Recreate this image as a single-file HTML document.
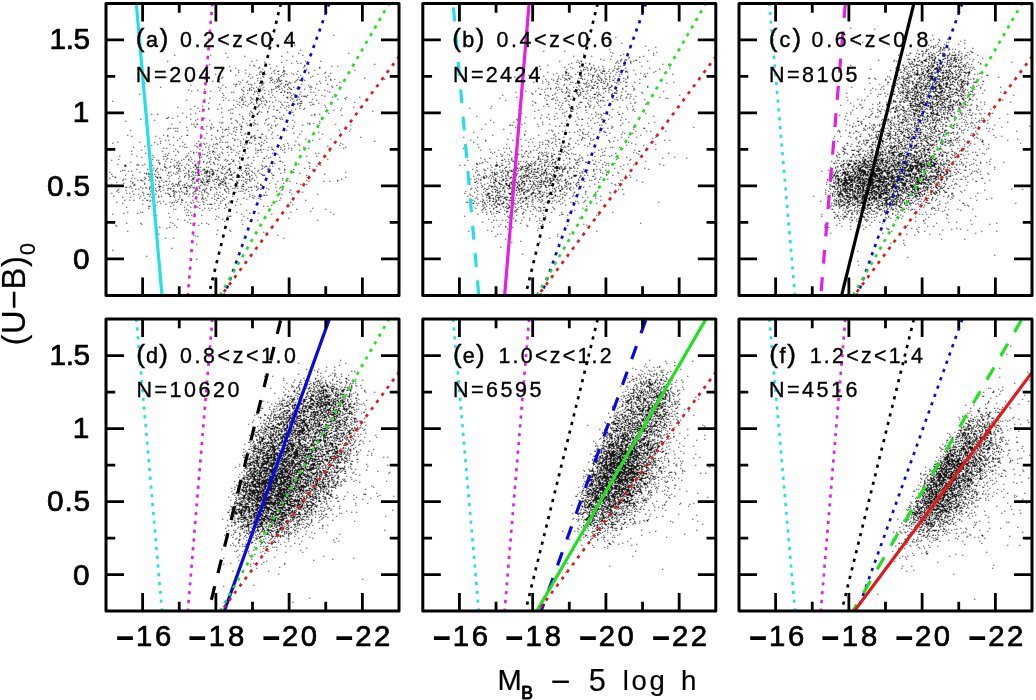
<!DOCTYPE html><html><head><meta charset="utf-8"><title>Color-magnitude diagrams</title><style>html,body{margin:0;padding:0;background:#fff;width:1036px;height:700px;overflow:hidden}svg{display:block}text{font-family:"Liberation Sans",Arial,sans-serif;fill:#000}</style></head><body><svg width="1036" height="700" viewBox="0 0 1036 700"><rect width="1036" height="700" fill="#fff"/><defs><clipPath id="c0"><rect x="106" y="3.4" width="293" height="292"/></clipPath><clipPath id="c1"><rect x="422.8" y="3.4" width="293" height="292"/></clipPath><clipPath id="c2"><rect x="739" y="3.4" width="293" height="292"/></clipPath><clipPath id="c3"><rect x="106" y="319.1" width="293" height="292"/></clipPath><clipPath id="c4"><rect x="422.8" y="319.1" width="293" height="292"/></clipPath><clipPath id="c5"><rect x="739" y="319.1" width="293" height="292"/></clipPath></defs><path d="M162 33h1m170 2h1m-48 2h1m1 3h1m-137 3h1m123 2h1m17 0h1m5 5h1m-14 2h1m-63 1h1m72 0h1m49 0h1m-175 2h1m35 0h1m91 0h1m-59 1h1m36 0h1m10 0h1m-66 1h1m28 3h1m29 0h1m-120 1h1m83 0h1m44 0h1m8 0h1m14 0h1m-57 1h1m16 0h1m9 1h1m5 0h1m2 0h1m-92 1h1m59 0h1m38 0h1m65 0h1m-126 1h1m3 0h1m50 0h1m-76 1h1m24 0h1m10 0h1m10 0h1m27 0h1m26 0h1m5 0h1m-79 1h1m23 0h1m19 0h1m15 0h1m-85 1h1m22 0h1m11 0h1m48 0h1m-58 1h1m43 0h1m-77 1h1m7 0h1m6 0h1m28 0h1m8 0h1m30 0h1m39 0h1m-125 1h1m29 0h1m3 0h1m8 0h1m3 0h2m4 0h2m12 0h1m-60 1h1m20 0h1m1 0h1m20 0h1m25 0h1m16 0h1m-119 1h1m37 0h1m25 0h1m2 0h1m9 0h1m6 0h1m16 0h1m15 0h1m5 0h1m-116 1h1m33 0h1m9 0h1m5 0h1m12 0h1m4 0h1m2 0h1m6 0h1m2 0h1m20 0h1m-83 1h1m20 0h1m24 0h1m18 0h1m-53 1h1m13 0h1m17 0h1m2 0h1m28 0h1m15 0h1m-163 1h1m55 0h1m29 0h1m10 0h1m7 0h1m6 0h1m19 0h1m3 0h1m7 0h1m14 0h1m-124 1h1m18 0h1m28 0h1m6 0h1m2 0h1m8 0h2m7 0h1m22 0h1m62 0h1m-161 1h1m67 0h1m3 0h1m1 0h1m18 0h1m32 0h1m3 0h1m49 0h1m-143 1h1m14 0h1m12 0h2m5 0h1m1 0h1m1 0h1m14 0h1m2 0h1m4 0h1m20 0h1m4 0h1m-119 1h1m25 0h1m8 0h1m14 0h1m11 0h1m2 0h1m1 0h2m4 0h2m8 0h1m23 0h1m-101 1h1m20 0h1m5 0h1m15 0h1m6 0h1m2 0h1m3 0h1m12 0h1m4 0h1m44 0h1m-196 1h1m109 0h1m4 0h1m3 0h1m10 0h1m6 0h1m6 0h1m1 0h1m29 0h1m-88 1h1m1 0h2m2 0h1m8 0h1m1 0h1m11 0h1m17 0h1m4 0h1m1 0h1m13 0h1m14 0h1m10 0h1m-138 1h1m31 0h1m28 0h1m9 0h1m16 0h1m6 0h1m1 0h1m20 0h1m27 0h1m-102 1h1m23 0h1m15 0h1m1 0h1m1 0h1m3 0h1m26 0h1m20 0h1m-172 1h1m57 0h1m6 0h1m17 0h1m7 0h1m4 0h1m6 0h1m12 0h1m1 0h1m5 0h1m3 0h1m4 0h1m3 0h1m11 0h1m1 0h1m20 0h1m-113 1h1m28 0h1m3 0h1m4 0h1m1 0h1m14 0h1m5 0h1m7 0h1m6 0h1m18 0h1m-112 1h1m36 0h1m7 0h1m7 0h1m4 0h1m8 0h1m1 0h1m5 0h1m7 0h1m2 0h2m5 0h1m6 0h1m5 0h1m-123 1h1m8 0h1m21 0h1m22 0h1m4 0h1m1 0h1m1 0h1m8 0h1m3 0h1m6 0h1m10 0h1m35 0h1m5 0h1m-134 1h1m18 0h1m32 0h1m10 0h1m1 0h1m2 0h1m8 0h1m7 0h1m7 0h1m42 0h1m-97 1h1m1 0h1m20 0h1m16 0h1m8 0h2m2 0h1m2 0h1m1 0h1m10 0h1m9 0h1m2 0h1m15 0h1m-108 1h1m24 0h1m9 0h1m6 0h1m22 0h1m2 0h1m-152 1h1m103 0h1m9 0h1m14 0h1m24 0h1m5 0h1m-77 1h1m34 0h1m13 0h1m10 0h1m7 0h1m2 0h1m12 0h1m7 0h1m5 0h1m12 0h1m-93 1h1m19 0h1m34 0h1m3 0h1m1 0h3m18 0h1m-103 1h1m17 0h1m3 0h1m5 0h1m11 0h1m7 0h1m3 0h1m11 0h2m2 0h1m4 0h2m1 0h1m7 0h1m25 0h1m13 0h1m12 0h1m-151 1h1m15 0h1m13 0h1m2 0h1m8 0h1m5 0h1m2 0h1m2 0h1m23 0h1m3 0h1m52 0h1m-141 1h1m36 0h1m10 0h1m6 0h1m32 0h1m4 0h1m1 0h1m12 0h1m24 0h1m7 0h1m-160 1h1m36 0h1m4 0h1m4 0h1m7 0h2m7 0h1m9 0h1m4 0h1m9 0h1m14 0h1m5 0h1m19 0h1m-205 1h1m123 0h1m8 0h1m10 0h1m4 0h1m1 0h1m2 0h1m2 0h1m8 0h1m14 0h1m6 0h2m-63 1h1m3 0h1m7 0h1m4 0h1m9 0h1m5 0h1m7 0h1m3 0h1m2 0h1m21 0h1m1 0h1m42 0h1m-147 1h1m41 0h1m5 0h1m4 0h1m35 0h1m1 0h3m16 0h1m-100 1h1m17 0h1m4 0h2m4 0h1m4 0h1m5 0h1m4 0h1m16 0h1m12 0h1m2 0h1m14 0h2m-81 1h1m5 0h1m5 0h1m12 0h1m6 0h1m16 0h1m5 0h1m2 0h1m8 0h1m9 0h1m13 0h1m-131 1h1m7 0h1m44 0h1m10 0h1m10 0h1m3 0h1m12 0h1m12 0h1m-123 1h1m57 0h1m5 0h1m15 0h1m4 0h1m17 0h1m7 0h1m36 0h1m27 0h1m-157 1h1m10 0h1m12 0h1m46 0h1m15 0h1m14 0h1m4 0h1m36 0h1m-152 1h1m17 0h1m8 0h1m12 0h1m1 0h1m22 0h1m17 0h1m21 0h1m7 0h1m-76 1h1m47 0h2m8 0h1m4 0h1m41 0h1m6 0h1m-142 1h1m50 0h1m8 0h1m7 0h1m104 0h1m-152 1h1m29 0h1m6 0h1m2 0h1m5 0h1m11 0h1m9 0h1m2 0h1m-111 1h1m12 0h1m34 0h1m1 0h1m16 0h1m2 0h1m4 0h1m70 0h1m-178 1h1m5 0h1m32 0h1m48 0h1m16 0h2m56 0h1m4 0h1m-71 1h1m33 0h1m9 0h1m17 0h1m2 0h1m26 0h1m-165 1h1m64 0h1m9 0h1m1 0h1m17 0h1m1 0h1m-107 1h1m17 0h1m35 0h1m58 0h1m39 0h1m-156 1h2m4 0h1m31 0h1m26 0h1m10 0h1m25 0h1m6 0h2m2 0h1m-140 1h1m49 0h1m6 0h1m32 0h1m12 0h1m22 0h1m13 0h1m1 0h1m38 0h1m-175 1h1m6 0h1m40 0h1m5 0h1m7 0h1m25 0h1m13 0h1m4 0h1m10 0h1m26 0h1m-168 1h1m110 0h1m37 0h1m44 0h1m-141 1h1m39 0h1m2 0h1m14 0h1m4 0h1m10 0h1m32 0h1m7 0h1m-74 1h1m9 0h1m14 0h1m7 0h1m9 0h1m42 0h1m1 0h1m3 0h1m5 0h1m-149 1h1m19 0h1m1 0h1m2 0h2m13 0h1m27 0h1m15 0h1m1 0h1m10 0h1m8 0h1m31 0h1m25 0h1m-89 1h1m5 0h1m13 0h1m3 0h1m3 0h1m26 0h1m47 0h1m-157 1h1m11 0h1m33 0h2m33 0h1m11 0h1m5 0h1m-108 1h1m8 0h1m14 0h1m2 0h1m6 0h1m7 0h1m5 0h1m1 0h1m4 0h1m28 0h1m46 0h1m-150 1h1m1 0h1m2 0h1m1 0h1m1 0h1m33 0h1m21 0h1m37 0h1m20 0h1m-126 1h1m35 0h1m6 0h1m11 0h1m2 0h2m1 0h1m7 0h1m3 0h2m108 0h1m-221 1h1m56 0h1m29 0h1m6 0h1m32 0h1m10 0h1m17 0h1m52 0h1m-165 1h1m1 0h1m39 0h1m15 0h1m67 0h1m47 0h1m-128 1h1m12 0h1m4 0h1m31 0h1m45 0h1m-113 1h1m22 0h1m15 0h1m47 0h1m-94 1h1m30 0h1m12 0h1m16 0h2m8 0h1m27 0h1m22 0h1m-196 1h1m35 0h1m3 0h1m18 0h2m23 0h1m15 0h1m7 0h1m5 0h1m12 0h1m22 0h1m-147 1h1m23 0h1m11 0h1m13 0h1m39 0h1m1 0h1m27 0h1m1 0h1m11 0h1m-93 1h1m41 0h1m6 0h1m23 0h1m3 0h2m2 0h1m3 0h3m36 0h1m62 0h1m-202 1h1m19 0h1m20 0h1m3 0h1m14 0h1m12 0h1m17 0h1m3 0h2m4 0h1m5 0h1m5 0h1m-62 1h1m4 0h1m17 0h1m2 0h1m5 0h1m61 0h1m13 0h1m10 0h1m-166 1h1m2 0h1m8 0h1m42 0h1m13 0h1m13 0h1m5 0h1m9 0h1m47 0h1m-153 1h1m37 0h1m41 0h1m6 0h1m47 0h1m78 0h1m-258 1h1m21 0h1m14 0h1m27 0h1m36 0h1m2 0h1m2 0h1m1 0h1m21 0h1m11 0h1m4 0h1m-155 1h1m47 0h1m35 0h1m3 0h1m2 0h1m2 0h1m9 0h1m23 0h1m8 0h1m1 0h1m6 0h1m4 0h1m23 0h1m52 0h1m-184 1h1m11 0h1m14 0h1m19 0h1m8 0h1m1 0h1m1 0h1m26 0h1m1 0h1m8 0h1m3 0h1m23 0h1m14 0h1m43 0h1m-192 1h1m21 0h1m20 0h1m14 0h1m23 0h1m6 0h1m20 0h1m26 0h1m5 0h1m4 0h1m39 0h1m-196 1h1m34 0h1m2 0h1m13 0h1m15 0h1m15 0h1m8 0h1m22 0h1m23 0h1m42 0h1m-195 1h1m50 0h1m1 0h1m10 0h1m7 0h1m2 0h1m11 0h1m5 0h2m2 0h1m11 0h1m1 0h1m23 0h1m2 0h1m8 0h1m22 0h1m41 0h1m-183 1h1m2 0h1m47 0h1m1 0h1m30 0h1m7 0h1m32 0h1m2 0h1m16 0h1m34 0h1m-169 1h1m23 0h1m8 0h1m13 0h1m7 0h2m28 0h1m2 0h1m7 0h2m7 0h1m3 0h1m19 0h1m-164 1h1m60 0h1m30 0h1m21 0h1m1 0h2m1 0h1m6 0h1m5 0h1m8 0h1m8 0h1m7 0h1m-169 1h1m30 0h1m10 0h1m3 0h1m12 0h1m18 0h1m2 0h2m25 0h1m89 0h1m-152 1h1m14 0h1m2 0h1m10 0h1m4 0h1m1 0h1m6 0h1m5 0h1m3 0h1m4 0h1m20 0h1m3 0h1m22 0h1m-140 1h1m22 0h1m19 0h1m4 0h1m4 0h1m10 0h1m12 0h1m15 0h1m6 0h1m9 0h1m16 0h1m2 0h1m39 0h1m2 0h1m-188 1h1m33 0h1m36 0h1m1 0h1m8 0h1m5 0h1m54 0h1m2 0h1m-126 1h1m14 0h1m7 0h1m11 0h1m12 0h1m6 0h1m9 0h1m10 0h1m6 0h1m6 0h1m-124 1h1m16 0h1m26 0h1m1 0h1m20 0h1m12 0h1m6 0h1m50 0h1m8 0h1m39 0h1m9 0h1m-176 1h1m11 0h1m31 0h1m4 0h1m8 0h1m1 0h1m8 0h1m3 0h1m3 0h2m19 0h1m8 0h1m4 0h1m16 0h1m8 0h1m-113 1h1m31 0h1m8 0h1m6 0h1m23 0h1m1 0h1m5 0h1m15 0h2m3 0h1m-151 1h1m33 0h1m10 0h1m2 0h1m4 0h1m11 0h1m4 0h1m2 0h1m18 0h1m4 0h1m1 0h1m7 0h1m5 0h1m95 0h1m-217 1h1m44 0h1m1 0h1m15 0h1m6 0h1m6 0h1m10 0h1m18 0h1m5 0h1m2 0h1m5 0h1m19 0h1m-89 1h1m12 0h1m11 0h1m3 0h1m8 0h1m5 0h1m16 0h1m5 0h2m4 0h1m23 0h1m16 0h2m-151 1h1m19 0h1m7 0h1m11 0h1m5 0h1m22 0h1m3 0h1m3 0h1m1 0h1m3 0h1m68 0h1m12 0h1m12 0h1m-150 1h1m17 0h1m1 0h1m12 0h1m13 0h1m6 0h1m16 0h1m8 0h1m11 0h1m20 0h1m1 0h1m34 0h1m-193 1h1m19 0h1m6 0h1m5 0h1m8 0h1m4 0h1m21 0h1m8 0h1m14 0h1m3 0h1m2 0h1m10 0h2m17 0h1m50 0h1m-175 1h2m10 0h1m1 0h1m3 0h1m9 0h1m20 0h1m2 0h1m1 0h1m2 0h1m6 0h1m5 0h2m2 0h1m21 0h1m14 0h1m8 0h1m1 0h1m1 0h1m12 0h1m22 0h1m35 0h1m-197 1h2m38 0h1m5 0h1m3 0h1m3 0h1m16 0h1m26 0h1m2 0h1m24 0h1m11 0h1m2 0h2m2 0h1m2 0h1m36 0h1m6 0h1m-153 1h2m3 0h1m4 0h1m9 0h1m8 0h1m2 0h3m1 0h1m5 0h1m1 0h1m13 0h1m41 0h1m-112 1h1m3 0h1m8 0h1m9 0h2m1 0h1m5 0h1m4 0h1m5 0h1m21 0h1m2 0h1m2 0h1m4 0h1m7 0h1m1 0h1m5 0h2m1 0h1m5 0h1m7 0h1m5 0h1m9 0h1m25 0h1m4 0h1m-174 1h1m10 0h1m8 0h1m3 0h1m18 0h1m15 0h1m1 0h2m4 0h2m5 0h2m10 0h1m5 0h2m31 0h1m5 0h1m1 0h1m9 0h1m4 0h1m8 0h1m18 0h1m-191 1h1m1 0h1m27 0h1m2 0h1m6 0h1m2 0h1m12 0h1m4 0h1m4 0h1m9 0h1m3 0h1m1 0h1m2 0h1m4 0h1m2 0h1m1 0h1m9 0h1m1 0h1m9 0h1m1 0h1m3 0h1m3 0h1m8 0h1m10 0h1m14 0h1m-165 1h1m7 0h1m2 0h1m23 0h1m22 0h1m1 0h1m7 0h1m3 0h1m4 0h1m2 0h1m4 0h3m1 0h1m1 0h2m4 0h1m12 0h1m13 0h1m2 0h1m3 0h1m5 0h1m-149 1h1m29 0h1m17 0h1m10 0h1m1 0h1m5 0h1m11 0h1m2 0h1m1 0h1m1 0h1m8 0h1m1 0h2m1 0h1m3 0h1m6 0h1m5 0h2m2 0h1m3 0h1m10 0h1m6 0h1m15 0h2m14 0h1m6 0h3m51 0h1m-202 1h1m1 0h1m1 0h1m19 0h1m4 0h1m3 0h1m6 0h1m1 0h1m8 0h1m1 0h2m5 0h3m2 0h1m2 0h2m7 0h2m2 0h1m7 0h1m8 0h1m3 0h1m1 0h1m5 0h1m4 0h1m11 0h1m8 0h1m18 0h1m-189 1h1m34 0h1m1 0h2m4 0h1m3 0h1m16 0h1m12 0h1m3 0h1m5 0h1m2 0h1m9 0h3m2 0h1m7 0h1m4 0h1m1 0h1m5 0h1m8 0h1m1 0h1m12 0h1m62 0h1m-200 1h1m6 0h1m34 0h1m3 0h1m13 0h1m2 0h1m4 0h1m1 0h1m1 0h3m6 0h1m2 0h1m2 0h1m15 0h1m1 0h2m4 0h1m4 0h1m4 0h1m4 0h1m3 0h1m6 0h3m7 0h2m32 0h1m-195 1h1m35 0h1m6 0h1m13 0h1m9 0h1m4 0h1m4 0h1m1 0h1m12 0h1m2 0h3m6 0h1m1 0h1m5 0h1m14 0h1m9 0h1m58 0h1m-195 1h2m28 0h1m4 0h1m2 0h1m3 0h2m1 0h2m23 0h1m3 0h1m5 0h1m11 0h1m2 0h1m1 0h1m6 0h1m6 0h1m6 0h1m3 0h1m2 0h1m2 0h2m5 0h1m6 0h1m88 0h1m-237 1h1m21 0h1m2 0h1m10 0h1m11 0h1m2 0h1m7 0h1m9 0h1m13 0h2m4 0h1m3 0h1m14 0h1m5 0h1m1 0h2m25 0h1m19 0h1m9 0h1m-160 1h1m1 0h1m18 0h1m4 0h1m1 0h1m36 0h1m3 0h2m5 0h1m2 0h1m3 0h1m1 0h2m4 0h3m1 0h1m2 0h1m1 0h1m5 0h3m13 0h1m1 0h1m1 0h1m1 0h1m89 0h1m-220 1h1m14 0h1m2 0h2m6 0h1m6 0h1m5 0h1m29 0h1m4 0h2m2 0h1m2 0h1m3 0h1m4 0h1m4 0h1m1 0h1m4 0h1m7 0h1m5 0h1m2 0h1m7 0h1m4 0h1m27 0h1m23 0h1m30 0h1m-208 1h1m11 0h1m7 0h1m7 0h1m6 0h2m2 0h1m9 0h2m11 0h1m3 0h1m4 0h1m4 0h4m3 0h1m6 0h1m1 0h2m12 0h1m6 0h1m2 0h1m3 0h1m26 0h1m8 0h1m2 0h1m18 0h1m14 0h1m5 0h1m7 0h1m-222 1h1m15 0h1m18 0h1m7 0h1m3 0h1m14 0h1m15 0h1m5 0h3m1 0h1m1 0h2m8 0h1m4 0h2m2 0h1m10 0h2m7 0h1m-123 1h1m8 0h1m11 0h1m27 0h1m5 0h1m7 0h1m5 0h1m1 0h1m3 0h1m3 0h1m5 0h1m10 0h2m3 0h2m2 0h1m8 0h1m8 0h1m10 0h1m11 0h1m13 0h1m12 0h1m-186 1h1m22 0h1m9 0h1m6 0h1m3 0h1m2 0h1m9 0h1m2 0h1m3 0h2m1 0h1m5 0h1m18 0h1m1 0h1m8 0h1m3 0h1m1 0h1m1 0h1m2 0h1m16 0h2m16 0h1m14 0h1m24 0h1m5 0h1m-174 1h2m28 0h1m2 0h1m6 0h1m3 0h1m1 0h1m2 0h1m1 0h1m2 0h1m2 0h2m8 0h1m3 0h1m2 0h1m10 0h2m3 0h1m36 0h2m-141 1h1m8 0h1m19 0h1m7 0h3m11 0h1m1 0h1m2 0h1m10 0h2m8 0h1m26 0h2m3 0h1m4 0h1m1 0h1m3 0h3m10 0h1m1 0h1m-132 1h2m2 0h1m10 0h1m4 0h1m3 0h1m9 0h1m2 0h1m20 0h4m3 0h1m1 0h1m1 0h1m1 0h1m2 0h1m10 0h2m2 0h1m3 0h1m16 0h1m12 0h1m1 0h2m4 0h1m18 0h1m4 0h1m-150 1h1m10 0h1m3 0h1m2 0h1m5 0h1m11 0h2m1 0h1m2 0h1m6 0h1m5 0h1m2 0h1m3 0h1m5 0h1m6 0h1m8 0h1m4 0h1m5 0h2m4 0h1m1 0h1m2 0h1m3 0h1m16 0h1m7 0h1m12 0h1m-162 1h1m16 0h1m2 0h1m10 0h1m9 0h1m10 0h1m9 0h1m14 0h1m7 0h1m1 0h1m4 0h1m5 0h1m7 0h1m3 0h1m14 0h1m2 0h1m10 0h1m2 0h1m7 0h1m13 0h1m-166 1h1m7 0h1m26 0h1m2 0h1m2 0h1m4 0h1m3 0h1m5 0h1m12 0h1m10 0h1m4 0h1m1 0h1m5 0h1m13 0h1m20 0h1m5 0h1m4 0h1m24 0h1m8 0h1m-175 1h1m15 0h1m17 0h1m5 0h1m3 0h1m11 0h2m1 0h1m2 0h1m2 0h1m4 0h2m6 0h2m3 0h1m4 0h1m20 0h1m2 0h1m9 0h1m1 0h1m1 0h1m5 0h1m27 0h1m19 0h1m-179 1h1m23 0h1m31 0h1m1 0h1m2 0h1m2 0h1m10 0h1m7 0h1m2 0h1m1 0h1m9 0h1m2 0h1m6 0h1m8 0h1m29 0h1m23 0h1m12 0h1m-192 1h1m14 0h1m2 0h1m13 0h1m21 0h1m1 0h1m5 0h1m10 0h1m1 0h1m5 0h1m2 0h1m11 0h1m20 0h1m15 0h1m34 0h1m-147 1h1m4 0h1m8 0h2m1 0h1m4 0h1m12 0h2m4 0h1m9 0h1m1 0h1m2 0h1m3 0h1m4 0h1m2 0h1m6 0h1m5 0h1m1 0h1m5 0h1m26 0h1m31 0h1m9 0h1m25 0h1m-175 1h1m29 0h1m5 0h1m22 0h1m15 0h1m33 0h1m10 0h2m1 0h1m-154 1h1m26 0h1m8 0h1m8 0h1m2 0h1m7 0h2m2 0h1m14 0h1m3 0h1m14 0h1m6 0h1m5 0h1m11 0h1m16 0h1m4 0h1m6 0h1m-140 1h1m7 0h1m20 0h1m6 0h1m15 0h1m4 0h1m16 0h1m5 0h1m23 0h1m25 0h1m-114 1h1m4 0h1m57 0h1m2 0h1m5 0h1m5 0h2m4 0h1m19 0h1m9 0h1m4 0h1m21 0h1m-129 1h1m25 0h1m2 0h1m19 0h1m1 0h1m10 0h1m9 0h1m12 0h1m8 0h1m13 0h1m-137 1h1m4 0h1m3 0h1m8 0h1m3 0h2m2 0h1m24 0h1m5 0h2m9 0h1m13 0h1m9 0h1m5 0h1m56 0h1m25 0h1m-157 1h1m9 0h1m3 0h1m13 0h1m18 0h1m5 0h1m17 0h1m8 0h1m6 0h1m39 0h1m-161 1h1m40 0h1m11 0h1m2 0h1m1 0h1m1 0h1m4 0h1m3 0h1m4 0h1m2 0h1m4 0h1m4 0h1m27 0h1m41 0h1m16 0h1m-169 1h1m37 0h1m10 0h1m19 0h1m22 0h1m5 0h1m7 0h1m-87 1h1m22 0h1m14 0h1m22 0h1m3 0h1m1 0h3m13 0h1m14 0h1m51 0h1m-138 1h1m17 0h1m13 0h1m11 0h1m18 0h1m6 0h1m9 0h1m35 0h1m-124 1h2m20 0h1m23 0h1m68 0h1m3 0h1m-142 1h1m57 0h1m5 0h1m4 0h1m1 0h1m28 0h1m-79 1h1m50 0h1m4 0h1m3 0h1m2 0h1m6 0h1m5 0h1m87 0h1m-140 1h1m1 0h1m10 0h1m28 0h1m13 0h1m66 0h1m28 0h1m-142 1h1m3 0h1m13 0h1m6 0h1m19 0h1m16 0h1m-18 1h1m80 0h1m-184 1h1m12 0h1m1 0h1m44 0h1m2 0h1m45 0h1m53 0h1m39 0h1m-208 1h1m13 0h1m30 0h1m25 0h1m54 0h1m3 0h1m4 0h1m-147 1h1m128 0h1m29 0h1m61 0h1m-181 1h2m1 0h1m29 0h1m1 0h1m2 0h1m9 0h1m14 1h1m10 0h1m1 0h2m12 0h1m-75 1h1m48 0h1m28 1h1m40 0h1m-112 1h1m11 0h1m25 0h1m6 0h1m-39 1h1m56 0h1m15 0h1m59 0h1m-94 1h1m-55 1h1m16 0h1m-62 1h1m13 0h1m14 0h1m16 0h1m17 0h1m3 0h1m6 0h1m4 0h1m-66 1h1m66 0h1m33 0h1m-128 1h1m58 0h1m23 0h1m-83 1h1m42 1h1m9 0h1m6 0h1m-11 1h1m50 2h1m11 0h1m-103 1h1m102 0h1m32 1h1m-72 1h1m-35 1h1m57 0h1m-24 1h1m83 0h1m-83 1h1m1 0h1m-33 2h1m7 0h1m109 0h1m-88 6h1m-26 4h1m-60 2h1m33 6h1m49 3h1" stroke="#000" stroke-width="1.1" fill="none" transform="translate(0.3 0.3)" opacity="0.9"/><path d="M615 37h1m-13 5h1m4 0h1m12 1h1m23 3h1m9 1h1m-27 1h1m-21 1h1m38 1h1m-106 1h1m20 0h1m45 1h1m45 0h1m-45 1h1m40 0h1m-71 1h1m39 0h1m-4 1h1m32 0h1m-81 1h1m17 0h1m19 0h1m31 0h1m-15 1h1m9 0h1m-56 1h1m43 0h1m-29 1h1m9 0h1m10 0h1m3 0h1m-49 1h1m25 0h1m16 0h1m3 0h1m1 0h1m8 0h2m-78 1h1m20 0h2m35 0h1m2 0h1m9 0h1m2 0h1m13 0h1m-72 1h1m1 0h1m37 0h1m7 0h1m5 0h1m8 0h1m-69 1h1m7 0h1m5 0h1m3 0h1m25 0h1m2 0h1m11 0h1m-63 1h1m20 0h1m72 0h1m5 0h1m-122 1h1m45 0h1m29 0h2m-86 1h1m39 0h1m22 0h1m11 0h1m3 0h1m1 0h1m20 0h1m-78 1h1m5 0h1m8 0h1m4 0h1m1 0h1m4 0h1m6 0h1m-27 1h1m14 0h1m3 0h1m2 0h1m8 0h1m10 0h1m3 0h1m6 0h1m23 0h1m19 0h1m-130 1h1m25 0h1m16 0h1m1 0h1m4 0h1m3 0h1m14 0h1m6 0h2m41 0h1m-80 1h1m2 0h1m3 0h1m2 0h1m5 0h1m2 0h1m3 0h1m9 0h1m9 0h1m9 0h1m-69 1h1m15 0h1m13 0h1m6 0h3m3 0h1m3 0h1m5 0h1m6 0h2m28 0h1m-109 1h1m17 0h2m10 0h1m2 0h1m13 0h1m5 0h1m15 0h1m8 0h1m1 0h1m25 0h1m-98 1h1m8 0h2m1 0h1m19 0h1m12 0h2m3 0h1m3 0h1m29 0h1m6 0h1m-111 1h1m15 0h1m21 0h1m4 0h1m3 0h1m5 0h1m6 0h1m6 0h1m10 0h1m3 0h1m1 0h1m13 0h1m8 0h1m27 0h1m-145 1h1m33 0h1m2 0h1m1 0h2m10 0h2m7 0h1m3 0h2m4 0h1m-70 1h1m13 0h1m14 0h1m11 0h1m9 0h2m10 0h1m3 0h1m1 0h1m6 0h1m3 0h1m3 0h1m5 0h1m7 0h1m15 0h1m1 0h1m-132 1h1m47 0h1m8 0h1m20 0h1m4 0h1m1 0h1m9 0h1m17 0h1m17 0h1m-88 1h1m5 0h1m3 0h2m8 0h1m1 0h2m18 0h1m3 0h1m9 0h1m8 0h1m3 0h1m-83 1h1m5 0h1m5 0h1m2 0h1m4 0h2m2 0h1m12 0h1m1 0h1m7 0h1m4 0h1m3 0h1m3 0h2m2 0h1m8 0h1m6 0h1m13 0h1m-87 1h1m10 0h1m2 0h1m19 0h1m2 0h1m7 0h2m1 0h1m10 0h2m-72 1h1m3 0h1m9 0h2m20 0h1m12 0h1m3 0h1m7 0h1m1 0h1m3 0h1m13 0h1m-91 1h1m14 0h1m21 0h1m1 0h1m6 0h1m6 0h1m4 0h1m2 0h1m5 0h2m12 0h1m2 0h1m2 0h1m4 0h2m7 0h1m38 0h1m-132 1h1m12 0h1m19 0h1m3 0h1m3 0h1m1 0h1m2 0h1m7 0h2m5 0h2m2 0h1m8 0h1m22 0h1m26 0h1m-119 1h1m8 0h1m6 0h1m4 0h1m14 0h1m1 0h1m20 0h1m10 0h1m-56 1h1m14 0h1m10 0h1m3 0h2m12 0h1m3 0h1m-33 1h1m6 0h1m1 0h1m2 0h1m5 0h1m4 0h1m3 0h1m4 0h1m13 0h2m5 0h1m14 0h1m-92 1h1m1 0h1m7 0h1m6 0h1m2 0h1m8 0h1m1 0h1m4 0h1m4 0h1m11 0h2m36 0h1m-110 1h1m8 0h1m2 0h1m4 0h1m10 0h1m14 0h1m9 0h3m2 0h1m5 0h1m1 0h2m2 0h1m5 0h1m7 0h1m10 0h1m-93 1h1m3 0h1m4 0h1m8 0h1m1 0h1m5 0h1m10 0h1m3 0h1m15 0h1m4 0h1m5 0h1m12 0h1m11 0h1m-78 1h1m11 0h1m9 0h1m7 0h1m2 0h1m17 0h1m2 0h1m4 0h1m16 0h1m-109 1h1m9 0h1m25 0h1m4 0h1m6 0h2m7 0h2m2 0h1m18 0h1m10 0h1m8 0h1m37 0h1m-149 1h1m28 0h1m17 0h1m3 0h1m1 0h1m8 0h1m2 0h1m15 0h1m1 0h1m9 0h1m5 0h1m6 0h1m19 0h1m-111 1h1m23 0h1m9 0h1m3 0h1m6 0h1m3 0h1m6 0h1m15 0h1m8 0h1m1 0h3m25 0h1m-111 1h1m6 0h2m13 0h1m22 0h1m1 0h1m5 0h1m7 0h3m2 0h2m11 0h1m15 0h2m1 0h1m-129 1h1m42 0h1m1 0h1m4 0h1m15 0h1m9 0h1m1 0h1m16 0h1m2 0h1m10 0h1m9 0h1m57 0h1m-132 1h1m18 0h3m2 0h1m5 0h1m4 0h1m5 0h1m7 0h1m22 0h1m9 0h1m4 0h1m-120 1h1m39 0h1m35 0h1m1 0h1m7 0h2m12 0h1m9 0h1m32 0h1m-161 1h1m44 0h1m8 0h1m10 0h2m17 0h1m1 0h2m3 0h1m3 0h1m17 0h1m7 0h1m4 0h1m3 0h1m35 0h1m1 0h1m-117 1h2m17 0h1m26 0h1m16 0h1m1 0h1m16 0h1m10 0h1m-140 1h1m40 0h1m8 0h1m1 0h1m8 0h1m21 0h1m11 0h1m1 0h1m4 0h1m9 0h1m4 0h1m-91 1h1m32 0h1m2 0h1m21 0h1m7 0h1m1 0h1m2 0h1m8 0h1m-79 1h1m24 0h1m19 0h3m14 0h1m38 0h1m-101 1h1m19 0h1m6 0h1m24 0h1m9 0h1m32 0h1m3 0h1m11 0h1m-101 1h2m20 0h1m9 0h1m9 0h1m21 0h1m34 0h1m-114 1h1m25 0h1m2 0h1m7 0h1m20 0h1m7 0h1m5 0h1m3 0h1m-118 1h1m51 0h1m4 0h1m27 0h1m8 0h1m3 0h1m4 0h1m37 0h1m-73 1h1m8 0h1m9 0h1m5 0h1m3 0h1m10 0h1m18 0h1m6 0h1m-158 1h1m20 0h1m64 0h1m15 0h1m5 0h1m15 0h1m-35 1h1m2 0h1m10 0h1m38 0h1m14 0h1m5 0h1m-116 1h1m19 0h1m31 0h1m14 0h1m46 0h1m-99 1h1m31 0h1m3 0h3m61 0h1m-71 1h1m21 0h1m8 0h1m21 0h1m-97 1h1m34 0h1m5 0h1m13 0h1m26 0h1m18 0h1m22 0h1m-98 1h1m21 0h1m20 0h1m4 0h1m1 0h1m1 0h1m6 0h1m10 0h2m-79 1h1m28 0h1m30 0h1m7 0h1m-134 1h1m77 0h1m9 0h1m6 0h1m23 0h1m57 0h1m-129 1h1m20 0h1m30 0h1m22 0h1m10 0h1m9 0h1m-88 1h1m5 0h1m16 0h1m11 0h1m18 0h1m3 0h1m5 0h1m-83 1h1m32 0h1m4 0h1m23 0h1m2 0h2m18 0h2m5 0h1m16 0h1m-136 1h1m26 0h1m48 0h1m23 0h1m13 0h1m15 0h1m-46 1h1m-83 1h1m19 0h1m28 0h1m54 0h1m30 0h1m25 0h1m-131 1h1m36 0h1m25 0h1m6 0h1m10 0h1m16 0h1m25 0h1m-164 1h1m35 0h1m15 0h1m4 0h1m6 0h1m26 0h1m-68 1h2m1 0h1m64 0h1m3 0h1m17 0h1m1 0h1m18 0h1m-83 1h1m16 0h1m3 0h1m4 0h1m23 0h1m22 0h1m-97 1h1m3 0h1m92 0h1m20 0h1m59 0h1m-103 1h1m8 0h1m1 0h1m4 0h1m3 0h1m31 0h2m-164 1h1m21 0h1m75 0h1m3 0h1m49 0h1m-117 1h1m30 0h1m2 0h1m13 0h1m14 0h1m-56 1h1m26 0h1m9 0h1m14 0h1m25 0h1m31 0h1m10 0h1m3 0h1m14 0h1m-193 1h1m95 0h1m4 0h1m7 0h1m5 0h1m10 0h1m4 0h2m16 0h1m-113 1h1m35 0h1m11 0h1m23 0h1m26 0h1m14 0h1m7 0h1m-116 1h1m6 0h1m29 0h1m28 0h1m1 0h1m1 0h1m5 0h1m27 0h1m-130 1h1m31 0h1m13 0h1m14 0h1m25 0h1m26 0h1m33 0h1m-124 1h1m37 0h1m32 0h1m67 0h1m-194 1h1m13 0h1m85 0h1m18 0h1m31 0h1m6 0h1m6 0h1m7 0h1m18 0h1m-123 1h1m17 0h1m1 0h1m16 0h1m11 0h1m1 0h1m5 0h1m61 0h1m-146 1h1m12 0h1m9 0h1m24 0h1m2 0h2m9 0h1m11 0h1m11 0h1m-124 1h1m14 0h1m26 0h1m12 0h1m19 0h1m1 0h1m29 0h1m3 0h1m8 0h1m1 0h1m15 0h1m8 0h1m46 0h1m4 0h1m-185 1h1m62 0h1m6 0h1m53 0h1m3 0h1m-141 1h1m54 0h1m3 0h1m6 0h1m2 0h1m5 0h1m3 0h1m56 0h1m18 0h1m-78 1h1m7 0h1m8 0h1m6 0h1m13 0h1m41 0h1m-155 1h1m28 0h1m35 0h1m2 0h1m1 0h1m7 0h1m12 0h2m8 0h1m10 0h1m45 0h1m19 0h1m-117 1h1m21 0h1m22 0h1m41 0h1m16 0h1m-123 1h1m6 0h1m5 0h1m13 0h1m7 0h1m3 0h1m3 0h1m2 0h2m18 0h1m-110 1h1m60 0h1m21 0h1m1 0h1m1 0h1m7 0h1m36 0h1m1 0h1m6 0h1m-157 1h1m39 0h1m2 0h1m2 0h1m27 0h1m7 0h1m6 0h1m7 0h1m44 0h1m-117 1h1m25 0h1m45 0h1m8 0h1m30 0h1m53 0h1m-176 1h1m17 0h1m22 0h1m11 0h1m2 0h1m16 0h1m14 0h1m29 0h1m35 0h1m10 0h1m-136 1h1m14 0h2m3 0h1m27 0h1m1 0h1m3 0h1m39 0h1m33 0h2m-150 1h1m3 0h1m9 0h1m6 0h1m18 0h1m8 0h1m1 0h1m2 0h1m1 0h1m14 0h1m1 0h1m2 0h1m27 0h1m7 0h1m30 0h1m-142 1h1m22 0h1m8 0h1m3 0h1m9 0h1m3 0h1m5 0h1m2 0h1m15 0h1m3 0h1m20 0h1m22 0h1m20 0h1m31 0h1m-169 1h1m6 0h1m9 0h2m2 0h1m19 0h1m4 0h1m6 0h2m3 0h3m7 0h1m4 0h1m1 0h1m62 0h1m-174 1h1m36 0h1m6 0h1m33 0h1m1 0h1m5 0h1m13 0h1m13 0h1m7 0h1m14 0h1m1 0h1m6 0h1m-116 1h1m4 0h1m19 0h1m1 0h1m3 0h1m10 0h1m3 0h1m3 0h2m3 0h2m41 0h1m5 0h1m8 0h1m-96 1h1m7 0h1m5 0h1m4 0h1m4 0h1m8 0h1m3 0h1m29 0h1m44 0h1m47 0h1m-195 1h1m8 0h1m21 0h1m26 0h1m17 0h1m1 0h1m7 0h1m2 0h1m9 0h1m2 0h1m35 0h1m43 0h1m23 0h1m-203 1h1m19 0h1m3 0h1m2 0h1m25 0h2m1 0h1m1 0h1m4 0h1m4 0h2m15 0h1m4 0h1m3 0h1m37 0h1m13 0h1m-164 1h1m33 0h2m8 0h1m3 0h1m28 0h1m1 0h1m4 0h1m5 0h1m5 0h1m11 0h1m1 0h1m4 0h1m9 0h1m7 0h1m28 0h1m-145 1h1m19 0h1m2 0h1m3 0h2m4 0h1m1 0h1m2 0h1m2 0h1m4 0h1m3 0h1m3 0h2m6 0h1m7 0h1m23 0h1m15 0h1m49 0h1m-164 1h1m4 0h1m8 0h1m17 0h1m10 0h1m8 0h1m9 0h3m2 0h1m2 0h1m1 0h2m13 0h1m6 0h2m7 0h2m11 0h1m5 0h1m-129 1h1m2 0h1m1 0h1m19 0h1m7 0h1m8 0h1m8 0h1m2 0h1m2 0h1m1 0h1m5 0h1m10 0h1m1 0h1m20 0h1m30 0h1m1 0h1m5 0h1m-139 1h2m18 0h1m11 0h1m6 0h1m2 0h1m9 0h1m2 0h1m2 0h1m4 0h1m4 0h1m3 0h1m2 0h1m3 0h1m2 0h1m4 0h1m3 0h1m8 0h1m16 0h2m7 0h1m24 0h1m31 0h1m-201 1h1m4 0h1m25 0h1m4 0h3m3 0h2m13 0h1m9 0h1m1 0h3m3 0h1m3 0h1m5 0h1m33 0h1m26 0h1m2 0h1m14 0h1m9 0h1m29 0h1m-169 1h2m2 0h1m15 0h1m4 0h1m1 0h1m1 0h2m3 0h1m1 0h1m9 0h1m2 0h1m2 0h2m1 0h1m1 0h2m6 0h1m4 0h1m7 0h1m22 0h1m23 0h1m-145 1h1m14 0h1m7 0h1m5 0h2m2 0h1m4 0h1m1 0h1m4 0h2m4 0h2m12 0h1m12 0h2m3 0h1m1 0h1m2 0h1m4 0h1m3 0h1m28 0h1m-116 1h1m16 0h1m10 0h3m1 0h1m1 0h1m3 0h3m3 0h1m5 0h2m7 0h1m7 0h1m3 0h2m1 0h1m2 0h2m3 0h3m2 0h1m2 0h1m36 0h1m29 0h1m-173 1h1m10 0h1m10 0h1m18 0h1m2 0h1m3 0h2m1 0h1m3 0h1m1 0h1m3 0h3m1 0h1m3 0h2m2 0h1m2 0h1m3 0h1m6 0h1m2 0h3m18 0h1m9 0h1m2 0h1m2 0h1m22 0h1m25 0h1m-173 1h1m7 0h2m4 0h1m8 0h1m2 0h1m2 0h1m3 0h1m1 0h1m1 0h1m4 0h1m1 0h1m4 0h2m1 0h1m2 0h1m7 0h1m4 0h2m7 0h1m2 0h2m4 0h1m6 0h1m17 0h1m5 0h1m6 0h1m4 0h1m24 0h1m-154 1h1m24 0h1m2 0h1m1 0h1m2 0h3m4 0h1m6 0h1m1 0h1m4 0h1m2 0h1m2 0h1m3 0h1m3 0h1m5 0h1m2 0h1m1 0h1m5 0h1m4 0h1m5 0h1m2 0h1m5 0h1m10 0h1m-119 1h1m15 0h2m1 0h1m1 0h1m3 0h2m5 0h2m4 0h1m11 0h1m2 0h1m2 0h1m1 0h1m1 0h3m5 0h2m1 0h1m7 0h1m7 0h1m4 0h1m13 0h1m4 0h1m13 0h1m5 0h1m10 0h1m-134 1h1m9 0h1m2 0h1m5 0h1m3 0h1m7 0h1m1 0h1m4 0h1m6 0h2m7 0h1m2 0h1m1 0h2m1 0h1m2 0h1m8 0h1m8 0h1m11 0h1m2 0h1m3 0h1m15 0h1m15 0h1m-151 1h1m9 0h1m13 0h1m1 0h3m10 0h1m4 0h3m1 0h1m8 0h1m2 0h1m3 0h3m6 0h2m3 0h1m1 0h1m1 0h1m2 0h1m7 0h1m32 0h1m11 0h1m-130 1h1m1 0h1m5 0h1m4 0h1m3 0h1m6 0h1m3 0h1m1 0h1m5 0h1m2 0h1m4 0h1m1 0h2m1 0h2m11 0h2m2 0h1m2 0h1m4 0h1m1 0h2m4 0h2m1 0h1m10 0h4m3 0h1m3 0h1m2 0h1m18 0h1m5 0h1m12 0h1m3 0h1m-157 1h1m9 0h1m2 0h1m2 0h1m2 0h1m4 0h1m4 0h1m2 0h1m2 0h1m5 0h2m3 0h2m2 0h1m1 0h4m3 0h1m1 0h3m3 0h1m11 0h1m6 0h1m1 0h1m6 0h1m4 0h3m4 0h1m11 0h2m-113 1h1m1 0h2m1 0h1m6 0h1m5 0h1m1 0h1m8 0h2m1 0h1m1 0h1m2 0h1m2 0h1m1 0h2m4 0h1m1 0h1m6 0h1m6 0h1m1 0h1m9 0h1m13 0h1m7 0h1m2 0h1m17 0h1m29 0h1m-155 1h1m6 0h2m3 0h1m2 0h1m3 0h1m9 0h2m2 0h2m1 0h3m5 0h1m1 0h1m3 0h1m1 0h1m1 0h1m2 0h1m1 0h3m3 0h1m3 0h2m2 0h2m1 0h1m16 0h1m1 0h1m9 0h1m13 0h1m-126 1h1m3 0h1m3 0h1m1 0h1m12 0h1m1 0h1m6 0h2m11 0h1m4 0h1m24 0h1m3 0h1m3 0h2m1 0h2m2 0h1m4 0h1m12 0h1m15 0h1m4 0h1m7 0h1m-128 1h1m9 0h1m3 0h2m3 0h1m2 0h2m2 0h2m4 0h1m8 0h1m4 0h1m2 0h1m4 0h1m5 0h2m5 0h1m1 0h2m1 0h2m3 0h1m1 0h1m4 0h2m12 0h1m10 0h1m1 0h1m11 0h1m16 0h1m1 0h1m13 0h1m-161 1h1m18 0h2m4 0h1m3 0h1m6 0h2m4 0h1m3 0h3m1 0h1m2 0h2m1 0h1m3 0h1m1 0h1m2 0h1m1 0h3m1 0h1m2 0h2m3 0h1m2 0h1m2 0h1m5 0h1m16 0h1m-116 1h1m4 0h2m14 0h1m2 0h2m3 0h1m11 0h2m2 0h3m1 0h1m2 0h2m10 0h1m3 0h1m1 0h3m1 0h1m2 0h2m2 0h1m5 0h1m8 0h2m6 0h1m3 0h2m19 0h1m43 0h1m-166 1h1m2 0h1m6 0h1m5 0h1m4 0h2m5 0h2m2 0h1m1 0h1m5 0h1m3 0h1m1 0h2m8 0h1m9 0h1m5 0h2m6 0h2m6 0h1m2 0h1m1 0h1m5 0h1m34 0h1m6 0h1m-135 1h1m9 0h1m4 0h3m3 0h2m2 0h1m1 0h3m3 0h1m1 0h1m1 0h1m2 0h1m3 0h1m1 0h1m2 0h2m2 0h1m1 0h3m1 0h1m22 0h1m1 0h1m1 0h1m4 0h1m2 0h1m15 0h1m19 0h1m-134 1h1m7 0h1m12 0h1m3 0h4m2 0h1m2 0h1m2 0h2m4 0h1m7 0h1m2 0h1m8 0h2m2 0h4m7 0h1m4 0h1m11 0h1m38 0h1m-134 1h1m5 0h1m1 0h3m1 0h2m4 0h1m3 0h1m3 0h2m7 0h1m1 0h1m3 0h1m7 0h1m3 0h1m1 0h2m1 0h2m3 0h1m2 0h1m3 0h1m5 0h1m2 0h1m3 0h2m9 0h1m3 0h1m8 0h1m-113 1h1m3 0h1m9 0h1m1 0h1m2 0h1m6 0h1m5 0h1m1 0h3m2 0h2m4 0h1m4 0h1m3 0h1m1 0h1m6 0h1m4 0h2m9 0h1m4 0h1m2 0h1m5 0h1m8 0h1m3 0h1m-113 1h1m3 0h1m8 0h1m3 0h1m8 0h1m1 0h1m2 0h2m3 0h1m1 0h2m2 0h1m2 0h1m1 0h1m1 0h2m8 0h1m5 0h2m1 0h1m12 0h1m1 0h1m3 0h1m3 0h1m4 0h1m1 0h1m3 0h1m-104 1h1m12 0h1m2 0h2m4 0h1m1 0h2m12 0h1m2 0h2m5 0h2m1 0h1m1 0h2m3 0h1m3 0h1m1 0h1m14 0h1m4 0h1m6 0h2m3 0h1m2 0h1m8 0h1m39 0h1m3 0h1m-147 1h1m19 0h2m4 0h1m1 0h1m8 0h1m1 0h2m1 0h1m2 0h2m3 0h2m1 0h1m3 0h1m3 0h1m8 0h1m8 0h1m3 0h2m9 0h1m44 0h1m-151 1h1m11 0h1m7 0h1m5 0h1m3 0h1m3 0h2m3 0h1m6 0h1m7 0h1m1 0h1m3 0h1m1 0h2m9 0h3m11 0h1m2 0h1m3 0h2m24 0h1m11 0h1m-124 1h1m8 0h1m8 0h1m2 0h1m1 0h2m5 0h1m6 0h1m1 0h1m3 0h1m1 0h1m3 0h2m1 0h1m5 0h2m5 0h1m2 0h1m1 0h1m9 0h1m9 0h1m9 0h1m10 0h1m9 0h1m13 0h1m-146 1h1m22 0h3m7 0h1m1 0h1m8 0h3m1 0h1m10 0h1m7 0h3m1 0h1m2 0h2m6 0h1m1 0h1m17 0h1m6 0h1m36 0h1m-142 1h1m7 0h1m3 0h1m3 0h1m1 0h2m14 0h1m5 0h3m1 0h1m2 0h1m3 0h1m2 0h2m5 0h2m5 0h1m2 0h1m2 0h1m6 0h3m7 0h1m1 0h1m15 0h1m6 0h1m37 0h1m-154 1h1m15 0h2m3 0h2m3 0h2m1 0h1m16 0h1m2 0h1m11 0h1m3 0h1m6 0h1m5 0h1m5 0h2m8 0h2m7 0h1m-107 1h1m4 0h1m9 0h1m5 0h2m5 0h1m4 0h1m1 0h1m9 0h1m15 0h2m4 0h2m5 0h2m3 0h2m7 0h1m1 0h1m1 0h1m12 0h1m3 0h1m16 0h1m1 0h1m4 0h1m-125 1h1m9 0h1m2 0h1m5 0h1m1 0h3m1 0h1m2 0h4m2 0h1m10 0h1m3 0h2m5 0h1m4 0h1m1 0h2m5 0h1m6 0h1m8 0h1m19 0h1m4 0h1m-113 1h1m12 0h3m1 0h2m4 0h1m4 0h2m5 0h2m3 0h1m2 0h1m1 0h1m1 0h1m1 0h3m1 0h1m6 0h1m13 0h1m1 0h2m9 0h1m6 0h1m25 0h1m-119 1h1m4 0h1m10 0h1m1 0h1m2 0h1m6 0h2m5 0h1m7 0h1m5 0h1m5 0h1m5 0h1m2 0h1m18 0h1m-89 1h1m10 0h1m2 0h1m2 0h1m6 0h1m1 0h1m1 0h1m5 0h1m1 0h3m3 0h1m4 0h1m5 0h1m6 0h1m6 0h1m2 0h1m11 0h1m9 0h1m20 0h1m14 0h1m-127 1h1m5 0h1m1 0h1m6 0h1m2 0h2m1 0h2m3 0h1m2 0h1m13 0h1m4 0h2m4 0h1m2 0h1m5 0h1m3 0h1m7 0h1m2 0h1m5 0h2m15 0h1m1 0h1m6 0h1m-119 1h2m14 0h1m1 0h1m2 0h1m7 0h1m7 0h1m5 0h1m2 0h1m5 0h1m3 0h1m9 0h1m7 0h1m4 0h1m2 0h1m7 0h1m13 0h1m1 0h1m10 0h1m74 0h1m-187 1h2m2 0h1m1 0h1m5 0h1m9 0h1m2 0h1m3 0h3m2 0h1m7 0h1m2 0h1m2 0h1m5 0h1m20 0h1m3 0h1m10 0h1m15 0h1m17 0h1m-115 1h1m2 0h1m3 0h1m3 0h1m3 0h3m1 0h1m5 0h1m5 0h1m1 0h1m9 0h1m1 0h1m4 0h1m10 0h1m16 0h1m-84 1h1m5 0h1m7 0h1m2 0h1m4 0h1m8 0h1m56 0h1m-84 1h1m3 0h1m4 0h1m4 0h1m5 0h1m3 0h1m2 0h1m3 0h1m6 0h2m5 0h1m3 0h1m1 0h1m52 0h1m18 0h1m-122 1h1m10 0h2m6 0h1m1 0h1m2 0h2m5 0h1m2 0h1m8 0h1m6 0h1m3 0h2m3 0h2m7 0h1m-78 1h1m7 0h1m5 0h1m3 0h1m12 0h3m12 0h1m13 0h1m4 0h1m12 0h1m28 0h1m-101 1h1m2 0h1m7 0h1m6 0h1m15 0h2m5 0h1m9 0h1m20 0h1m-74 1h1m22 0h1m10 0h1m9 0h1m10 0h1m3 0h1m2 0h1m1 0h1m25 0h1m2 0h1m-85 1h1m5 0h2m8 0h2m6 0h1m1 0h1m13 0h1m7 0h1m1 0h1m-59 1h1m3 0h1m3 0h1m7 0h2m6 0h1m8 0h1m7 0h1m27 0h1m9 0h1m7 0h1m42 0h1m-120 1h1m2 0h1m25 0h1m19 0h1m-66 1h1m8 0h1m4 0h1m12 0h1m17 0h1m9 0h1m28 0h2m-54 1h1m6 0h1m26 0h1m15 0h1m7 0h1m28 0h1m1 0h1m-135 1h1m29 0h1m12 0h1m27 0h1m9 0h1m-38 1h3m12 0h1m-11 1h1m15 0h1m9 0h1m5 0h1m33 0h1m-92 1h1m54 0h1m-51 1h1m2 0h1m5 0h1m2 0h1m9 0h1m5 0h1m7 0h1m9 0h1m-25 1h1m20 0h1m4 0h1m-60 1h1m8 0h1m15 0h1m41 0h1m-30 1h1m18 0h1m100 0h1m-141 1h1m41 0h1m40 0h1m-58 1h1m15 0h1m24 0h1m18 0h1m-89 1h1m6 0h1m21 0h1m12 0h1m-48 1h1m11 0h1m6 0h1m25 1h1m2 0h1m-35 1h1m-21 1h1m49 0h1m-70 1h1m22 0h1m104 0h1m-100 3h1m2 0h1m56 0h1m11 0h1m-75 2h1m61 0h1m-9 2h1m-45 1h1m14 2h1m-10 1h1m27 0h1m-40 5h1m21 7h1" stroke="#000" stroke-width="1.1" fill="none" transform="translate(0.3 0.3)" opacity="0.9"/><path d="M850 28h1m23 1h1m42 5h1m14 1h1m-8 4h1m7 0h1m4 0h1m8 0h1m-18 1h1m8 0h1m24 0h1m-5 1h1m-99 1h1m75 0h1m7 0h1m1 0h1m15 1h1m-28 1h1m6 0h1m13 0h1m-34 1h1m2 0h1m6 0h1m-5 1h1m1 0h1m4 0h1m-9 1h1m2 0h1m1 0h1m4 0h1m2 0h1m3 0h1m-15 1h1m6 0h1m2 0h2m3 0h1m15 0h1m7 0h1m-47 1h1m1 0h1m11 0h1m1 0h1m6 0h1m2 0h1m2 0h1m-39 1h1m8 0h1m12 0h1m2 0h1m1 0h1m3 0h1m-28 1h2m2 0h2m11 0h1m1 0h1m18 0h1m10 0h1m-41 1h1m5 0h1m15 0h1m1 0h1m3 0h1m8 0h1m3 0h2m-64 1h2m5 0h1m6 0h1m1 0h1m2 0h1m4 0h1m5 0h2m1 0h2m5 0h1m11 0h1m-62 1h1m17 0h2m2 0h1m5 0h1m2 0h1m2 0h1m8 0h2m4 0h1m5 0h1m2 0h1m10 0h1m-72 1h1m7 0h1m1 0h1m13 0h1m8 0h2m4 0h2m3 0h1m2 0h1m1 0h2m2 0h5m2 0h1m6 0h2m10 0h1m-63 1h1m6 0h1m5 0h2m4 0h1m7 0h3m2 0h1m13 0h1m2 0h1m-47 1h1m7 0h1m2 0h1m1 0h2m2 0h1m11 0h1m3 0h1m2 0h2m1 0h1m2 0h1m6 0h1m-51 1h1m11 0h1m1 0h1m2 0h2m8 0h2m1 0h1m2 0h1m2 0h2m6 0h1m2 0h1m17 0h1m-76 1h3m3 0h2m10 0h2m1 0h1m3 0h1m1 0h1m3 0h1m3 0h2m6 0h2m2 0h3m1 0h1m2 0h1m7 0h1m3 0h1m-96 1h1m15 0h1m3 0h1m15 0h1m4 0h1m3 0h3m3 0h1m2 0h3m3 0h3m6 0h3m3 0h2m3 0h1m1 0h1m-68 1h1m2 0h1m14 0h1m2 0h1m2 0h2m2 0h1m2 0h3m7 0h1m4 0h2m1 0h1m4 0h1m3 0h1m1 0h1m1 0h2m15 0h1m-65 1h1m3 0h1m7 0h3m5 0h1m2 0h1m2 0h1m1 0h2m2 0h1m3 0h1m2 0h1m1 0h1m5 0h1m4 0h2m5 0h1m10 0h1m32 0h1m-103 1h1m1 0h1m10 0h1m5 0h1m2 0h1m1 0h2m11 0h1m3 0h1m1 0h1m4 0h1m1 0h1m6 0h1m13 0h1m-72 1h2m1 0h2m2 0h1m4 0h1m9 0h1m4 0h2m8 0h2m1 0h1m1 0h1m9 0h1m2 0h1m3 0h1m2 0h1m8 0h1m-131 1h1m46 0h1m4 0h2m11 0h5m5 0h1m2 0h1m1 0h1m1 0h2m3 0h1m4 0h2m6 0h1m4 0h1m2 0h1m4 0h1m1 0h1m-60 1h1m3 0h1m2 0h2m5 0h1m1 0h1m1 0h1m3 0h2m1 0h3m3 0h1m1 0h1m2 0h1m3 0h1m1 0h4m1 0h4m1 0h1m3 0h2m1 0h1m-70 1h1m6 0h1m1 0h1m2 0h1m2 0h1m4 0h1m9 0h2m2 0h1m1 0h1m3 0h1m1 0h2m1 0h2m1 0h1m3 0h1m4 0h1m1 0h1m2 0h3m3 0h1m3 0h1m1 0h1m2 0h1m-79 1h1m8 0h1m12 0h1m3 0h1m2 0h1m2 0h1m3 0h1m2 0h4m1 0h2m10 0h1m14 0h1m5 0h1m-103 1h1m28 0h1m4 0h1m1 0h1m5 0h2m7 0h1m1 0h1m4 0h2m4 0h7m8 0h1m8 0h1m1 0h2m2 0h1m4 0h1m4 0h1m-85 1h1m8 0h1m3 0h1m8 0h1m3 0h2m3 0h1m3 0h1m1 0h2m1 0h1m2 0h1m3 0h1m2 0h2m1 0h1m1 0h2m1 0h2m5 0h1m1 0h1m2 0h1m1 0h1m8 0h1m-68 1h1m3 0h1m1 0h1m6 0h1m5 0h1m2 0h3m8 0h3m6 0h1m2 0h2m3 0h1m4 0h1m9 0h1m-70 1h2m4 0h1m5 0h1m1 0h1m2 0h1m3 0h2m3 0h2m3 0h2m1 0h1m2 0h1m2 0h1m1 0h2m1 0h4m2 0h1m3 0h1m3 0h1m1 0h1m1 0h3m1 0h3m-75 1h1m7 0h1m3 0h1m1 0h1m4 0h1m1 0h2m4 0h2m4 0h4m2 0h2m5 0h3m1 0h1m3 0h1m1 0h2m5 0h1m6 0h2m1 0h2m9 0h1m-74 1h2m5 0h1m1 0h4m1 0h3m2 0h1m2 0h1m2 0h2m4 0h1m8 0h1m1 0h1m1 0h1m1 0h1m2 0h2m2 0h2m7 0h1m5 0h1m2 0h1m-81 1h1m10 0h1m1 0h1m3 0h1m1 0h2m1 0h1m3 0h2m2 0h1m2 0h1m7 0h1m3 0h2m4 0h1m7 0h1m3 0h1m3 0h1m3 0h1m17 0h2m-101 1h1m7 0h2m4 0h1m1 0h1m4 0h1m1 0h2m9 0h1m2 0h1m2 0h7m3 0h4m1 0h1m3 0h2m2 0h1m1 0h1m5 0h2m4 0h1m2 0h1m-79 1h1m4 0h1m3 0h1m3 0h1m4 0h1m1 0h1m1 0h1m7 0h2m3 0h1m1 0h1m1 0h1m1 0h3m1 0h3m5 0h1m1 0h2m1 0h3m2 0h1m1 0h2m1 0h2m22 0h1m16 0h1m-150 1h1m18 0h2m4 0h1m24 0h1m1 0h1m1 0h1m1 0h4m5 0h1m3 0h2m1 0h1m2 0h1m2 0h1m1 0h4m2 0h1m1 0h1m1 0h1m2 0h4m1 0h2m2 0h3m3 0h1m6 0h1m2 0h1m5 0h1m-99 1h1m9 0h1m4 0h1m3 0h1m3 0h1m4 0h2m9 0h1m2 0h1m1 0h1m1 0h1m3 0h1m4 0h6m1 0h3m1 0h2m4 0h2m1 0h1m3 0h3m3 0h2m6 0h1m1 0h1m2 0h1m-89 1h1m11 0h1m7 0h3m1 0h1m10 0h1m2 0h2m2 0h4m1 0h1m1 0h1m5 0h1m1 0h2m1 0h2m2 0h1m5 0h1m2 0h1m1 0h1m2 0h1m-70 1h1m7 0h2m5 0h1m1 0h2m3 0h1m2 0h1m9 0h1m4 0h1m1 0h2m1 0h2m1 0h1m6 0h1m2 0h2m5 0h1m1 0h5m1 0h1m14 0h2m-97 1h2m10 0h1m3 0h1m2 0h3m3 0h1m3 0h4m3 0h1m3 0h2m4 0h2m1 0h1m1 0h1m2 0h1m4 0h1m3 0h1m1 0h1m1 0h1m2 0h1m3 0h2m4 0h1m5 0h4m-108 1h1m26 0h1m6 0h1m4 0h2m2 0h2m6 0h3m2 0h1m1 0h1m1 0h1m2 0h1m2 0h2m2 0h1m3 0h1m1 0h3m9 0h1m3 0h1m1 0h1m1 0h1m1 0h2m-90 1h1m7 0h1m9 0h1m2 0h2m2 0h2m6 0h1m2 0h4m4 0h1m2 0h2m2 0h1m1 0h1m1 0h2m2 0h2m3 0h1m1 0h3m2 0h3m4 0h1m2 0h2m2 0h1m1 0h2m14 0h1m-90 1h3m5 0h2m2 0h1m9 0h2m3 0h1m2 0h1m1 0h1m3 0h1m2 0h1m4 0h4m2 0h1m2 0h1m2 0h2m2 0h1m4 0h1m2 0h1m1 0h1m3 0h1m5 0h1m4 0h1m-96 1h1m7 0h1m2 0h1m7 0h1m1 0h1m1 0h1m1 0h1m4 0h2m1 0h1m1 0h1m2 0h2m1 0h6m1 0h3m1 0h2m1 0h4m3 0h2m7 0h1m4 0h1m1 0h2m9 0h1m3 0h1m-126 1h1m29 0h1m10 0h1m4 0h1m2 0h1m1 0h1m4 0h1m6 0h3m2 0h3m3 0h1m5 0h1m1 0h3m3 0h1m1 0h1m3 0h5m10 0h3m7 0h1m2 0h1m6 0h1m19 0h1m-129 1h1m25 0h1m3 0h2m1 0h1m2 0h1m2 0h2m1 0h3m2 0h2m3 0h3m1 0h1m1 0h1m2 0h3m1 0h1m1 0h5m5 0h2m5 0h1m3 0h1m2 0h1m8 0h1m7 0h1m-117 1h1m10 0h1m4 0h1m2 0h1m14 0h1m6 0h1m1 0h1m3 0h1m1 0h1m2 0h1m4 0h1m1 0h2m1 0h1m2 0h1m2 0h2m1 0h2m2 0h2m3 0h1m4 0h2m1 0h2m1 0h2m3 0h1m1 0h1m2 0h1m8 0h1m-105 1h1m32 0h1m2 0h1m2 0h1m2 0h2m3 0h1m2 0h2m1 0h1m6 0h1m4 0h1m5 0h2m2 0h1m2 0h1m7 0h2m1 0h1m2 0h1m1 0h1m2 0h1m4 0h1m11 0h1m-91 1h1m3 0h1m1 0h1m1 0h1m4 0h2m5 0h2m1 0h1m8 0h2m1 0h2m1 0h5m3 0h3m1 0h1m5 0h1m1 0h1m5 0h2m1 0h1m1 0h1m6 0h2m-74 1h1m2 0h3m1 0h3m1 0h4m1 0h1m1 0h4m1 0h1m3 0h1m2 0h1m1 0h1m2 0h1m3 0h5m1 0h2m3 0h2m1 0h1m2 0h3m5 0h2m4 0h1m3 0h1m27 0h1m-155 1h1m23 0h1m13 0h1m7 0h1m6 0h2m1 0h1m4 0h2m5 0h1m1 0h2m2 0h1m1 0h2m4 0h2m4 0h1m3 0h2m1 0h1m4 0h1m7 0h1m1 0h2m2 0h1m3 0h1m17 0h1m-105 1h1m1 0h1m6 0h1m5 0h2m8 0h1m2 0h1m2 0h1m4 0h2m2 0h1m2 0h2m1 0h1m1 0h1m8 0h1m4 0h1m2 0h1m5 0h1m1 0h3m7 0h1m6 0h3m1 0h1m1 0h1m-85 1h2m5 0h1m2 0h1m4 0h3m2 0h1m1 0h2m2 0h1m1 0h1m1 0h1m2 0h1m3 0h2m1 0h1m4 0h3m2 0h3m3 0h2m1 0h1m5 0h1m1 0h2m1 0h1m1 0h2m1 0h1m2 0h1m4 0h1m39 0h1m-147 1h1m9 0h1m7 0h1m4 0h1m5 0h1m5 0h1m3 0h1m5 0h1m1 0h4m2 0h1m2 0h1m2 0h1m2 0h3m1 0h7m7 0h2m1 0h1m1 0h1m5 0h1m1 0h2m10 0h1m-127 1h1m43 0h1m13 0h2m1 0h2m1 0h1m4 0h1m3 0h3m7 0h1m1 0h1m1 0h1m2 0h1m1 0h1m1 0h1m1 0h3m3 0h3m12 0h1m3 0h1m-71 1h1m4 0h1m2 0h3m3 0h2m1 0h2m1 0h1m2 0h1m2 0h1m2 0h1m2 0h1m1 0h1m1 0h1m2 0h1m2 0h2m5 0h2m13 0h2m2 0h1m3 0h1m-113 1h1m31 0h1m10 0h1m1 0h1m4 0h1m3 0h4m1 0h2m2 0h1m1 0h1m1 0h1m2 0h1m4 0h1m1 0h3m1 0h1m1 0h8m2 0h1m7 0h1m3 0h2m5 0h2m5 0h1m-130 1h1m13 0h1m2 0h1m23 0h1m4 0h1m10 0h2m1 0h1m6 0h1m2 0h2m2 0h2m7 0h1m5 0h1m2 0h1m4 0h1m5 0h1m2 0h1m4 0h1m4 0h1m4 0h1m3 0h1m29 0h1m-112 1h1m1 0h3m3 0h1m1 0h1m1 0h1m2 0h1m1 0h3m1 0h1m1 0h2m4 0h1m2 0h1m2 0h2m4 0h1m5 0h1m1 0h2m2 0h1m1 0h1m2 0h2m2 0h2m1 0h2m7 0h1m-87 1h1m6 0h1m6 0h1m1 0h1m3 0h2m2 0h2m7 0h1m5 0h1m1 0h5m1 0h2m1 0h1m1 0h2m3 0h3m3 0h2m4 0h1m1 0h1m4 0h2m2 0h1m4 0h1m2 0h1m12 0h1m3 0h1m25 0h1m-161 1h1m28 0h1m11 0h1m17 0h3m2 0h2m3 0h4m2 0h1m1 0h4m1 0h1m2 0h1m1 0h1m3 0h2m1 0h1m4 0h1m5 0h1m3 0h2m3 0h1m-106 1h1m12 0h1m4 0h1m8 0h2m11 0h1m10 0h1m4 0h5m2 0h3m5 0h1m1 0h3m1 0h2m1 0h2m1 0h1m2 0h1m6 0h2m3 0h1m1 0h2m4 0h1m5 0h1m12 0h1m-145 1h1m19 0h1m25 0h2m8 0h1m3 0h1m6 0h1m1 0h5m1 0h1m1 0h1m1 0h1m3 0h1m3 0h2m1 0h1m5 0h2m2 0h2m1 0h1m4 0h4m1 0h1m1 0h1m1 0h1m1 0h1m1 0h1m3 0h1m1 0h1m2 0h1m5 0h1m-124 1h1m25 0h1m2 0h1m4 0h1m7 0h1m2 0h1m3 0h1m7 0h1m2 0h8m1 0h1m4 0h2m1 0h3m1 0h2m8 0h1m2 0h1m2 0h1m1 0h1m7 0h1m2 0h1m13 0h1m-116 1h1m30 0h1m2 0h1m1 0h1m3 0h2m6 0h3m5 0h1m1 0h1m1 0h1m1 0h1m4 0h4m4 0h2m2 0h5m1 0h3m1 0h2m5 0h1m2 0h2m2 0h1m10 0h1m-121 1h1m4 0h1m10 0h1m14 0h1m3 0h3m1 0h2m6 0h1m4 0h1m7 0h1m2 0h1m1 0h1m4 0h1m3 0h1m1 0h1m4 0h1m2 0h1m4 0h1m2 0h1m3 0h1m6 0h1m3 0h1m-95 1h1m7 0h1m3 0h1m5 0h2m1 0h1m4 0h1m4 0h2m5 0h1m3 0h3m1 0h1m1 0h1m2 0h3m1 0h2m1 0h1m1 0h2m1 0h1m2 0h1m3 0h1m1 0h1m2 0h1m3 0h3m1 0h2m4 0h2m9 0h1m6 0h1m4 0h1m8 0h1m-139 1h1m25 0h1m5 0h1m11 0h2m1 0h1m2 0h3m4 0h1m3 0h5m1 0h1m12 0h2m1 0h1m1 0h1m2 0h1m2 0h1m1 0h1m1 0h1m1 0h1m2 0h1m14 0h1m1 0h2m7 0h1m-108 1h1m7 0h2m8 0h1m4 0h2m1 0h1m5 0h1m1 0h2m1 0h1m1 0h1m4 0h2m1 0h2m1 0h4m7 0h1m3 0h1m2 0h1m8 0h1m2 0h1m5 0h1m-108 1h1m26 0h1m12 0h1m3 0h2m8 0h1m6 0h1m1 0h1m3 0h1m1 0h1m2 0h1m2 0h1m4 0h2m1 0h1m3 0h1m2 0h1m2 0h1m1 0h1m1 0h1m5 0h1m6 0h1m8 0h1m-124 1h1m25 0h1m7 0h1m5 0h2m10 0h1m4 0h1m1 0h1m7 0h3m6 0h1m3 0h2m2 0h4m2 0h2m5 0h1m3 0h1m1 0h2m3 0h1m5 0h1m1 0h1m9 0h1m6 0h1m4 0h1m7 0h1m-158 1h1m14 0h1m20 0h1m13 0h1m14 0h1m5 0h1m1 0h2m3 0h2m1 0h1m1 0h1m2 0h1m9 0h1m1 0h5m3 0h1m1 0h2m2 0h1m10 0h1m2 0h1m3 0h1m2 0h1m6 0h1m4 0h1m26 0h1m-169 1h1m30 0h1m13 0h1m12 0h1m1 0h1m4 0h1m2 0h1m2 0h2m2 0h1m2 0h1m1 0h4m4 0h1m2 0h1m1 0h1m3 0h4m10 0h2m9 0h1m8 0h2m-127 1h1m19 0h1m9 0h1m2 0h1m15 0h1m2 0h2m3 0h2m9 0h2m2 0h2m1 0h1m1 0h2m2 0h3m1 0h1m1 0h1m8 0h1m9 0h2m1 0h1m9 0h1m24 0h1m-122 1h2m5 0h1m1 0h1m7 0h1m5 0h1m2 0h1m3 0h1m5 0h2m2 0h1m9 0h2m4 0h1m1 0h1m2 0h1m1 0h1m2 0h1m1 0h1m4 0h2m1 0h1m1 0h1m1 0h1m17 0h1m-110 1h1m34 0h1m1 0h1m2 0h1m7 0h1m3 0h1m2 0h1m1 0h2m6 0h1m4 0h1m4 0h1m2 0h1m3 0h1m4 0h1m1 0h2m6 0h1m6 0h1m9 0h1m3 0h1m5 0h1m1 0h1m15 0h1m-156 1h1m18 0h1m18 0h1m4 0h2m10 0h1m2 0h2m1 0h1m1 0h1m2 0h1m2 0h1m3 0h2m3 0h1m1 0h2m1 0h1m4 0h1m1 0h1m2 0h1m1 0h1m1 0h1m2 0h1m2 0h1m11 0h1m3 0h1m-117 1h1m33 0h1m1 0h1m2 0h1m1 0h1m2 0h1m10 0h1m1 0h1m1 0h1m4 0h1m1 0h1m1 0h1m1 0h2m1 0h1m1 0h1m1 0h1m2 0h1m2 0h1m1 0h3m1 0h4m8 0h1m5 0h1m10 0h1m13 0h1m1 0h1m5 0h1m-131 1h2m2 0h1m25 0h1m2 0h1m6 0h2m6 0h2m1 0h1m10 0h1m6 0h2m8 0h1m3 0h1m8 0h1m28 0h1m-119 1h1m21 0h1m6 0h2m9 0h4m3 0h1m6 0h1m2 0h1m5 0h1m1 0h1m4 0h1m1 0h2m1 0h1m2 0h1m2 0h1m3 0h2m14 0h1m2 0h1m1 0h1m4 0h1m4 0h1m2 0h1m27 0h1m-155 1h1m7 0h1m7 0h1m13 0h2m2 0h1m3 0h1m1 0h1m5 0h1m1 0h2m11 0h2m2 0h1m1 0h2m1 0h1m5 0h1m2 0h1m2 0h1m20 0h1m13 0h1m1 0h1m14 0h1m-142 1h1m14 0h1m11 0h1m5 0h1m1 0h2m7 0h1m3 0h1m1 0h1m1 0h1m8 0h2m1 0h2m2 0h1m2 0h1m10 0h2m6 0h1m2 0h1m2 0h2m7 0h1m2 0h1m10 0h1m1 0h1m-119 1h1m8 0h1m6 0h1m5 0h1m1 0h2m2 0h1m1 0h1m2 0h1m5 0h1m2 0h1m1 0h1m4 0h1m3 0h1m1 0h1m1 0h1m4 0h1m2 0h1m1 0h1m1 0h1m3 0h1m1 0h1m10 0h1m9 0h1m7 0h1m2 0h2m16 0h1m19 0h1m-143 1h1m2 0h1m9 0h1m13 0h1m9 0h1m4 0h1m19 0h1m1 0h3m2 0h1m1 0h1m1 0h2m2 0h1m2 0h1m1 0h2m4 0h1m1 0h1m2 0h2m6 0h1m7 0h1m3 0h1m5 0h1m57 0h1m-178 1h1m16 0h1m2 0h1m2 0h1m14 0h1m4 0h1m2 0h2m1 0h1m4 0h1m5 0h1m2 0h1m9 0h1m4 0h1m2 0h2m16 0h1m4 0h1m11 0h1m6 0h1m25 0h1m-139 1h1m3 0h1m1 0h1m3 0h1m7 0h1m3 0h1m1 0h1m2 0h2m11 0h1m4 0h1m1 0h1m3 0h1m3 0h2m7 0h1m1 0h1m1 0h1m2 0h1m2 0h1m4 0h1m9 0h2m5 0h1m13 0h1m12 0h1m2 0h1m-126 1h1m6 0h1m1 0h1m6 0h1m9 0h1m3 0h1m1 0h1m1 0h2m3 0h1m1 0h3m1 0h1m10 0h1m1 0h1m5 0h1m1 0h1m2 0h2m7 0h1m16 0h1m4 0h1m27 0h1m-155 1h1m6 0h1m17 0h1m1 0h1m6 0h1m7 0h1m7 0h1m9 0h1m6 0h1m1 0h1m3 0h1m4 0h1m2 0h2m4 0h1m5 0h1m3 0h1m2 0h1m5 0h3m14 0h1m1 0h1m3 0h1m-131 1h1m1 0h1m15 0h2m18 0h1m1 0h3m1 0h1m2 0h1m4 0h1m3 0h1m3 0h1m1 0h3m1 0h1m3 0h2m4 0h2m1 0h1m13 0h1m4 0h2m1 0h2m4 0h1m30 0h1m12 0h1m27 0h1m-178 1h1m9 0h1m8 0h1m14 0h1m2 0h1m2 0h1m10 0h1m4 0h1m5 0h2m2 0h1m3 0h1m1 0h1m2 0h2m1 0h5m4 0h1m4 0h2m1 0h1m6 0h2m1 0h1m3 0h1m3 0h2m3 0h1m3 0h1m-113 1h1m3 0h1m27 0h2m3 0h4m5 0h1m4 0h1m1 0h1m4 0h1m2 0h1m9 0h1m6 0h1m1 0h1m2 0h1m1 0h1m5 0h1m5 0h1m1 0h1m1 0h2m5 0h1m5 0h1m7 0h1m4 0h1m-117 1h1m7 0h1m7 0h1m1 0h1m1 0h1m3 0h1m4 0h2m4 0h1m1 0h1m3 0h1m6 0h1m2 0h2m1 0h2m1 0h4m2 0h1m6 0h1m7 0h2m3 0h1m9 0h1m2 0h1m16 0h1m3 0h1m-109 1h1m1 0h1m3 0h1m2 0h1m2 0h1m3 0h1m1 0h3m2 0h1m1 0h2m7 0h2m3 0h1m2 0h1m3 0h1m7 0h1m1 0h1m1 0h1m5 0h1m3 0h1m5 0h1m4 0h1m21 0h1m22 0h1m-160 1h1m5 0h1m7 0h1m10 0h2m8 0h1m6 0h1m1 0h1m8 0h2m1 0h1m6 0h1m1 0h1m3 0h2m4 0h1m2 0h1m2 0h2m2 0h1m1 0h1m2 0h2m3 0h3m3 0h1m6 0h1m1 0h1m14 0h1m41 0h1m-152 1h1m5 0h1m18 0h3m12 0h1m7 0h1m6 0h5m1 0h1m6 0h2m5 0h1m1 0h2m3 0h1m3 0h1m1 0h2m14 0h1m3 0h1m17 0h1m18 0h1m-163 1h1m21 0h1m15 0h1m1 0h1m3 0h1m5 0h1m3 0h1m1 0h2m1 0h2m1 0h1m1 0h1m5 0h1m3 0h2m2 0h2m1 0h2m1 0h1m1 0h2m3 0h3m2 0h2m3 0h1m4 0h1m10 0h1m5 0h2m16 0h1m2 0h1m-122 1h1m13 0h1m5 0h2m7 0h2m2 0h1m4 0h1m3 0h1m3 0h1m1 0h1m4 0h3m10 0h2m3 0h1m2 0h1m8 0h1m1 0h1m2 0h2m9 0h1m7 0h1m16 0h1m36 0h1m-155 1h1m1 0h4m12 0h2m6 0h1m5 0h1m2 0h2m3 0h1m2 0h1m3 0h1m4 0h1m1 0h1m2 0h2m2 0h1m1 0h1m4 0h3m2 0h1m1 0h1m2 0h1m5 0h1m1 0h3m1 0h1m1 0h1m1 0h1m1 0h1m22 0h1m24 0h1m-171 1h1m21 0h1m3 0h1m11 0h1m3 0h1m1 0h3m11 0h1m2 0h1m3 0h1m1 0h1m2 0h1m1 0h1m1 0h2m3 0h1m3 0h1m1 0h1m2 0h2m3 0h1m4 0h2m8 0h1m2 0h1m1 0h1m13 0h1m2 0h1m1 0h1m11 0h2m-125 1h1m7 0h2m4 0h2m1 0h1m6 0h1m2 0h2m3 0h1m2 0h1m3 0h1m1 0h3m5 0h1m4 0h1m13 0h2m6 0h1m1 0h1m3 0h3m1 0h2m3 0h1m1 0h1m4 0h1m1 0h1m8 0h1m14 0h1m-137 1h2m10 0h1m4 0h1m2 0h1m15 0h1m6 0h1m1 0h1m2 0h1m3 0h2m4 0h1m4 0h1m1 0h1m5 0h2m1 0h2m5 0h2m11 0h1m1 0h1m4 0h2m3 0h1m17 0h1m49 0h1m-170 1h1m9 0h1m2 0h1m6 0h2m1 0h1m5 0h1m2 0h1m16 0h2m4 0h2m1 0h1m6 0h1m4 0h1m6 0h1m1 0h1m1 0h2m2 0h1m4 0h2m7 0h1m13 0h1m9 0h1m8 0h1m4 0h1m-142 1h1m17 0h1m6 0h1m2 0h1m5 0h1m6 0h1m1 0h1m3 0h1m1 0h1m1 0h1m2 0h1m2 0h2m3 0h3m2 0h3m4 0h1m1 0h1m2 0h2m1 0h4m1 0h1m9 0h2m4 0h1m1 0h2m5 0h1m9 0h1m-126 1h1m5 0h1m5 0h2m1 0h1m9 0h2m11 0h1m3 0h2m2 0h2m1 0h3m2 0h1m2 0h2m1 0h1m5 0h1m3 0h3m1 0h1m1 0h1m2 0h2m6 0h1m4 0h1m3 0h1m8 0h1m14 0h1m-123 1h1m26 0h1m1 0h1m3 0h1m3 0h2m2 0h1m1 0h1m3 0h2m1 0h3m1 0h1m1 0h1m1 0h1m4 0h1m3 0h1m3 0h2m3 0h1m6 0h1m3 0h1m3 0h1m33 0h1m-125 1h1m17 0h1m19 0h1m4 0h1m3 0h3m3 0h1m1 0h1m3 0h4m1 0h1m3 0h3m1 0h3m3 0h2m1 0h1m3 0h1m3 0h1m6 0h2m16 0h1m3 0h1m26 0h1m-146 1h3m12 0h1m1 0h1m10 0h2m3 0h1m3 0h1m3 0h1m7 0h1m1 0h1m1 0h1m1 0h1m2 0h1m1 0h1m2 0h1m1 0h1m1 0h1m12 0h2m1 0h4m9 0h1m1 0h1m9 0h1m27 0h1m6 0h1m-136 1h4m4 0h1m3 0h1m3 0h1m2 0h2m1 0h1m10 0h2m2 0h1m1 0h2m4 0h1m11 0h1m1 0h2m7 0h2m2 0h2m2 0h2m1 0h1m6 0h1m22 0h2m-120 1h2m12 0h3m3 0h1m2 0h1m6 0h1m2 0h1m2 0h1m2 0h2m5 0h2m4 0h1m2 0h1m2 0h1m3 0h1m2 0h1m6 0h2m2 0h2m2 0h1m1 0h1m8 0h2m7 0h1m8 0h2m6 0h1m1 0h1m3 0h1m1 0h1m-131 1h1m6 0h1m13 0h1m8 0h1m2 0h3m4 0h1m1 0h2m1 0h2m1 0h1m2 0h2m1 0h6m1 0h1m3 0h1m2 0h2m7 0h4m2 0h1m2 0h1m3 0h3m10 0h1m2 0h3m2 0h1m5 0h1m17 0h1m2 0h1m-144 1h1m11 0h1m1 0h1m21 0h1m2 0h1m4 0h3m1 0h1m5 0h1m1 0h1m1 0h4m5 0h4m1 0h1m4 0h2m5 0h1m4 0h1m2 0h1m4 0h1m3 0h1m6 0h1m5 0h2m6 0h1m1 0h1m25 0h1m-145 1h2m3 0h1m3 0h1m4 0h2m4 0h3m3 0h1m2 0h1m4 0h1m5 0h1m1 0h3m1 0h2m3 0h1m2 0h2m4 0h4m4 0h3m1 0h2m4 0h1m3 0h2m1 0h1m1 0h2m7 0h2m2 0h2m2 0h1m8 0h1m3 0h1m2 0h1m1 0h2m6 0h1m15 0h1m-149 1h1m15 0h1m3 0h1m1 0h1m5 0h1m4 0h2m1 0h1m2 0h6m1 0h1m2 0h1m5 0h4m2 0h3m1 0h4m3 0h1m1 0h1m1 0h3m3 0h1m2 0h1m2 0h2m1 0h1m1 0h1m2 0h1m6 0h1m1 0h2m3 0h1m5 0h1m1 0h1m2 0h1m5 0h1m12 0h2m-142 1h1m17 0h1m4 0h1m5 0h2m3 0h1m3 0h1m4 0h1m2 0h1m4 0h1m1 0h1m4 0h1m1 0h1m1 0h4m1 0h1m1 0h3m1 0h2m2 0h2m1 0h1m1 0h2m1 0h1m2 0h2m2 0h2m1 0h1m1 0h1m4 0h1m2 0h2m3 0h1m11 0h1m-122 1h1m1 0h1m10 0h2m3 0h1m6 0h2m4 0h1m1 0h1m1 0h3m2 0h2m7 0h2m2 0h2m1 0h1m2 0h1m2 0h1m3 0h1m1 0h2m4 0h3m1 0h2m3 0h2m2 0h1m5 0h2m1 0h1m16 0h1m3 0h2m2 0h1m-99 1h1m2 0h1m3 0h1m1 0h1m1 0h1m2 0h1m1 0h1m3 0h2m1 0h2m2 0h1m1 0h1m1 0h1m1 0h1m1 0h2m1 0h1m4 0h1m1 0h2m1 0h2m1 0h1m2 0h1m3 0h3m1 0h1m3 0h1m1 0h1m1 0h1m1 0h1m2 0h2m9 0h1m4 0h1m12 0h1m1 0h1m-105 1h1m1 0h2m5 0h1m1 0h2m2 0h3m1 0h2m4 0h1m1 0h1m2 0h1m5 0h1m1 0h1m1 0h2m1 0h1m4 0h2m1 0h2m1 0h2m1 0h1m5 0h1m3 0h3m1 0h3m3 0h1m2 0h1m17 0h1m12 0h1m16 0h1m-154 1h2m4 0h1m3 0h1m1 0h1m1 0h1m3 0h2m1 0h1m3 0h1m1 0h2m3 0h2m2 0h6m1 0h4m1 0h2m2 0h1m2 0h4m3 0h1m1 0h1m3 0h1m1 0h2m3 0h1m1 0h3m1 0h1m3 0h2m1 0h2m1 0h2m1 0h1m2 0h1m2 0h1m3 0h1m4 0h3m26 0h1m-145 1h1m3 0h1m5 0h1m1 0h1m2 0h1m2 0h3m1 0h1m2 0h1m2 0h1m2 0h3m1 0h3m1 0h3m1 0h3m1 0h1m1 0h3m2 0h1m1 0h3m1 0h1m1 0h1m2 0h1m1 0h1m1 0h1m1 0h4m1 0h1m1 0h1m4 0h2m1 0h2m2 0h1m1 0h1m1 0h3m2 0h2m3 0h2m6 0h1m2 0h1m2 0h1m3 0h1m1 0h1m3 0h1m29 0h1m-136 1h1m3 0h3m2 0h2m2 0h2m2 0h1m2 0h1m1 0h1m2 0h1m1 0h2m1 0h4m5 0h2m2 0h3m2 0h2m1 0h3m1 0h1m1 0h8m1 0h1m1 0h2m2 0h1m1 0h1m1 0h4m2 0h1m3 0h1m7 0h1m3 0h1m8 0h1m4 0h1m13 0h1m5 0h1m16 0h1m-171 1h2m1 0h1m2 0h1m4 0h1m1 0h1m1 0h1m4 0h4m1 0h1m1 0h1m1 0h4m2 0h1m3 0h2m1 0h3m1 0h2m1 0h1m3 0h2m1 0h2m1 0h1m1 0h1m1 0h5m1 0h5m4 0h1m3 0h7m2 0h1m1 0h1m1 0h1m1 0h1m2 0h3m1 0h1m2 0h1m2 0h1m1 0h1m15 0h1m11 0h1m6 0h1m-139 1h2m3 0h4m3 0h2m5 0h2m1 0h3m2 0h3m1 0h3m1 0h1m1 0h2m1 0h2m1 0h1m2 0h1m2 0h1m2 0h2m1 0h2m2 0h2m1 0h1m1 0h3m1 0h1m6 0h1m1 0h6m1 0h6m1 0h4m1 0h1m1 0h2m1 0h2m1 0h1m1 0h1m4 0h1m2 0h1m2 0h1m3 0h1m7 0h1m17 0h1m-150 1h2m1 0h1m3 0h3m3 0h1m3 0h4m2 0h2m1 0h4m2 0h3m1 0h1m1 0h1m2 0h1m1 0h1m1 0h2m3 0h4m1 0h2m1 0h3m2 0h1m1 0h3m1 0h4m1 0h8m1 0h2m1 0h3m2 0h4m5 0h1m1 0h1m5 0h2m6 0h1m5 0h1m6 0h1m6 0h1m-140 1h1m2 0h1m1 0h1m5 0h1m2 0h2m2 0h2m1 0h1m2 0h3m1 0h1m1 0h1m2 0h2m1 0h5m1 0h2m3 0h3m2 0h1m1 0h3m1 0h1m1 0h2m2 0h2m3 0h2m1 0h9m2 0h5m1 0h9m3 0h1m4 0h1m21 0h1m-136 1h1m4 0h1m1 0h1m3 0h1m1 0h1m3 0h1m3 0h2m2 0h1m1 0h2m1 0h3m1 0h7m2 0h1m3 0h2m3 0h1m1 0h1m1 0h1m1 0h3m2 0h2m1 0h2m1 0h2m1 0h5m2 0h2m1 0h2m1 0h3m2 0h3m1 0h1m2 0h1m2 0h1m3 0h2m2 0h2m4 0h1m2 0h1m3 0h1m2 0h1m10 0h1m28 0h1m-160 1h1m9 0h1m2 0h1m1 0h1m1 0h1m1 0h1m2 0h4m4 0h2m6 0h1m1 0h5m2 0h2m1 0h1m1 0h3m4 0h1m5 0h1m1 0h1m1 0h2m2 0h6m1 0h2m1 0h2m1 0h1m3 0h2m1 0h4m5 0h2m1 0h1m2 0h1m5 0h1m-108 1h2m1 0h2m5 0h2m1 0h2m1 0h3m1 0h1m4 0h7m2 0h6m2 0h1m3 0h1m3 0h13m2 0h2m1 0h3m2 0h4m1 0h2m1 0h2m7 0h1m2 0h2m1 0h1m1 0h1m2 0h1m1 0h1m9 0h2m2 0h1m9 0h1m8 0h1m15 0h1m-167 1h1m1 0h2m4 0h1m2 0h2m2 0h1m8 0h2m3 0h8m4 0h3m1 0h9m1 0h6m2 0h2m1 0h2m1 0h2m1 0h3m1 0h9m4 0h3m1 0h1m1 0h2m1 0h1m4 0h1m2 0h3m1 0h1m2 0h1m7 0h1m14 0h2m-145 1h1m14 0h1m1 0h1m5 0h1m1 0h2m1 0h1m3 0h2m1 0h1m1 0h8m1 0h2m4 0h1m1 0h5m1 0h5m1 0h1m1 0h3m2 0h3m2 0h1m2 0h1m1 0h2m1 0h5m4 0h5m2 0h2m2 0h1m2 0h2m2 0h1m2 0h3m1 0h1m3 0h2m2 0h2m6 0h1m14 0h1m1 0h1m1 0h1m3 0h1m-148 1h1m1 0h1m1 0h1m4 0h4m1 0h2m1 0h3m1 0h2m1 0h1m1 0h1m1 0h5m1 0h2m1 0h5m5 0h3m2 0h5m1 0h2m2 0h1m2 0h2m2 0h1m1 0h1m3 0h1m2 0h1m2 0h1m3 0h1m1 0h2m1 0h1m1 0h1m3 0h1m1 0h3m1 0h4m2 0h3m2 0h2m6 0h1m3 0h1m18 0h1m-149 1h1m5 0h1m1 0h1m2 0h1m1 0h4m1 0h1m2 0h1m3 0h2m1 0h1m1 0h3m1 0h3m1 0h1m1 0h1m2 0h4m1 0h6m3 0h5m1 0h1m3 0h2m1 0h6m1 0h1m2 0h1m2 0h2m1 0h2m1 0h2m4 0h2m2 0h1m7 0h1m3 0h1m2 0h1m2 0h2m2 0h1m5 0h1m3 0h1m10 0h1m15 0h1m-156 1h1m1 0h1m7 0h1m1 0h5m3 0h1m1 0h2m1 0h2m1 0h1m1 0h6m1 0h2m1 0h5m1 0h2m1 0h1m4 0h3m2 0h1m3 0h2m2 0h1m3 0h2m1 0h1m1 0h3m1 0h5m4 0h1m1 0h1m1 0h1m10 0h3m1 0h1m3 0h3m8 0h1m14 0h1m9 0h1m7 0h1m-160 1h1m3 0h2m1 0h2m3 0h2m2 0h3m1 0h1m1 0h1m1 0h1m2 0h2m1 0h5m1 0h4m2 0h7m1 0h2m1 0h1m4 0h1m1 0h1m1 0h3m3 0h2m1 0h1m3 0h7m3 0h2m3 0h3m2 0h1m1 0h1m3 0h1m2 0h1m3 0h1m1 0h2m2 0h2m5 0h1m1 0h1m-122 1h1m1 0h1m1 0h4m1 0h1m3 0h1m3 0h6m1 0h2m1 0h1m1 0h1m2 0h1m1 0h1m1 0h1m2 0h1m1 0h6m1 0h3m1 0h2m1 0h3m1 0h3m1 0h1m1 0h8m1 0h6m1 0h1m1 0h1m4 0h6m1 0h1m2 0h8m1 0h1m1 0h1m5 0h1m1 0h3m12 0h1m3 0h1m-139 1h1m2 0h1m2 0h1m8 0h2m1 0h4m1 0h1m1 0h7m1 0h1m5 0h3m2 0h3m1 0h1m1 0h7m2 0h12m3 0h2m5 0h3m1 0h4m1 0h2m1 0h1m2 0h2m1 0h2m1 0h1m3 0h3m3 0h1m3 0h1m19 0h1m-134 1h1m2 0h1m1 0h2m1 0h1m2 0h3m2 0h2m1 0h1m1 0h3m1 0h3m1 0h2m1 0h3m1 0h2m1 0h2m2 0h5m1 0h1m1 0h6m1 0h4m3 0h2m1 0h3m2 0h1m3 0h1m1 0h1m1 0h2m1 0h2m1 0h1m3 0h1m1 0h2m3 0h1m2 0h3m2 0h1m7 0h2m33 0h2m-156 1h1m1 0h1m5 0h1m1 0h3m1 0h1m2 0h3m1 0h5m1 0h1m2 0h7m1 0h10m3 0h11m2 0h4m1 0h3m1 0h4m2 0h2m2 0h2m2 0h1m1 0h4m2 0h4m1 0h3m1 0h1m1 0h1m1 0h2m1 0h1m1 0h3m3 0h1m6 0h1m2 0h1m3 0h2m3 0h1m6 0h1m-146 1h1m5 0h1m3 0h3m1 0h14m1 0h3m1 0h1m1 0h3m2 0h7m1 0h6m2 0h1m4 0h1m1 0h2m2 0h1m1 0h3m1 0h4m1 0h2m2 0h1m2 0h2m1 0h1m1 0h2m3 0h2m1 0h4m1 0h1m4 0h1m4 0h2m4 0h1m42 0h1m-155 1h1m2 0h1m1 0h2m2 0h3m3 0h3m1 0h1m1 0h2m1 0h2m1 0h1m1 0h3m2 0h4m1 0h13m2 0h9m2 0h1m4 0h6m1 0h1m1 0h1m1 0h3m2 0h1m6 0h1m2 0h1m1 0h2m9 0h1m7 0h1m22 0h2m-151 1h1m6 0h1m1 0h1m1 0h2m1 0h2m1 0h5m1 0h3m1 0h3m2 0h3m1 0h3m1 0h3m1 0h5m2 0h8m1 0h1m1 0h1m2 0h1m1 0h2m1 0h2m1 0h4m1 0h1m1 0h1m3 0h3m2 0h5m1 0h4m2 0h2m3 0h2m3 0h2m2 0h1m25 0h1m-135 1h2m1 0h3m3 0h8m2 0h1m3 0h10m2 0h6m2 0h1m2 0h1m2 0h2m1 0h1m1 0h2m1 0h1m1 0h2m1 0h1m1 0h2m2 0h5m2 0h2m5 0h1m1 0h5m1 0h3m3 0h2m3 0h1m3 0h1m4 0h2m10 0h1m28 0h1m-159 1h1m2 0h1m5 0h1m2 0h1m2 0h4m1 0h3m1 0h3m2 0h1m4 0h1m1 0h3m1 0h7m2 0h1m2 0h1m1 0h3m1 0h1m1 0h5m1 0h4m6 0h4m4 0h1m2 0h1m1 0h4m1 0h2m1 0h1m1 0h3m1 0h3m7 0h1m5 0h1m8 0h1m1 0h1m-127 1h1m5 0h1m1 0h3m1 0h5m2 0h4m2 0h4m1 0h3m1 0h3m1 0h9m1 0h2m1 0h2m1 0h3m1 0h2m2 0h3m1 0h1m2 0h1m1 0h5m3 0h4m1 0h1m13 0h1m8 0h1m13 0h1m14 0h1m-138 1h1m1 0h4m3 0h1m1 0h1m1 0h1m1 0h2m1 0h1m1 0h2m1 0h1m2 0h5m1 0h4m2 0h4m1 0h2m1 0h6m1 0h6m2 0h6m1 0h2m4 0h2m2 0h1m2 0h4m1 0h1m1 0h1m5 0h2m1 0h1m4 0h1m3 0h1m2 0h2m1 0h1m2 0h1m4 0h1m9 0h1m-128 1h1m1 0h1m2 0h1m1 0h1m2 0h1m2 0h1m1 0h2m1 0h3m1 0h1m2 0h2m1 0h1m1 0h2m2 0h4m1 0h9m1 0h1m1 0h1m1 0h2m4 0h6m1 0h2m1 0h2m2 0h2m1 0h1m1 0h4m1 0h3m5 0h1m1 0h4m1 0h1m2 0h1m1 0h2m3 0h1m2 0h1m-115 1h1m4 0h1m2 0h1m2 0h1m2 0h3m1 0h1m1 0h1m4 0h3m1 0h3m1 0h2m1 0h4m1 0h5m2 0h2m1 0h2m2 0h4m2 0h3m2 0h1m2 0h2m2 0h2m1 0h2m1 0h1m3 0h1m1 0h2m1 0h4m1 0h2m1 0h1m1 0h1m3 0h1m4 0h2m2 0h3m4 0h2m4 0h1m-124 1h1m4 0h3m2 0h1m1 0h11m2 0h1m1 0h4m1 0h2m3 0h1m1 0h1m1 0h2m3 0h4m1 0h1m1 0h2m1 0h1m1 0h2m2 0h1m2 0h1m1 0h2m1 0h1m1 0h2m1 0h5m2 0h3m1 0h3m1 0h1m5 0h2m11 0h1m71 0h1m10 0h1m-198 1h1m14 0h1m1 0h2m1 0h2m2 0h4m1 0h1m2 0h1m1 0h1m1 0h5m1 0h5m1 0h2m3 0h2m1 0h9m1 0h1m1 0h1m2 0h1m2 0h3m2 0h1m1 0h1m5 0h1m1 0h1m2 0h2m4 0h3m1 0h1m2 0h1m1 0h1m4 0h2m4 0h1m20 0h1m19 0h1m-157 1h1m4 0h1m1 0h1m1 0h2m1 0h2m1 0h5m1 0h2m1 0h4m1 0h2m1 0h1m1 0h2m1 0h2m4 0h6m1 0h1m1 0h3m1 0h1m1 0h1m2 0h1m1 0h1m1 0h5m1 0h1m1 0h2m1 0h1m1 0h2m2 0h2m2 0h2m1 0h1m3 0h2m1 0h1m10 0h1m3 0h1m4 0h1m15 0h1m-136 1h1m8 0h1m2 0h1m1 0h2m3 0h2m1 0h1m4 0h1m1 0h2m1 0h2m1 0h3m1 0h2m1 0h6m1 0h4m1 0h2m2 0h6m1 0h1m2 0h1m1 0h1m1 0h1m3 0h1m1 0h2m3 0h2m1 0h3m4 0h3m6 0h1m5 0h1m1 0h2m2 0h1m4 0h3m14 0h1m-132 1h1m1 0h1m4 0h1m1 0h3m3 0h5m2 0h2m2 0h5m1 0h1m2 0h4m1 0h2m1 0h2m1 0h3m1 0h7m1 0h1m3 0h2m3 0h1m4 0h2m1 0h2m5 0h1m1 0h5m1 0h1m3 0h1m8 0h2m1 0h1m14 0h2m24 0h1m-153 1h1m6 0h1m1 0h1m1 0h1m1 0h5m6 0h2m1 0h1m1 0h1m2 0h1m3 0h1m1 0h2m1 0h4m1 0h2m1 0h3m1 0h6m1 0h3m1 0h1m1 0h2m4 0h2m1 0h1m6 0h2m1 0h1m3 0h1m3 0h2m1 0h1m1 0h2m5 0h2m2 0h2m3 0h1m11 0h1m-124 1h2m2 0h1m4 0h3m1 0h2m2 0h3m1 0h1m2 0h3m1 0h1m1 0h3m1 0h4m1 0h1m1 0h1m1 0h2m2 0h2m1 0h3m2 0h1m3 0h2m3 0h3m1 0h6m6 0h5m2 0h2m2 0h1m2 0h1m3 0h1m1 0h1m8 0h1m10 0h1m3 0h1m-140 1h1m18 0h1m1 0h1m3 0h2m2 0h3m1 0h3m4 0h3m1 0h1m1 0h1m1 0h7m2 0h1m2 0h2m3 0h4m7 0h1m1 0h1m1 0h4m1 0h1m3 0h1m3 0h3m5 0h4m1 0h2m1 0h1m20 0h1m4 0h1m4 0h1m21 0h1m-149 1h1m1 0h1m8 0h1m1 0h1m1 0h1m3 0h11m1 0h3m1 0h5m2 0h2m1 0h3m1 0h1m1 0h4m3 0h3m1 0h5m2 0h3m1 0h1m4 0h1m7 0h1m1 0h1m9 0h1m6 0h1m14 0h1m3 0h1m-116 1h1m6 0h2m4 0h2m1 0h1m1 0h4m3 0h5m1 0h3m1 0h6m1 0h3m1 0h5m1 0h2m3 0h1m1 0h2m3 0h2m3 0h1m1 0h3m2 0h1m3 0h1m2 0h1m8 0h1m3 0h1m19 0h1m17 0h1m20 0h1m-158 1h1m4 0h2m3 0h3m1 0h2m2 0h1m1 0h4m3 0h2m2 0h1m2 0h2m1 0h2m1 0h3m4 0h1m2 0h1m1 0h5m1 0h1m1 0h2m1 0h2m1 0h1m1 0h1m1 0h1m12 0h2m2 0h1m9 0h1m4 0h1m13 0h1m35 0h1m-154 1h1m1 0h2m1 0h1m1 0h1m1 0h1m2 0h1m1 0h1m2 0h1m1 0h1m1 0h1m2 0h1m1 0h2m1 0h5m1 0h3m3 0h1m1 0h1m1 0h2m3 0h5m3 0h1m1 0h1m2 0h1m2 0h1m2 0h2m2 0h1m1 0h1m1 0h2m3 0h1m8 0h1m1 0h2m3 0h1m3 0h1m23 0h1m16 0h1m-157 1h1m7 0h1m5 0h1m1 0h1m1 0h1m1 0h3m4 0h4m5 0h3m2 0h1m1 0h4m6 0h2m1 0h2m2 0h2m3 0h2m3 0h5m1 0h2m1 0h1m2 0h1m3 0h1m1 0h1m5 0h1m3 0h1m1 0h1m2 0h1m15 0h1m-104 1h1m1 0h1m1 0h1m2 0h2m1 0h3m3 0h1m2 0h1m1 0h2m1 0h5m2 0h2m2 0h1m1 0h1m4 0h1m3 0h1m2 0h2m2 0h1m2 0h1m2 0h2m2 0h2m1 0h1m1 0h1m3 0h1m3 0h1m12 0h2m20 0h1m-117 1h1m2 0h1m3 0h1m6 0h1m1 0h1m1 0h1m1 0h1m1 0h1m3 0h1m1 0h4m1 0h2m4 0h2m5 0h2m2 0h2m1 0h4m2 0h1m1 0h1m1 0h1m1 0h1m4 0h1m2 0h1m4 0h3m1 0h1m3 0h1m3 0h1m5 0h3m15 0h1m16 0h2m51 0h1m-187 1h1m4 0h1m1 0h1m1 0h2m3 0h2m3 0h2m2 0h1m1 0h2m6 0h1m1 0h1m2 0h3m2 0h1m2 0h2m5 0h1m1 0h1m1 0h3m1 0h1m1 0h5m3 0h1m3 0h1m4 0h1m5 0h1m2 0h1m20 0h1m-109 1h1m3 0h2m2 0h1m1 0h4m3 0h1m3 0h3m2 0h4m5 0h4m1 0h2m4 0h2m1 0h3m1 0h3m2 0h1m1 0h3m2 0h1m1 0h1m1 0h1m4 0h3m2 0h1m11 0h1m1 0h1m12 0h1m26 0h1m2 0h1m-138 1h1m2 0h1m4 0h1m1 0h2m4 0h2m2 0h1m6 0h1m4 0h3m2 0h1m10 0h2m2 0h1m3 0h1m2 0h1m5 0h1m2 0h2m68 0h1m-140 1h1m9 0h1m6 0h1m1 0h1m6 0h1m1 0h1m3 0h1m3 0h1m1 0h1m2 0h1m4 0h2m1 0h1m5 0h1m1 0h1m2 0h1m1 0h1m7 0h3m6 0h1m14 0h1m8 0h1m12 0h1m-118 1h1m10 0h1m3 0h1m2 0h2m6 0h1m4 0h1m1 0h2m1 0h2m2 0h3m3 0h1m1 0h2m5 0h1m3 0h1m3 0h1m3 0h1m7 0h1m2 0h1m24 0h1m1 0h2m3 0h1m-108 1h2m29 0h2m2 0h2m2 0h1m7 0h4m5 0h1m2 0h1m1 0h2m2 0h1m4 0h1m2 0h1m3 0h1m2 0h2m1 0h1m4 0h1m11 0h1m16 0h1m8 0h1m14 0h1m-131 1h1m2 0h1m3 0h3m2 0h1m1 0h1m1 0h1m1 0h1m1 0h3m6 0h1m7 0h1m4 0h1m1 0h1m5 0h1m7 0h1m1 0h1m7 0h1m24 0h1m2 0h1m5 0h1m15 0h1m-114 1h2m5 0h1m2 0h1m11 0h1m2 0h3m7 0h1m1 0h1m1 0h1m8 0h1m1 0h1m18 0h1m25 0h1m-110 1h2m3 0h1m5 0h2m2 0h1m3 0h1m3 0h1m2 0h1m1 0h1m5 0h2m7 0h1m7 0h2m1 0h2m9 0h1m5 0h1m20 0h1m-75 1h1m5 0h1m6 0h2m3 0h1m5 0h1m1 0h1m7 0h1m6 0h1m-72 1h1m13 0h1m6 0h1m3 0h2m3 0h2m3 0h1m3 0h1m5 0h2m3 0h1m1 0h1m7 0h1m3 0h1m1 0h1m4 0h1m4 0h1m21 0h1m2 0h1m3 0h1m3 0h1m3 0h1m11 0h1m-110 1h1m22 0h1m19 0h1m14 0h1m4 0h1m46 0h1m-127 1h1m14 0h2m2 0h1m2 0h3m15 0h3m3 0h1m8 0h1m11 0h1m13 0h1m72 0h1m-142 1h1m9 0h1m1 0h1m3 0h2m2 0h1m8 0h2m3 0h1m2 0h1m2 0h1m10 0h1m2 0h1m7 0h1m18 0h1m12 0h1m-95 1h1m3 0h1m3 0h1m15 0h1m27 0h1m3 0h1m10 0h1m44 0h1m-104 1h1m5 0h1m6 0h1m3 0h1m3 0h1m1 0h1m58 0h1m-87 1h1m11 0h2m12 0h1m1 0h1m6 0h1m20 0h1m27 0h1m46 0h1m-115 1h1m1 0h1m7 0h1m48 0h1m7 0h1m-74 1h1m9 0h1m10 0h1m7 0h1m68 0h1m7 0h1m-130 1h1m11 0h1m18 0h1m23 0h1m41 0h1m11 0h1m59 0h1m-26 1h1m17 0h1m-166 1h1m11 0h1m25 0h1m6 0h1m37 0h1m-67 1h1m8 0h1m8 0h1m67 0h1m5 0h1m-110 1h1m3 0h1m30 0h1m5 0h1m52 0h1m-33 1h1m24 0h1m44 0h1m-107 1h1m12 0h1m23 0h2m27 0h1m34 0h1m8 0h1m-19 1h1m24 0h1m-77 1h1m25 0h1m6 0h1m56 0h1m14 0h1m-79 1h1m-89 1h1m51 0h1m92 0h1m-70 1h1m22 0h1m9 0h1m-26 1h1m26 4h1m22 0h1m-62 1h1m-14 3h1m12 0h1m-51 1h1m50 1h1m-48 6h1m136 4h1m-88 2h1m-51 4h1m0 4h1" stroke="#000" stroke-width="1.1" fill="none" transform="translate(0.3 0.3)" opacity="0.9"/><path d="M340 360h1m-43 3h1m46 0h1m-7 2h1m-14 2h1m7 0h1m-29 2h1m11 0h1m-5 1h1m19 0h1m-18 1h1m7 0h1m25 0h1m2 0h1m-38 1h1m2 1h1m11 0h1m1 0h1m-37 1h1m36 0h1m5 0h1m-25 1h1m12 0h1m3 0h1m13 0h1m-85 1h1m7 0h1m47 0h1m7 0h1m5 0h1m6 0h1m-34 1h1m14 0h1m12 0h1m-54 1h1m19 0h1m11 0h1m5 0h1m23 0h2m-39 1h1m6 0h1m16 0h1m6 0h1m6 0h1m8 0h1m-73 1h1m10 0h1m5 0h1m3 0h1m13 0h1m1 0h1m4 0h1m6 0h1m15 0h1m13 0h1m-54 1h1m6 0h3m17 0h2m7 0h1m9 0h1m-63 1h1m5 0h2m4 0h1m7 0h1m1 0h1m3 0h1m2 0h1m2 0h1m3 0h1m9 0h1m1 0h1m4 0h1m-61 1h1m23 0h1m2 0h1m3 0h1m1 0h1m1 0h1m3 0h1m4 0h1m9 0h1m5 0h1m3 0h1m1 0h1m2 0h1m-57 1h1m1 0h1m2 0h1m1 0h2m1 0h1m3 0h2m5 0h1m5 0h1m5 0h1m1 0h1m1 0h1m12 0h1m-59 1h1m6 0h1m7 0h1m4 0h1m4 0h2m1 0h1m3 0h1m2 0h2m17 0h1m5 0h1m3 0h1m4 0h1m-69 1h1m5 0h1m7 0h1m6 0h1m1 0h1m2 0h1m1 0h1m1 0h3m1 0h2m3 0h3m5 0h1m9 0h1m1 0h1m4 0h1m-74 1h1m7 0h1m1 0h1m2 0h1m1 0h1m10 0h1m3 0h1m2 0h1m3 0h3m4 0h2m1 0h1m3 0h1m6 0h1m2 0h2m1 0h1m3 0h1m-82 1h1m25 0h1m2 0h1m6 0h1m1 0h2m1 0h1m2 0h1m2 0h1m3 0h2m6 0h1m1 0h3m2 0h1m10 0h1m3 0h1m9 0h1m-77 1h1m13 0h1m8 0h1m4 0h1m5 0h1m3 0h1m1 0h1m5 0h1m1 0h1m1 0h3m2 0h1m2 0h2m5 0h1m-57 1h1m4 0h1m10 0h1m3 0h1m2 0h2m2 0h6m1 0h1m2 0h2m5 0h1m2 0h3m2 0h2m1 0h2m13 0h1m-77 1h1m4 0h2m2 0h1m10 0h3m1 0h2m1 0h1m2 0h4m1 0h1m1 0h2m4 0h2m3 0h1m4 0h3m6 0h1m13 0h1m-82 1h1m10 0h1m6 0h1m1 0h1m3 0h1m4 0h1m1 0h1m1 0h2m1 0h1m2 0h2m1 0h1m1 0h1m1 0h1m2 0h1m2 0h1m2 0h1m3 0h1m12 0h1m9 0h1m8 0h1m-101 1h1m21 0h2m3 0h2m3 0h2m2 0h1m4 0h1m3 0h5m9 0h1m1 0h2m3 0h1m8 0h1m3 0h1m-69 1h1m12 0h2m6 0h1m4 0h1m1 0h1m3 0h2m1 0h1m2 0h1m1 0h2m1 0h1m2 0h1m3 0h1m1 0h2m1 0h4m2 0h1m2 0h1m1 0h1m5 0h1m-74 1h1m10 0h1m4 0h1m6 0h1m3 0h3m3 0h1m3 0h1m1 0h1m2 0h2m1 0h2m3 0h2m1 0h2m1 0h1m4 0h1m3 0h1m7 0h1m-71 1h2m1 0h2m5 0h1m2 0h2m4 0h1m1 0h1m1 0h4m1 0h2m1 0h1m2 0h9m5 0h3m4 0h2m1 0h1m1 0h3m1 0h1m-65 1h1m6 0h1m4 0h1m5 0h2m3 0h1m4 0h1m2 0h4m2 0h5m1 0h1m6 0h1m2 0h1m1 0h1m6 0h1m-72 1h1m3 0h1m7 0h1m2 0h1m3 0h1m1 0h1m8 0h4m3 0h1m1 0h1m1 0h1m1 0h1m1 0h2m1 0h1m5 0h1m2 0h1m1 0h1m1 0h2m2 0h1m1 0h1m9 0h2m-66 1h4m2 0h1m1 0h1m3 0h4m3 0h3m2 0h3m1 0h4m1 0h2m1 0h3m1 0h1m1 0h3m2 0h1m3 0h1m1 0h1m2 0h1m2 0h1m7 0h1m-77 1h3m4 0h1m2 0h2m5 0h1m1 0h1m1 0h2m5 0h4m4 0h3m3 0h1m3 0h2m1 0h1m1 0h1m2 0h2m2 0h3m4 0h1m8 0h1m9 0h1m-106 1h1m1 0h1m15 0h1m1 0h1m5 0h1m3 0h2m9 0h4m3 0h2m2 0h2m1 0h2m2 0h3m2 0h1m1 0h1m2 0h2m1 0h3m1 0h2m1 0h1m1 0h3m2 0h1m3 0h1m-85 1h1m18 0h1m1 0h1m2 0h1m1 0h1m1 0h1m3 0h2m2 0h1m3 0h2m5 0h1m2 0h3m1 0h1m1 0h7m2 0h2m1 0h1m2 0h1m1 0h4m4 0h1m7 0h1m-82 1h1m3 0h1m1 0h1m2 0h1m1 0h1m2 0h1m10 0h2m1 0h1m2 0h2m2 0h4m1 0h3m1 0h5m1 0h1m1 0h3m2 0h2m1 0h1m1 0h1m4 0h1m2 0h1m4 0h1m3 0h1m2 0h1m5 0h1m-93 1h1m5 0h1m1 0h1m1 0h2m6 0h2m3 0h2m4 0h3m7 0h4m2 0h3m1 0h1m2 0h7m1 0h1m1 0h3m6 0h1m1 0h2m2 0h3m2 0h2m4 0h1m1 0h1m-82 1h1m1 0h1m3 0h3m3 0h4m2 0h2m3 0h1m1 0h1m1 0h1m1 0h1m2 0h2m1 0h1m1 0h2m1 0h7m1 0h5m2 0h1m2 0h3m2 0h1m4 0h1m7 0h1m7 0h1m-105 1h1m13 0h1m1 0h1m1 0h1m3 0h1m1 0h4m3 0h2m1 0h1m1 0h1m5 0h5m1 0h4m2 0h1m1 0h2m1 0h4m2 0h2m4 0h1m1 0h1m1 0h1m1 0h2m1 0h1m1 0h2m1 0h1m2 0h3m-82 1h1m18 0h1m3 0h1m1 0h1m1 0h3m3 0h1m2 0h2m1 0h5m2 0h2m1 0h3m1 0h1m2 0h1m1 0h1m2 0h1m2 0h2m1 0h1m6 0h1m5 0h1m1 0h3m-93 1h2m13 0h1m3 0h1m1 0h2m5 0h1m2 0h3m1 0h2m1 0h1m1 0h2m1 0h2m2 0h3m5 0h1m2 0h1m3 0h3m3 0h2m1 0h2m4 0h2m3 0h2m1 0h1m1 0h1m2 0h1m-94 1h1m10 0h1m3 0h2m4 0h2m12 0h1m1 0h1m1 0h1m1 0h1m2 0h1m3 0h2m2 0h5m1 0h1m3 0h2m1 0h1m1 0h1m1 0h3m3 0h1m1 0h2m1 0h1m3 0h6m5 0h1m2 0h1m1 0h1m6 0h1m-106 1h1m16 0h1m1 0h1m4 0h1m1 0h4m4 0h1m5 0h2m1 0h2m2 0h1m10 0h3m2 0h2m1 0h5m1 0h3m2 0h3m4 0h1m1 0h1m7 0h1m-84 1h1m1 0h1m1 0h1m7 0h3m2 0h2m3 0h2m2 0h3m1 0h8m4 0h2m1 0h2m2 0h2m1 0h1m1 0h2m1 0h1m1 0h1m5 0h2m1 0h2m4 0h2m2 0h2m5 0h1m-84 1h1m7 0h2m3 0h2m4 0h1m1 0h1m3 0h2m1 0h1m1 0h2m2 0h1m2 0h9m2 0h2m1 0h2m2 0h2m1 0h3m3 0h1m2 0h1m1 0h1m6 0h1m1 0h1m2 0h1m8 0h2m-94 1h1m8 0h1m2 0h1m1 0h3m2 0h1m1 0h3m2 0h1m1 0h3m1 0h1m7 0h1m1 0h1m1 0h1m1 0h1m2 0h3m3 0h3m1 0h1m2 0h2m1 0h2m1 0h1m2 0h1m2 0h1m1 0h5m9 0h1m-106 1h1m7 0h1m6 0h1m2 0h1m2 0h1m1 0h1m2 0h2m7 0h2m1 0h3m6 0h1m1 0h1m1 0h1m2 0h2m1 0h3m1 0h2m1 0h1m2 0h1m1 0h1m1 0h1m1 0h7m2 0h2m3 0h2m4 0h1m1 0h2m-99 1h1m9 0h2m2 0h1m1 0h1m3 0h2m3 0h1m3 0h1m1 0h2m1 0h3m1 0h3m1 0h1m2 0h2m1 0h3m5 0h1m1 0h1m1 0h4m1 0h2m1 0h3m2 0h2m2 0h3m2 0h2m1 0h1m1 0h2m11 0h1m-85 1h1m2 0h1m4 0h1m2 0h1m1 0h1m5 0h1m1 0h1m1 0h2m1 0h5m2 0h1m1 0h2m2 0h3m1 0h2m3 0h1m2 0h1m2 0h3m1 0h1m4 0h5m9 0h1m-90 1h1m1 0h1m6 0h1m5 0h1m1 0h6m1 0h2m2 0h5m1 0h3m1 0h2m2 0h1m5 0h3m3 0h4m3 0h2m1 0h4m2 0h2m2 0h1m1 0h1m1 0h1m1 0h3m3 0h3m1 0h1m2 0h1m-92 1h1m6 0h2m1 0h1m2 0h1m1 0h1m3 0h1m1 0h1m2 0h2m1 0h1m1 0h5m2 0h4m3 0h2m5 0h1m3 0h1m1 0h1m1 0h1m3 0h1m1 0h1m1 0h1m4 0h1m1 0h2m1 0h1m6 0h1m2 0h1m6 0h3m8 0h1m-96 1h1m4 0h1m1 0h1m2 0h3m1 0h2m1 0h1m1 0h2m1 0h1m2 0h1m1 0h1m3 0h2m1 0h1m1 0h2m2 0h6m2 0h1m1 0h1m1 0h1m4 0h1m2 0h1m4 0h2m5 0h1m2 0h1m1 0h2m2 0h2m2 0h1m1 0h1m-104 1h1m9 0h2m4 0h1m3 0h1m1 0h1m1 0h1m8 0h1m1 0h2m1 0h1m3 0h1m1 0h9m2 0h2m1 0h1m1 0h1m1 0h3m1 0h3m1 0h3m4 0h1m1 0h3m2 0h1m1 0h2m1 0h1m2 0h2m7 0h1m-89 1h1m2 0h1m1 0h2m8 0h2m2 0h1m1 0h2m1 0h1m2 0h4m3 0h1m1 0h3m4 0h1m4 0h1m2 0h2m4 0h1m1 0h1m1 0h1m1 0h3m1 0h1m1 0h2m1 0h2m2 0h3m7 0h1m1 0h1m1 0h2m1 0h2m-109 1h1m22 0h1m4 0h1m1 0h2m1 0h3m1 0h6m1 0h1m1 0h1m2 0h4m1 0h1m1 0h2m1 0h1m2 0h1m2 0h1m1 0h1m3 0h1m2 0h3m1 0h1m5 0h4m4 0h2m4 0h1m3 0h2m5 0h1m2 0h1m-105 1h1m2 0h1m1 0h1m2 0h1m1 0h2m5 0h2m1 0h2m1 0h1m2 0h1m2 0h1m2 0h1m1 0h2m1 0h1m1 0h4m1 0h2m1 0h1m1 0h1m3 0h4m1 0h2m11 0h2m1 0h3m2 0h1m2 0h1m1 0h1m2 0h1m3 0h1m-104 1h1m15 0h1m3 0h1m7 0h6m1 0h3m1 0h1m1 0h2m1 0h1m1 0h4m1 0h1m2 0h1m1 0h3m3 0h2m1 0h1m1 0h1m1 0h3m1 0h2m2 0h2m3 0h1m2 0h1m4 0h4m2 0h2m4 0h1m2 0h1m-89 1h1m6 0h2m4 0h2m3 0h2m1 0h2m2 0h1m1 0h1m3 0h2m1 0h2m2 0h6m2 0h1m1 0h1m1 0h1m2 0h4m3 0h1m1 0h5m3 0h1m1 0h1m2 0h1m2 0h2m1 0h1m1 0h1m2 0h1m4 0h1m3 0h1m4 0h1m-109 1h1m3 0h1m4 0h2m3 0h3m1 0h1m6 0h2m2 0h2m3 0h1m1 0h1m2 0h4m1 0h1m1 0h1m1 0h3m2 0h1m1 0h2m1 0h5m3 0h1m1 0h1m1 0h1m4 0h2m1 0h2m1 0h2m2 0h1m3 0h1m1 0h1m-88 1h1m2 0h1m2 0h3m4 0h4m5 0h1m2 0h2m1 0h2m1 0h2m5 0h3m1 0h1m2 0h2m2 0h2m3 0h1m2 0h1m1 0h2m5 0h1m1 0h1m2 0h1m3 0h1m1 0h3m3 0h1m4 0h1m4 0h1m2 0h1m2 0h1m-99 1h1m2 0h1m2 0h1m1 0h5m1 0h4m2 0h1m1 0h4m2 0h2m1 0h1m1 0h4m2 0h3m2 0h2m1 0h2m1 0h1m1 0h1m7 0h4m1 0h2m2 0h2m2 0h3m5 0h1m1 0h2m4 0h2m1 0h1m2 0h1m1 0h1m2 0h1m-103 1h1m3 0h3m3 0h3m1 0h1m5 0h2m1 0h3m3 0h3m2 0h1m6 0h4m2 0h2m2 0h3m2 0h2m2 0h2m2 0h1m1 0h1m8 0h1m1 0h2m6 0h1m5 0h1m3 0h1m2 0h1m5 0h1m16 0h1m-128 1h1m3 0h2m1 0h1m1 0h1m2 0h1m1 0h1m4 0h1m2 0h1m1 0h2m1 0h1m2 0h3m1 0h2m1 0h6m1 0h7m2 0h4m1 0h1m2 0h1m1 0h11m2 0h2m3 0h2m2 0h4m1 0h1m2 0h1m1 0h2m1 0h2m2 0h1m6 0h1m-106 1h1m5 0h2m4 0h1m2 0h2m1 0h1m1 0h1m1 0h3m1 0h1m1 0h1m1 0h1m1 0h2m2 0h2m1 0h7m1 0h2m1 0h2m3 0h1m2 0h1m1 0h2m2 0h1m1 0h1m3 0h1m4 0h4m11 0h2m3 0h1m3 0h1m-103 1h3m2 0h2m1 0h1m1 0h1m1 0h1m2 0h1m4 0h2m1 0h1m2 0h1m4 0h1m2 0h2m1 0h3m2 0h6m1 0h1m3 0h1m4 0h1m1 0h3m1 0h2m1 0h1m1 0h1m1 0h2m3 0h1m5 0h1m5 0h1m3 0h3m-88 1h1m1 0h1m4 0h1m1 0h1m1 0h1m1 0h1m2 0h1m5 0h5m1 0h2m1 0h1m1 0h1m1 0h1m1 0h1m1 0h4m2 0h1m2 0h1m1 0h1m1 0h3m2 0h1m1 0h1m3 0h2m2 0h3m4 0h1m1 0h1m1 0h4m2 0h1m2 0h3m2 0h1m10 0h1m-112 1h1m2 0h2m4 0h1m2 0h2m2 0h1m1 0h2m1 0h1m2 0h4m1 0h4m1 0h1m1 0h3m1 0h7m1 0h2m1 0h4m1 0h1m3 0h2m3 0h1m1 0h4m1 0h1m1 0h2m4 0h1m2 0h2m2 0h1m1 0h2m3 0h2m7 0h1m2 0h1m-112 1h1m5 0h1m2 0h1m6 0h1m2 0h1m1 0h4m1 0h1m1 0h3m2 0h2m1 0h2m2 0h1m2 0h1m1 0h1m2 0h3m5 0h1m1 0h2m9 0h1m2 0h6m6 0h4m3 0h1m2 0h1m2 0h1m6 0h1m21 0h1m-121 1h2m2 0h1m3 0h1m1 0h1m2 0h1m1 0h1m1 0h1m3 0h1m3 0h1m1 0h3m1 0h1m1 0h2m1 0h2m2 0h2m1 0h1m2 0h1m1 0h2m3 0h2m1 0h1m1 0h3m1 0h2m1 0h1m2 0h2m5 0h1m1 0h1m3 0h2m3 0h2m2 0h1m4 0h1m3 0h1m3 0h1m-100 1h3m1 0h1m4 0h4m1 0h1m1 0h3m2 0h5m1 0h2m1 0h1m3 0h1m1 0h2m1 0h3m1 0h1m1 0h1m1 0h1m1 0h1m1 0h2m1 0h3m4 0h1m2 0h5m1 0h3m1 0h2m1 0h1m3 0h1m1 0h1m1 0h1m1 0h2m1 0h2m13 0h1m11 0h1m-126 1h1m7 0h1m1 0h3m1 0h1m3 0h2m3 0h1m3 0h1m1 0h3m1 0h2m4 0h2m2 0h2m5 0h1m1 0h2m1 0h1m1 0h1m1 0h1m1 0h1m2 0h1m7 0h1m1 0h1m1 0h2m4 0h1m1 0h5m4 0h1m1 0h1m5 0h1m-97 1h1m2 0h1m1 0h4m2 0h1m2 0h2m1 0h2m2 0h2m1 0h1m1 0h1m1 0h1m4 0h1m2 0h1m2 0h1m1 0h3m1 0h3m1 0h1m6 0h1m1 0h1m2 0h1m1 0h2m2 0h1m3 0h1m6 0h1m2 0h1m1 0h1m2 0h1m2 0h1m1 0h1m2 0h1m2 0h1m-105 1h1m6 0h2m3 0h2m7 0h3m1 0h3m1 0h1m2 0h2m3 0h7m2 0h1m2 0h3m2 0h3m3 0h2m1 0h10m1 0h3m1 0h1m1 0h1m1 0h2m2 0h2m3 0h1m1 0h1m3 0h1m1 0h1m2 0h1m3 0h1m4 0h1m-111 1h1m2 0h1m5 0h4m5 0h1m3 0h1m1 0h2m5 0h3m2 0h2m1 0h1m2 0h1m5 0h2m5 0h1m3 0h1m2 0h2m2 0h5m2 0h3m7 0h2m3 0h4m6 0h2m4 0h1m4 0h1m2 0h1m6 0h1m-122 1h2m3 0h1m3 0h4m3 0h2m1 0h2m1 0h3m1 0h1m1 0h1m2 0h4m1 0h1m2 0h2m1 0h1m1 0h1m2 0h5m2 0h1m4 0h1m4 0h2m3 0h3m4 0h2m1 0h2m1 0h1m17 0h1m5 0h1m-103 1h1m4 0h1m1 0h2m1 0h2m1 0h7m1 0h1m1 0h1m1 0h1m1 0h3m6 0h4m1 0h2m3 0h3m6 0h2m2 0h1m1 0h1m3 0h1m6 0h1m1 0h1m2 0h4m1 0h2m6 0h1m3 0h1m2 0h2m12 0h1m-120 1h1m5 0h1m3 0h1m5 0h1m2 0h2m1 0h1m4 0h2m4 0h3m4 0h2m1 0h7m1 0h1m2 0h3m2 0h3m4 0h3m1 0h2m4 0h1m3 0h1m1 0h1m2 0h4m2 0h1m1 0h4m3 0h1m1 0h2m5 0h1m5 0h1m-107 1h1m1 0h1m2 0h1m1 0h1m1 0h1m3 0h2m1 0h1m2 0h2m2 0h1m1 0h6m1 0h3m2 0h5m1 0h1m2 0h4m1 0h1m1 0h1m3 0h5m1 0h1m3 0h1m3 0h2m1 0h1m1 0h1m1 0h2m5 0h1m4 0h2m1 0h1m4 0h2m5 0h1m-109 1h1m1 0h1m1 0h2m1 0h1m5 0h3m1 0h1m1 0h8m1 0h1m4 0h3m1 0h2m1 0h5m2 0h1m1 0h1m1 0h2m1 0h2m3 0h1m1 0h1m1 0h1m4 0h1m1 0h1m1 0h1m1 0h3m1 0h1m2 0h2m1 0h3m13 0h1m-98 1h2m3 0h1m1 0h1m1 0h2m2 0h1m1 0h1m1 0h5m2 0h1m4 0h2m2 0h2m1 0h1m1 0h2m2 0h1m1 0h2m1 0h1m1 0h8m4 0h1m1 0h2m3 0h2m7 0h1m1 0h2m1 0h2m6 0h1m11 0h1m-105 1h1m1 0h5m4 0h4m2 0h1m1 0h1m1 0h3m1 0h4m2 0h8m1 0h3m2 0h4m1 0h2m2 0h1m1 0h1m4 0h5m1 0h2m5 0h2m1 0h1m6 0h3m2 0h1m1 0h2m1 0h1m2 0h1m4 0h1m-111 1h1m4 0h2m4 0h2m1 0h5m7 0h2m1 0h4m1 0h1m3 0h4m1 0h3m1 0h4m1 0h2m2 0h3m2 0h8m2 0h2m1 0h2m1 0h4m1 0h1m1 0h1m4 0h3m1 0h1m11 0h1m1 0h1m2 0h1m19 0h1m-123 1h1m1 0h1m4 0h1m1 0h5m2 0h3m1 0h5m2 0h2m1 0h3m2 0h4m1 0h2m2 0h4m2 0h2m1 0h4m1 0h1m1 0h6m2 0h2m7 0h5m1 0h1m2 0h1m1 0h1m1 0h1m1 0h1m3 0h1m1 0h2m9 0h1m-116 1h1m6 0h5m1 0h1m1 0h2m4 0h4m1 0h1m1 0h2m4 0h2m1 0h9m1 0h1m1 0h4m1 0h2m1 0h2m1 0h3m1 0h1m1 0h2m2 0h2m4 0h2m2 0h5m1 0h1m2 0h4m1 0h1m2 0h1m2 0h1m4 0h1m5 0h1m11 0h1m-126 1h1m3 0h1m5 0h1m3 0h4m1 0h3m1 0h1m3 0h1m1 0h3m1 0h1m4 0h1m1 0h4m1 0h1m2 0h1m1 0h5m1 0h1m4 0h1m6 0h2m1 0h2m3 0h1m2 0h1m3 0h2m5 0h1m1 0h3m2 0h2m1 0h2m2 0h1m8 0h1m1 0h1m-110 1h1m6 0h1m1 0h1m1 0h1m1 0h3m1 0h3m3 0h1m1 0h6m2 0h2m1 0h3m2 0h1m2 0h5m2 0h5m1 0h1m1 0h4m5 0h2m1 0h1m5 0h3m3 0h6m1 0h1m1 0h1m2 0h1m2 0h1m2 0h1m20 0h1m-120 1h2m1 0h1m3 0h2m1 0h1m2 0h3m2 0h8m1 0h2m2 0h3m2 0h2m1 0h9m3 0h1m1 0h6m2 0h1m1 0h1m1 0h1m2 0h1m1 0h3m1 0h1m1 0h1m3 0h1m2 0h1m3 0h3m1 0h1m1 0h1m1 0h1m1 0h1m7 0h1m-116 1h1m1 0h1m8 0h1m2 0h1m6 0h9m1 0h2m1 0h3m2 0h3m1 0h1m1 0h5m2 0h4m1 0h7m1 0h2m1 0h2m1 0h1m1 0h1m5 0h1m1 0h2m9 0h1m1 0h2m8 0h1m1 0h1m4 0h1m2 0h1m10 0h1m3 0h1m-126 1h1m3 0h1m1 0h1m1 0h1m1 0h2m1 0h1m2 0h2m1 0h1m1 0h1m2 0h2m1 0h3m1 0h1m2 0h2m1 0h2m2 0h5m1 0h7m1 0h1m2 0h2m1 0h2m1 0h3m1 0h9m2 0h1m1 0h2m1 0h5m2 0h5m3 0h1m3 0h1m-107 1h2m1 0h2m2 0h2m4 0h4m1 0h2m3 0h9m2 0h2m1 0h1m1 0h1m3 0h2m2 0h1m1 0h4m1 0h1m3 0h3m2 0h2m1 0h2m4 0h1m2 0h1m2 0h1m3 0h1m3 0h2m3 0h4m2 0h1m3 0h1m38 0h1m3 0h1m-139 1h1m2 0h2m1 0h3m1 0h1m2 0h10m1 0h6m1 0h3m1 0h3m1 0h2m2 0h8m1 0h2m1 0h2m3 0h4m1 0h1m3 0h1m3 0h1m6 0h5m2 0h1m1 0h1m2 0h1m2 0h3m2 0h1m-103 1h4m2 0h1m3 0h2m2 0h3m2 0h3m3 0h4m2 0h1m2 0h8m2 0h1m2 0h1m4 0h1m1 0h1m2 0h1m1 0h1m1 0h3m1 0h7m3 0h1m1 0h4m3 0h1m1 0h2m2 0h1m3 0h2m3 0h1m9 0h2m-114 1h2m8 0h4m1 0h1m3 0h2m2 0h2m1 0h9m1 0h2m1 0h2m1 0h1m2 0h1m1 0h3m1 0h3m2 0h4m1 0h2m2 0h1m1 0h2m1 0h2m3 0h1m1 0h1m2 0h4m1 0h3m1 0h1m1 0h1m1 0h2m2 0h1m1 0h1m3 0h1m1 0h1m-101 1h1m2 0h2m1 0h3m2 0h1m1 0h7m1 0h1m2 0h1m1 0h1m1 0h2m1 0h9m1 0h4m4 0h3m1 0h4m2 0h2m1 0h4m1 0h7m3 0h2m1 0h1m3 0h1m4 0h1m5 0h3m4 0h2m-109 1h1m5 0h5m1 0h2m1 0h1m2 0h1m1 0h6m1 0h1m1 0h2m1 0h2m1 0h1m2 0h5m1 0h2m1 0h3m3 0h1m1 0h3m2 0h3m1 0h1m6 0h1m1 0h1m4 0h2m4 0h2m2 0h1m1 0h1m1 0h5m3 0h1m2 0h1m9 0h1m-111 1h4m1 0h1m1 0h5m1 0h8m1 0h7m1 0h2m1 0h3m2 0h1m1 0h8m1 0h4m3 0h6m3 0h3m2 0h1m1 0h2m2 0h1m4 0h1m2 0h1m3 0h1m1 0h1m1 0h1m4 0h1m5 0h1m-112 1h1m7 0h1m1 0h2m1 0h1m3 0h1m1 0h1m2 0h6m1 0h1m1 0h5m1 0h8m2 0h2m1 0h1m1 0h2m1 0h7m5 0h1m1 0h1m1 0h5m1 0h5m3 0h1m2 0h1m22 0h2m14 0h1m-121 1h1m1 0h4m1 0h2m1 0h3m1 0h4m2 0h1m1 0h6m1 0h1m1 0h1m3 0h4m1 0h7m1 0h2m2 0h1m1 0h1m2 0h3m4 0h6m3 0h1m3 0h1m1 0h1m4 0h4m2 0h1m50 0h1m-149 1h1m6 0h1m1 0h1m4 0h2m2 0h2m2 0h2m5 0h5m1 0h5m1 0h1m1 0h5m1 0h2m1 0h1m1 0h5m1 0h3m1 0h1m1 0h1m1 0h1m1 0h2m2 0h1m1 0h1m1 0h2m2 0h2m2 0h1m4 0h1m2 0h1m2 0h2m6 0h1m5 0h1m16 0h1m-133 1h1m9 0h2m7 0h1m1 0h1m1 0h9m1 0h1m2 0h2m1 0h4m1 0h1m1 0h1m2 0h2m2 0h3m1 0h3m2 0h1m1 0h1m1 0h1m2 0h2m1 0h1m1 0h1m1 0h3m2 0h1m2 0h1m5 0h1m1 0h3m4 0h1m1 0h2m6 0h1m3 0h1m-105 1h2m1 0h1m1 0h7m3 0h3m1 0h6m3 0h3m2 0h1m1 0h6m1 0h2m2 0h1m1 0h3m3 0h1m1 0h4m1 0h1m3 0h8m1 0h1m1 0h1m1 0h2m1 0h1m2 0h1m3 0h1m2 0h3m1 0h5m6 0h1m-105 1h1m2 0h2m2 0h3m1 0h1m2 0h1m1 0h1m1 0h1m1 0h8m3 0h4m1 0h5m1 0h2m2 0h1m2 0h1m1 0h7m1 0h9m3 0h2m7 0h3m1 0h1m2 0h1m6 0h1m2 0h2m6 0h1m3 0h1m-113 1h1m5 0h2m1 0h1m1 0h1m1 0h2m1 0h2m1 0h6m1 0h7m1 0h2m1 0h3m1 0h5m1 0h3m1 0h6m1 0h1m1 0h2m1 0h6m4 0h1m2 0h1m2 0h2m1 0h1m8 0h1m4 0h1m2 0h1m23 0h1m-123 1h1m2 0h3m1 0h1m1 0h4m1 0h2m1 0h7m1 0h9m1 0h4m1 0h4m1 0h2m1 0h1m1 0h1m1 0h2m1 0h1m3 0h1m1 0h1m1 0h1m1 0h1m6 0h1m2 0h2m2 0h3m1 0h1m3 0h1m2 0h1m2 0h2m2 0h1m2 0h2m31 0h1m-137 1h1m4 0h1m3 0h2m1 0h3m1 0h1m1 0h3m2 0h1m1 0h1m2 0h4m1 0h2m2 0h1m1 0h8m1 0h2m1 0h1m1 0h5m1 0h3m3 0h1m3 0h2m3 0h3m1 0h3m3 0h3m1 0h1m1 0h1m1 0h5m2 0h1m12 0h1m35 0h1m-144 1h1m2 0h2m1 0h2m2 0h6m1 0h7m1 0h4m1 0h7m2 0h1m1 0h3m1 0h4m1 0h1m2 0h5m3 0h1m1 0h1m1 0h5m1 0h1m1 0h1m1 0h1m2 0h2m2 0h2m6 0h1m7 0h2m6 0h1m35 0h1m-150 1h1m6 0h1m1 0h1m1 0h5m1 0h1m2 0h2m2 0h1m1 0h2m1 0h1m1 0h4m1 0h1m1 0h8m1 0h1m1 0h4m2 0h3m1 0h4m1 0h3m1 0h1m4 0h3m1 0h2m2 0h2m3 0h2m4 0h1m23 0h1m-113 1h1m2 0h3m2 0h2m1 0h2m1 0h5m1 0h1m1 0h1m1 0h3m2 0h6m1 0h1m1 0h2m1 0h1m2 0h2m1 0h4m4 0h3m1 0h3m1 0h3m1 0h1m1 0h1m3 0h1m1 0h2m1 0h1m2 0h3m2 0h2m1 0h1m2 0h1m1 0h1m21 0h1m-116 1h1m3 0h9m1 0h4m2 0h4m1 0h2m1 0h8m1 0h9m3 0h2m1 0h1m1 0h3m3 0h6m1 0h1m2 0h3m2 0h2m4 0h4m5 0h1m3 0h1m7 0h1m-109 1h1m4 0h1m1 0h3m2 0h1m1 0h3m2 0h1m1 0h1m1 0h5m2 0h6m1 0h2m1 0h14m1 0h1m1 0h1m1 0h6m2 0h2m1 0h4m4 0h1m2 0h1m1 0h1m1 0h1m1 0h1m5 0h3m3 0h2m11 0h1m-109 1h3m2 0h1m1 0h3m1 0h2m2 0h1m1 0h1m1 0h2m1 0h1m2 0h1m1 0h15m2 0h5m1 0h1m3 0h3m1 0h2m5 0h1m1 0h1m1 0h1m1 0h3m1 0h1m5 0h1m3 0h2m2 0h1m4 0h2m-97 1h1m1 0h2m1 0h4m2 0h9m2 0h1m1 0h8m1 0h4m1 0h2m2 0h5m2 0h2m1 0h3m1 0h1m1 0h1m1 0h5m2 0h1m2 0h1m2 0h3m5 0h4m1 0h1m3 0h2m5 0h1m3 0h1m1 0h1m6 0h1m-113 1h1m8 0h1m4 0h3m1 0h3m1 0h17m2 0h2m1 0h3m1 0h4m1 0h2m1 0h4m1 0h1m2 0h1m1 0h4m1 0h3m1 0h1m1 0h2m4 0h1m6 0h1m1 0h1m1 0h1m9 0h1m11 0h1m-122 1h1m7 0h1m1 0h1m2 0h1m3 0h3m1 0h3m1 0h1m1 0h6m1 0h3m1 0h2m1 0h3m1 0h3m1 0h5m1 0h3m1 0h5m1 0h2m1 0h1m2 0h1m1 0h1m1 0h2m2 0h1m1 0h3m2 0h1m1 0h1m2 0h1m1 0h3m2 0h1m1 0h1m2 0h1m3 0h1m2 0h2m7 0h1m32 0h1m-149 1h1m1 0h1m1 0h2m1 0h1m1 0h2m1 0h4m2 0h4m1 0h16m3 0h6m2 0h3m1 0h2m1 0h3m2 0h1m1 0h1m1 0h2m1 0h2m1 0h1m1 0h2m1 0h1m1 0h1m1 0h1m1 0h3m4 0h1m4 0h1m2 0h2m2 0h1m18 0h1m-121 1h2m2 0h5m1 0h1m1 0h2m2 0h23m1 0h6m1 0h2m1 0h3m2 0h7m2 0h5m2 0h1m1 0h2m1 0h3m4 0h2m3 0h1m4 0h2m3 0h1m-96 1h1m1 0h2m1 0h1m1 0h1m1 0h5m1 0h9m1 0h5m1 0h2m1 0h8m1 0h8m2 0h1m1 0h1m1 0h1m5 0h2m1 0h1m1 0h1m4 0h2m1 0h4m1 0h1m1 0h1m1 0h2m6 0h2m3 0h1m-105 1h1m6 0h3m1 0h4m1 0h4m2 0h2m1 0h2m1 0h3m1 0h2m1 0h2m1 0h2m1 0h5m1 0h2m1 0h4m3 0h1m1 0h2m1 0h1m1 0h4m2 0h3m1 0h1m1 0h7m3 0h1m1 0h1m3 0h1m4 0h3m2 0h1m2 0h1m-105 1h1m1 0h1m3 0h1m2 0h2m1 0h11m1 0h1m1 0h4m1 0h11m2 0h1m1 0h4m1 0h5m1 0h3m1 0h1m1 0h7m1 0h1m2 0h1m1 0h1m1 0h1m2 0h3m1 0h5m1 0h1m2 0h1m3 0h1m4 0h1m30 0h1m-138 1h1m7 0h6m1 0h1m3 0h9m1 0h3m2 0h1m1 0h2m1 0h1m1 0h1m2 0h4m3 0h7m2 0h1m1 0h10m6 0h1m1 0h1m1 0h1m2 0h2m1 0h3m3 0h1m1 0h5m38 0h1m-143 1h1m5 0h1m5 0h1m1 0h1m3 0h1m1 0h1m3 0h1m3 0h1m1 0h2m1 0h2m1 0h9m1 0h4m1 0h3m1 0h2m2 0h1m1 0h4m2 0h2m1 0h1m1 0h1m4 0h3m2 0h3m4 0h2m2 0h1m1 0h1m8 0h1m-102 1h1m2 0h1m1 0h1m1 0h2m2 0h2m1 0h3m2 0h1m1 0h2m2 0h2m1 0h4m1 0h8m3 0h12m1 0h1m1 0h2m1 0h6m1 0h1m5 0h1m1 0h2m1 0h3m3 0h1m1 0h2m2 0h1m38 0h1m-128 1h2m1 0h4m1 0h1m1 0h10m1 0h1m1 0h3m2 0h6m1 0h2m1 0h11m2 0h4m1 0h3m2 0h5m1 0h5m1 0h2m1 0h1m3 0h1m1 0h1m4 0h1m2 0h1m2 0h1m-101 1h1m5 0h2m3 0h6m1 0h6m1 0h13m1 0h4m1 0h3m1 0h3m1 0h2m1 0h4m1 0h3m1 0h1m2 0h3m1 0h2m1 0h2m3 0h1m2 0h1m1 0h3m2 0h1m1 0h2m4 0h1m2 0h1m-96 1h1m3 0h1m2 0h1m1 0h2m2 0h1m1 0h11m1 0h1m1 0h4m2 0h4m2 0h4m1 0h6m1 0h3m1 0h1m1 0h3m1 0h1m2 0h1m1 0h1m2 0h1m1 0h2m3 0h1m5 0h1m2 0h2m1 0h1m1 0h1m18 0h1m-115 1h1m1 0h2m2 0h1m5 0h1m1 0h9m1 0h2m1 0h12m1 0h1m1 0h1m1 0h8m1 0h3m1 0h1m2 0h1m6 0h2m1 0h1m1 0h2m1 0h2m3 0h1m1 0h1m1 0h2m7 0h2m48 0h1m-145 1h1m5 0h1m1 0h2m3 0h2m1 0h3m1 0h3m2 0h4m1 0h4m1 0h1m1 0h1m1 0h2m2 0h8m1 0h2m3 0h1m2 0h2m2 0h2m1 0h1m1 0h1m5 0h2m1 0h1m1 0h1m1 0h2m2 0h2m3 0h1m2 0h3m1 0h2m31 0h3m-132 1h1m2 0h2m3 0h4m1 0h1m1 0h4m1 0h5m2 0h5m1 0h1m2 0h9m1 0h12m4 0h1m1 0h1m3 0h1m3 0h1m1 0h2m2 0h1m3 0h1m12 0h2m5 0h1m16 0h1m25 0h1m-137 1h2m2 0h2m2 0h2m1 0h1m1 0h2m1 0h2m1 0h5m1 0h3m3 0h12m1 0h7m1 0h1m1 0h3m1 0h2m1 0h1m1 0h1m2 0h4m1 0h2m2 0h1m3 0h2m6 0h2m12 0h1m32 0h1m15 0h1m-166 1h1m6 0h1m2 0h1m1 0h1m1 0h3m1 0h1m1 0h2m1 0h1m1 0h2m1 0h16m2 0h1m1 0h1m1 0h6m1 0h3m1 0h1m5 0h1m1 0h2m4 0h1m2 0h2m1 0h2m1 0h2m1 0h2m2 0h1m4 0h2m6 0h1m4 0h1m18 0h1m-121 1h1m2 0h1m1 0h5m1 0h5m2 0h8m3 0h8m1 0h5m1 0h4m2 0h3m1 0h2m7 0h3m1 0h2m1 0h1m1 0h1m4 0h4m1 0h2m3 0h1m1 0h1m2 0h2m5 0h2m33 0h1m-136 1h1m2 0h3m2 0h1m2 0h4m1 0h3m1 0h4m1 0h10m1 0h1m1 0h1m2 0h4m1 0h2m1 0h1m2 0h1m1 0h4m1 0h2m1 0h1m1 0h1m1 0h1m2 0h2m4 0h3m3 0h1m7 0h2m17 0h1m9 0h1m8 0h1m-133 1h1m5 0h1m5 0h1m1 0h1m2 0h2m1 0h5m1 0h8m1 0h6m1 0h1m1 0h7m1 0h2m1 0h5m3 0h7m1 0h3m8 0h2m4 0h2m-85 1h1m4 0h2m1 0h1m1 0h1m2 0h2m4 0h2m1 0h4m1 0h1m1 0h1m1 0h1m1 0h1m1 0h2m2 0h2m1 0h1m1 0h9m1 0h11m1 0h2m1 0h1m1 0h2m1 0h2m5 0h1m1 0h3m2 0h1m2 0h1m3 0h1m6 0h2m-105 1h1m1 0h1m2 0h1m1 0h2m1 0h1m3 0h3m1 0h1m2 0h3m1 0h1m1 0h2m1 0h12m1 0h3m1 0h3m2 0h2m1 0h2m3 0h1m1 0h1m1 0h1m1 0h1m1 0h2m1 0h1m1 0h2m1 0h2m3 0h1m8 0h1m-91 1h7m4 0h3m3 0h4m1 0h1m3 0h1m2 0h17m1 0h7m2 0h4m3 0h2m2 0h1m1 0h1m2 0h1m4 0h3m7 0h1m4 0h1m28 0h1m11 0h1m-134 1h1m2 0h1m1 0h4m1 0h5m2 0h2m2 0h4m2 0h15m1 0h2m1 0h5m1 0h5m3 0h2m1 0h4m1 0h1m3 0h1m5 0h3m5 0h1m5 0h1m-91 1h1m1 0h4m3 0h1m6 0h1m1 0h12m3 0h1m2 0h3m1 0h6m1 0h2m2 0h8m1 0h4m1 0h2m1 0h1m1 0h7m2 0h1m1 0h1m37 0h1m-126 1h1m3 0h2m3 0h1m1 0h8m1 0h4m1 0h3m1 0h2m1 0h1m1 0h3m3 0h2m1 0h1m1 0h1m1 0h1m4 0h2m6 0h6m1 0h1m2 0h3m3 0h2m3 0h1m2 0h3m10 0h1m5 0h1m5 0h1m-109 1h2m2 0h1m6 0h8m3 0h1m1 0h1m1 0h3m1 0h1m1 0h7m1 0h2m1 0h2m1 0h9m1 0h3m1 0h1m1 0h1m2 0h1m1 0h4m2 0h1m1 0h2m2 0h2m4 0h1m3 0h1m1 0h1m-91 1h1m6 0h1m2 0h1m1 0h3m1 0h2m1 0h2m3 0h3m1 0h1m1 0h8m3 0h3m2 0h5m1 0h1m3 0h4m2 0h1m3 0h1m1 0h1m1 0h2m1 0h1m2 0h2m3 0h1m10 0h1m3 0h2m9 0h1m-109 1h1m2 0h1m1 0h4m1 0h2m2 0h2m1 0h2m1 0h2m1 0h4m1 0h3m2 0h1m1 0h6m2 0h4m1 0h1m1 0h2m2 0h5m6 0h1m1 0h3m2 0h1m4 0h2m1 0h1m1 0h1m13 0h1m3 0h1m-103 1h1m3 0h1m2 0h1m1 0h1m1 0h6m1 0h3m1 0h3m1 0h3m1 0h1m1 0h4m1 0h3m1 0h3m3 0h5m1 0h9m1 0h1m1 0h2m5 0h1m2 0h1m2 0h1m2 0h2m8 0h1m3 0h1m5 0h1m61 0h1m-161 1h1m1 0h2m2 0h4m1 0h3m2 0h3m1 0h2m3 0h7m1 0h1m1 0h2m3 0h9m4 0h1m2 0h1m2 0h2m1 0h1m1 0h1m7 0h2m1 0h1m3 0h1m2 0h2m2 0h1m2 0h1m1 0h1m22 0h1m-120 1h2m2 0h1m2 0h3m1 0h5m1 0h1m2 0h3m4 0h6m2 0h2m1 0h2m1 0h1m2 0h1m1 0h3m3 0h6m1 0h1m1 0h1m1 0h6m2 0h2m6 0h2m1 0h1m1 0h1m3 0h1m35 0h1m4 0h1m-123 1h4m1 0h3m1 0h2m4 0h1m1 0h1m1 0h4m1 0h1m2 0h1m1 0h2m1 0h3m1 0h4m1 0h2m1 0h2m1 0h4m3 0h3m3 0h1m3 0h2m4 0h2m5 0h1m9 0h1m17 0h1m1 0h1m-109 1h1m1 0h2m3 0h2m1 0h1m2 0h1m1 0h1m3 0h3m1 0h1m1 0h1m1 0h3m2 0h1m4 0h4m1 0h8m1 0h4m1 0h1m3 0h1m1 0h6m1 0h1m1 0h3m2 0h1m1 0h1m3 0h1m2 0h1m2 0h1m3 0h2m5 0h1m-104 1h1m1 0h1m8 0h4m1 0h1m3 0h1m1 0h1m1 0h10m2 0h3m2 0h1m1 0h1m1 0h4m3 0h1m1 0h4m1 0h1m1 0h3m2 0h1m4 0h1m8 0h1m2 0h1m10 0h1m-90 1h1m3 0h1m2 0h1m2 0h1m3 0h4m1 0h2m1 0h5m1 0h5m1 0h3m1 0h1m1 0h1m3 0h1m1 0h6m2 0h1m1 0h1m2 0h2m2 0h3m3 0h2m1 0h2m12 0h1m4 0h1m10 0h1m48 0h1m-156 1h1m9 0h7m1 0h1m1 0h2m1 0h6m1 0h2m2 0h4m1 0h1m1 0h2m2 0h2m2 0h4m3 0h1m3 0h5m1 0h2m1 0h1m2 0h1m3 0h1m1 0h1m6 0h1m3 0h1m3 0h1m3 0h1m-94 1h1m2 0h3m3 0h3m3 0h4m1 0h1m1 0h3m2 0h4m1 0h3m1 0h1m2 0h3m1 0h2m3 0h5m5 0h1m1 0h1m1 0h1m3 0h1m21 0h1m-101 1h1m9 0h1m4 0h2m1 0h4m1 0h3m6 0h3m1 0h8m1 0h9m1 0h7m6 0h1m1 0h2m5 0h1m1 0h3m2 0h1m1 0h1m2 0h1m9 0h1m-95 1h1m6 0h1m9 0h1m1 0h1m1 0h1m1 0h2m2 0h1m1 0h1m1 0h3m1 0h3m1 0h1m1 0h2m1 0h5m1 0h1m2 0h4m2 0h2m2 0h1m1 0h1m3 0h1m1 0h2m1 0h1m2 0h1m6 0h1m7 0h1m12 0h1m-96 1h2m1 0h1m2 0h2m2 0h1m2 0h2m1 0h3m1 0h1m1 0h1m1 0h1m1 0h2m2 0h2m1 0h2m1 0h3m1 0h1m1 0h1m1 0h1m3 0h2m2 0h1m1 0h1m1 0h1m3 0h2m12 0h1m42 0h1m-124 1h1m1 0h3m2 0h1m2 0h2m4 0h3m3 0h2m2 0h2m1 0h3m2 0h2m2 0h2m1 0h1m1 0h1m1 0h1m1 0h3m1 0h1m2 0h2m3 0h1m5 0h1m5 0h1m8 0h1m6 0h1m-85 1h1m12 0h1m3 0h5m3 0h4m2 0h2m4 0h1m1 0h2m1 0h4m1 0h1m1 0h1m2 0h2m9 0h2m7 0h1m3 0h1m-76 1h1m7 0h1m1 0h1m1 0h5m2 0h2m1 0h6m1 0h1m1 0h1m2 0h1m2 0h1m1 0h2m3 0h3m2 0h1m2 0h1m5 0h3m1 0h1m1 0h1m1 0h1m1 0h1m3 0h2m-82 1h1m3 0h1m2 0h1m7 0h2m2 0h3m4 0h2m2 0h1m2 0h2m6 0h4m2 0h1m1 0h4m1 0h2m3 0h1m1 0h1m5 0h1m2 0h1m1 0h1m9 0h1m2 0h1m9 0h1m4 0h1m-100 1h1m2 0h1m8 0h3m1 0h5m3 0h3m2 0h6m1 0h1m1 0h1m3 0h3m1 0h1m1 0h1m2 0h1m4 0h1m3 0h1m6 0h1m10 0h1m15 0h1m-85 1h1m1 0h1m3 0h1m1 0h1m1 0h1m1 0h1m2 0h1m1 0h5m2 0h1m2 0h1m2 0h1m1 0h1m4 0h2m3 0h4m2 0h2m2 0h2m2 0h1m7 0h1m2 0h1m2 0h1m-84 1h1m11 0h1m3 0h2m5 0h1m2 0h4m2 0h1m4 0h2m2 0h1m5 0h2m5 0h2m4 0h1m2 0h1m7 0h1m1 0h1m5 0h1m14 0h1m2 0h1m-83 1h1m1 0h1m5 0h1m8 0h1m2 0h1m1 0h2m3 0h2m7 0h2m1 0h2m2 0h1m2 0h3m4 0h1m6 0h1m-73 1h1m4 0h1m1 0h1m8 0h1m1 0h1m1 0h1m7 0h3m3 0h1m1 0h1m1 0h6m2 0h1m2 0h1m1 0h1m1 0h1m12 0h2m88 0h1m-159 1h1m19 0h1m1 0h1m1 0h1m4 0h1m1 0h2m2 0h2m1 0h1m3 0h1m2 0h3m2 0h3m3 0h1m1 0h1m1 0h1m1 0h1m8 0h1m8 0h1m-73 1h2m7 0h2m4 0h2m1 0h1m2 0h1m4 0h1m2 0h2m2 0h1m1 0h2m4 0h4m2 0h1m2 0h1m1 0h1m3 0h1m3 0h1m2 0h1m13 0h1m14 0h1m-88 1h1m6 0h2m1 0h1m4 0h1m4 0h1m4 0h1m2 0h1m2 0h1m5 0h1m7 0h1m1 0h1m1 0h2m1 0h1m22 0h1m-82 1h1m5 0h1m8 0h1m3 0h1m4 0h1m1 0h1m3 0h1m2 0h3m2 0h1m3 0h4m5 0h1m3 0h1m1 0h1m4 0h1m9 0h1m33 0h1m-116 1h1m6 0h1m8 0h1m4 0h1m4 0h1m1 0h1m2 0h1m13 0h1m1 0h1m6 0h1m1 0h1m1 0h1m5 0h1m-50 1h1m4 0h1m4 0h1m6 0h1m1 0h1m1 0h3m1 0h1m6 0h3m1 0h1m3 0h2m1 0h2m4 0h1m5 0h1m7 0h1m-77 1h1m5 0h1m13 0h1m2 0h1m1 0h1m1 0h1m5 0h2m7 0h1m3 0h1m7 0h1m28 0h1m-83 1h1m8 0h1m6 0h1m11 0h3m1 0h1m5 0h1m5 0h1m2 0h1m11 0h1m1 0h1m9 0h1m13 0h1m23 0h1m-102 1h1m3 0h1m8 0h2m6 0h1m6 0h1m6 0h1m17 0h1m-51 1h2m6 0h1m2 0h1m4 0h1m14 0h1m3 0h1m4 0h1m54 0h1m-71 1h1m10 0h1m13 0h1m12 0h1m36 0h1m-101 1h1m12 0h2m8 0h2m1 0h1m2 0h1m6 0h2m2 0h1m5 0h1m49 0h1m-103 1h1m5 0h1m12 0h1m3 0h1m5 0h1m3 0h1m2 0h2m24 0h1m-53 1h1m2 0h2m13 0h1m10 0h1m8 0h1m18 0h1m-70 1h1m2 0h1m1 1h1m3 0h1m2 0h1m1 0h2m14 0h1m2 0h1m2 0h2m17 0h1m4 0h1m-37 1h1m10 0h1m6 0h1m1 0h1m1 0h1m-22 1h1m7 0h1m42 0h1m-86 1h1m24 0h1m18 0h2m-30 1h1m15 0h1m22 0h1m23 0h1m-67 1h1m1 0h1m5 0h1m5 0h1m13 0h1m5 0h1m-9 1h1m24 0h1m16 0h1m-55 1h1m15 0h1m-11 1h1m-16 1h1m9 0h1m1 1h1m71 0h1m-87 1h1m36 0h1m-52 1h1m129 0h1m-103 1h1m80 0h1m-95 1h1m74 0h1m-48 1h1m-4 1h1m-34 1h1m22 0h1m30 0h1m-62 1h1m26 0h1m10 0h1m22 0h1m-35 2h1m28 1h1m-24 1h1m-25 3h1m35 0h1m9 3h1m83 5h1m-110 6h1m-31 1h1m85 12h1m-18 4h1m-66 1h1" stroke="#000" stroke-width="1.1" fill="none" transform="translate(0.3 0.3)" opacity="0.9"/><path d="M649 360h1m31 0h1m-17 1h1m26 0h1m-19 1h1m-9 1h1m-22 1h1m32 0h1m-5 1h1m-31 1h1m14 0h1m-14 1h1m6 0h1m3 0h1m1 0h1m-28 1h1m2 1h1m44 0h1m-41 1h1m7 0h1m5 0h1m6 0h1m1 0h1m-22 1h1m6 0h1m1 0h1m8 0h1m9 0h1m-10 1h2m4 0h1m-24 1h1m11 0h1m-19 1h1m2 0h1m5 0h1m1 0h1m3 0h2m1 0h1m9 0h1m-28 1h1m10 0h1m5 0h1m2 0h1m2 0h2m-32 1h1m7 0h1m2 0h1m7 0h1m1 0h1m33 0h1m-43 1h1m11 0h1m4 0h1m2 0h1m-39 1h1m7 0h2m4 0h1m3 0h1m20 0h1m-35 1h2m5 0h1m8 0h3m5 0h1m3 0h2m4 0h1m2 0h1m-39 1h1m4 0h1m9 0h1m2 0h1m5 0h1m1 0h1m2 0h2m1 0h1m4 0h1m2 0h1m4 0h1m4 0h1m-53 1h1m3 0h1m6 0h1m2 0h1m2 0h1m1 0h1m2 0h1m3 0h1m8 0h2m-39 1h1m1 0h1m10 0h1m2 0h1m1 0h1m2 0h2m4 0h2m3 0h1m9 0h1m5 0h1m6 0h1m-45 1h1m1 0h2m2 0h1m1 0h1m1 0h3m1 0h1m1 0h1m2 0h1m1 0h1m3 0h1m4 0h2m-35 1h1m5 0h2m1 0h1m4 0h4m4 0h1m2 0h1m1 0h1m6 0h1m1 0h1m-38 1h1m1 0h1m6 0h1m3 0h1m1 0h3m1 0h1m-34 1h1m5 0h1m9 0h1m3 0h2m4 0h3m6 0h1m3 0h1m3 0h3m9 0h1m-49 1h1m5 0h1m3 0h1m8 0h1m1 0h3m2 0h1m3 0h2m2 0h1m1 0h1m7 0h1m10 0h1m-47 1h1m3 0h1m8 0h1m1 0h1m4 0h1m1 0h1m2 0h1m3 0h1m4 0h1m-44 1h1m2 0h1m1 0h2m2 0h1m5 0h1m1 0h1m4 0h1m1 0h2m1 0h1m2 0h1m2 0h1m4 0h1m4 0h1m12 0h1m-51 1h2m2 0h1m1 0h1m1 0h1m2 0h1m4 0h1m1 0h1m1 0h1m2 0h1m1 0h2m5 0h4m8 0h1m1 0h1m-55 1h1m7 0h1m5 0h1m1 0h1m1 0h1m1 0h1m1 0h1m1 0h1m1 0h1m1 0h3m4 0h1m4 0h1m1 0h1m2 0h1m6 0h1m-56 1h1m5 0h1m4 0h1m1 0h1m2 0h1m1 0h3m2 0h1m1 0h1m3 0h1m1 0h2m2 0h1m2 0h2m2 0h1m3 0h1m2 0h1m-42 1h4m2 0h1m3 0h2m1 0h1m3 0h2m1 0h1m4 0h2m1 0h1m1 0h2m1 0h3m2 0h1m3 0h2m5 0h1m-52 1h1m8 0h1m5 0h1m1 0h1m8 0h1m1 0h1m2 0h2m4 0h2m2 0h1m4 0h1m3 0h1m-56 1h1m2 0h1m1 0h1m2 0h1m1 0h1m3 0h1m1 0h2m1 0h2m2 0h1m1 0h1m1 0h1m1 0h1m3 0h5m4 0h2m2 0h1m2 0h1m4 0h1m-57 1h1m2 0h1m4 0h1m2 0h2m2 0h1m1 0h1m1 0h1m4 0h1m3 0h1m4 0h4m1 0h1m3 0h1m1 0h1m1 0h1m1 0h1m3 0h1m-51 1h1m3 0h1m2 0h1m2 0h1m1 0h4m1 0h1m1 0h1m4 0h1m1 0h6m1 0h3m2 0h1m2 0h2m3 0h1m25 0h1m-71 1h1m4 0h1m2 0h1m3 0h3m3 0h2m1 0h1m1 0h1m2 0h1m1 0h1m1 0h1m1 0h1m3 0h3m1 0h1m3 0h1m-49 1h1m7 0h3m1 0h1m2 0h1m1 0h1m1 0h1m2 0h3m6 0h1m5 0h2m2 0h4m3 0h1m3 0h1m5 0h1m18 0h1m-74 1h1m1 0h3m6 0h4m3 0h3m7 0h2m1 0h2m1 0h1m1 0h1m5 0h1m1 0h1m-51 1h1m2 0h1m3 0h3m2 0h1m7 0h2m2 0h1m1 0h1m1 0h1m1 0h1m1 0h1m4 0h4m8 0h2m4 0h1m1 0h1m1 0h1m-56 1h1m1 0h3m2 0h2m2 0h2m4 0h1m2 0h1m2 0h3m2 0h1m6 0h1m3 0h1m1 0h2m5 0h1m2 0h1m2 0h1m-51 1h2m1 0h1m2 0h1m1 0h1m2 0h1m3 0h2m3 0h1m2 0h2m1 0h1m1 0h2m1 0h3m1 0h3m10 0h1m-54 1h1m2 0h1m2 0h1m2 0h1m3 0h2m3 0h2m6 0h1m1 0h1m3 0h2m1 0h1m1 0h1m1 0h2m2 0h1m5 0h2m1 0h2m2 0h2m-58 1h1m8 0h1m9 0h1m1 0h1m1 0h2m1 0h2m1 0h2m1 0h1m2 0h4m2 0h1m-52 1h1m8 0h2m3 0h2m3 0h1m1 0h1m2 0h4m2 0h1m2 0h1m2 0h1m3 0h1m1 0h6m1 0h2m1 0h2m1 0h1m2 0h1m1 0h1m-61 1h1m6 0h1m5 0h1m4 0h2m4 0h2m5 0h3m1 0h3m1 0h2m3 0h1m3 0h3m5 0h2m7 0h1m-61 1h1m7 0h1m5 0h1m1 0h1m3 0h4m1 0h2m4 0h3m2 0h3m1 0h2m1 0h2m13 0h2m-53 1h1m2 0h2m1 0h1m1 0h1m5 0h2m2 0h2m3 0h3m1 0h3m1 0h3m1 0h1m3 0h3m5 0h1m12 0h1m-63 1h1m3 0h5m4 0h1m2 0h1m1 0h4m1 0h4m1 0h1m2 0h1m3 0h1m5 0h1m3 0h1m-48 1h1m4 0h1m4 0h4m1 0h1m3 0h4m2 0h1m1 0h2m2 0h6m5 0h3m7 0h1m1 0h1m13 0h1m-73 1h1m1 0h1m4 0h2m6 0h1m1 0h2m1 0h1m5 0h1m2 0h1m1 0h1m1 0h1m1 0h2m1 0h1m1 0h2m1 0h1m5 0h3m-60 1h1m5 0h1m2 0h1m10 0h1m1 0h2m1 0h1m5 0h1m1 0h1m1 0h1m4 0h1m1 0h1m2 0h3m1 0h1m5 0h1m1 0h1m3 0h1m1 0h1m4 0h2m-58 1h3m9 0h10m1 0h1m1 0h3m1 0h1m1 0h2m1 0h2m3 0h2m2 0h3m2 0h1m5 0h1m-61 1h1m1 0h1m2 0h1m1 0h1m2 0h2m2 0h1m3 0h1m4 0h1m1 0h1m1 0h2m2 0h3m3 0h1m3 0h3m1 0h2m3 0h1m1 0h1m1 0h1m24 0h1m-81 1h1m1 0h1m6 0h1m1 0h2m1 0h1m1 0h2m3 0h2m6 0h1m1 0h1m1 0h1m1 0h1m2 0h1m1 0h2m1 0h4m1 0h4m4 0h1m1 0h2m2 0h1m-67 1h2m5 0h2m4 0h2m2 0h2m4 0h1m1 0h1m1 0h2m6 0h1m1 0h2m1 0h1m1 0h1m8 0h1m1 0h1m3 0h1m10 0h1m-64 1h2m2 0h2m2 0h1m1 0h1m6 0h4m5 0h1m2 0h1m1 0h1m2 0h3m2 0h1m1 0h1m1 0h3m1 0h2m2 0h1m-51 1h1m5 0h1m1 0h1m2 0h3m1 0h1m4 0h1m1 0h1m3 0h3m1 0h2m1 0h3m1 0h1m2 0h1m2 0h1m1 0h2m1 0h1m2 0h3m4 0h1m2 0h1m-61 1h4m4 0h3m1 0h1m1 0h1m1 0h1m5 0h1m2 0h4m1 0h4m1 0h1m1 0h1m9 0h1m13 0h1m2 0h1m-68 1h2m3 0h1m1 0h1m1 0h1m2 0h1m1 0h1m2 0h2m4 0h1m1 0h2m2 0h1m2 0h2m5 0h1m1 0h4m1 0h2m3 0h1m5 0h1m-67 1h1m6 0h3m5 0h1m3 0h3m2 0h1m3 0h1m2 0h1m1 0h2m1 0h1m2 0h1m2 0h1m1 0h1m2 0h1m3 0h2m3 0h1m1 0h1m3 0h1m1 0h1m-64 1h1m5 0h1m1 0h6m2 0h2m3 0h1m1 0h3m1 0h6m1 0h2m6 0h1m1 0h1m1 0h1m3 0h2m3 0h1m3 0h1m5 0h1m5 0h1m1 0h1m-70 1h1m2 0h4m1 0h1m2 0h2m2 0h1m3 0h3m1 0h1m1 0h1m2 0h1m2 0h1m8 0h1m1 0h1m2 0h1m3 0h2m4 0h2m-79 1h1m18 0h1m2 0h1m5 0h1m2 0h1m6 0h3m3 0h2m1 0h1m1 0h3m1 0h2m2 0h1m1 0h2m2 0h1m2 0h3m1 0h1m2 0h1m2 0h2m1 0h1m2 0h1m1 0h1m6 0h1m23 0h1m-87 1h2m1 0h1m1 0h2m1 0h1m3 0h2m2 0h1m2 0h1m2 0h5m1 0h2m1 0h10m4 0h1m4 0h1m37 0h1m-100 1h1m4 0h1m1 0h1m4 0h1m3 0h2m1 0h1m1 0h1m1 0h1m1 0h1m1 0h3m1 0h2m3 0h2m4 0h1m2 0h1m1 0h1m4 0h1m1 0h1m2 0h3m9 0h1m-65 1h2m1 0h1m1 0h2m1 0h3m2 0h2m2 0h2m1 0h1m4 0h1m1 0h4m1 0h1m1 0h3m2 0h1m1 0h1m9 0h1m3 0h1m3 0h1m-71 1h1m4 0h1m6 0h1m4 0h1m3 0h2m2 0h1m4 0h1m1 0h7m1 0h2m1 0h3m3 0h3m1 0h1m1 0h1m1 0h1m6 0h1m5 0h1m17 0h1m-84 1h1m7 0h7m1 0h1m2 0h3m1 0h2m1 0h1m3 0h1m2 0h4m2 0h2m1 0h1m1 0h1m2 0h1m3 0h4m2 0h1m3 0h1m5 0h1m-59 1h1m1 0h3m1 0h2m6 0h1m1 0h3m1 0h1m2 0h2m4 0h6m1 0h3m1 0h2m3 0h3m6 0h1m-66 1h1m3 0h2m5 0h2m7 0h1m1 0h2m3 0h1m1 0h2m1 0h2m2 0h4m4 0h2m1 0h3m1 0h1m3 0h1m3 0h1m-60 1h1m1 0h1m2 0h1m1 0h2m4 0h1m3 0h2m1 0h1m1 0h1m1 0h2m1 0h2m1 0h1m2 0h1m2 0h2m2 0h1m1 0h4m4 0h1m1 0h1m12 0h1m1 0h1m3 0h1m5 0h1m-74 1h1m1 0h2m1 0h2m4 0h1m4 0h4m1 0h1m4 0h1m4 0h1m2 0h1m8 0h2m1 0h1m1 0h1m1 0h1m2 0h1m4 0h1m1 0h1m-60 1h1m1 0h3m3 0h1m1 0h1m1 0h1m1 0h3m1 0h4m2 0h1m1 0h1m2 0h4m1 0h1m4 0h2m1 0h1m1 0h1m2 0h1m1 0h1m1 0h1m1 0h1m2 0h1m23 0h1m16 0h1m-99 1h1m2 0h1m1 0h1m2 0h2m2 0h1m1 0h4m1 0h3m3 0h1m3 0h2m1 0h1m1 0h1m2 0h4m7 0h1m2 0h2m1 0h1m12 0h1m-71 1h1m2 0h1m2 0h3m4 0h3m1 0h1m2 0h3m1 0h1m1 0h1m1 0h3m1 0h1m1 0h1m1 0h1m4 0h2m1 0h1m1 0h1m7 0h1m2 0h1m12 0h1m-74 1h1m2 0h1m3 0h1m2 0h3m1 0h1m2 0h2m1 0h5m2 0h2m1 0h1m1 0h2m1 0h1m1 0h1m2 0h1m1 0h3m1 0h1m1 0h1m12 0h2m4 0h1m2 0h1m13 0h1m-86 1h1m6 0h1m2 0h1m1 0h1m2 0h1m2 0h2m3 0h4m1 0h4m1 0h1m1 0h1m2 0h1m1 0h1m1 0h4m4 0h1m2 0h1m1 0h1m11 0h1m1 0h1m35 0h1m-102 1h2m9 0h1m1 0h1m1 0h1m3 0h1m1 0h4m1 0h2m2 0h1m3 0h2m1 0h4m2 0h1m1 0h1m3 0h2m3 0h1m18 0h1m19 0h1m-104 1h1m9 0h2m2 0h3m1 0h2m2 0h1m1 0h2m2 0h4m1 0h2m4 0h3m1 0h1m1 0h3m6 0h5m2 0h1m5 0h2m2 0h1m-63 1h1m3 0h2m3 0h1m2 0h2m1 0h1m2 0h4m4 0h3m1 0h2m1 0h2m2 0h3m3 0h1m1 0h2m8 0h1m1 0h1m1 0h3m4 0h1m1 0h1m-76 1h1m7 0h1m3 0h1m2 0h1m1 0h2m1 0h4m2 0h1m2 0h1m2 0h2m2 0h2m3 0h1m2 0h1m2 0h4m1 0h2m2 0h1m2 0h4m1 0h1m2 0h1m3 0h1m12 0h1m-74 1h1m1 0h6m1 0h2m3 0h2m1 0h1m1 0h3m3 0h3m1 0h3m3 0h1m1 0h2m1 0h3m1 0h1m2 0h2m2 0h1m3 0h2m-67 1h1m3 0h1m1 0h2m4 0h6m1 0h4m1 0h3m1 0h4m1 0h1m1 0h2m1 0h2m3 0h3m1 0h6m1 0h1m1 0h2m2 0h1m1 0h1m-64 1h1m1 0h1m4 0h1m1 0h3m1 0h2m1 0h4m1 0h1m1 0h5m2 0h2m2 0h2m1 0h3m1 0h4m1 0h2m1 0h1m1 0h2m2 0h1m1 0h1m4 0h3m8 0h1m14 0h1m9 0h1m-91 1h1m2 0h1m1 0h3m2 0h1m2 0h3m3 0h1m2 0h4m1 0h2m1 0h2m1 0h1m1 0h4m2 0h1m2 0h1m1 0h1m1 0h2m1 0h2m1 0h2m7 0h1m11 0h1m-82 1h1m3 0h3m3 0h3m1 0h4m1 0h7m1 0h2m2 0h7m1 0h2m1 0h1m1 0h1m4 0h2m2 0h4m3 0h1m4 0h1m-67 1h1m2 0h1m1 0h1m1 0h2m6 0h1m3 0h1m3 0h3m1 0h1m1 0h1m2 0h1m1 0h1m2 0h3m3 0h2m3 0h1m2 0h5m3 0h2m4 0h1m7 0h1m-71 1h1m1 0h1m3 0h1m1 0h2m1 0h1m2 0h1m2 0h2m1 0h4m1 0h2m3 0h4m1 0h3m3 0h5m3 0h4m2 0h1m1 0h1m8 0h1m-72 1h2m1 0h1m1 0h1m1 0h1m1 0h4m1 0h2m1 0h5m1 0h1m1 0h19m5 0h1m3 0h1m5 0h2m1 0h1m1 0h1m1 0h1m1 0h2m9 0h1m6 0h1m-84 1h1m2 0h2m1 0h1m2 0h4m1 0h4m1 0h1m1 0h1m2 0h2m1 0h3m1 0h5m1 0h3m1 0h1m1 0h1m3 0h2m1 0h2m1 0h3m1 0h1m6 0h2m-64 1h1m1 0h1m1 0h2m1 0h8m1 0h3m1 0h14m1 0h1m1 0h4m1 0h7m2 0h1m3 0h2m9 0h2m1 0h1m14 0h1m-94 1h1m5 0h1m7 0h3m2 0h7m1 0h3m1 0h14m1 0h1m1 0h2m3 0h1m2 0h2m1 0h1m3 0h1m1 0h1m9 0h1m8 0h1m20 0h1m-101 1h1m1 0h1m3 0h2m3 0h2m1 0h8m2 0h3m1 0h1m1 0h1m1 0h5m2 0h8m1 0h1m2 0h2m1 0h1m2 0h1m1 0h1m-62 1h4m2 0h2m1 0h1m2 0h3m1 0h6m1 0h5m1 0h1m1 0h1m1 0h3m1 0h1m1 0h6m4 0h1m1 0h1m4 0h2m13 0h1m-68 1h1m1 0h2m1 0h1m1 0h4m2 0h2m1 0h1m1 0h1m1 0h10m1 0h6m1 0h4m2 0h2m2 0h1m2 0h2m1 0h1m9 0h1m37 0h1m-105 1h1m2 0h1m1 0h4m1 0h2m1 0h4m1 0h8m1 0h4m2 0h1m1 0h1m1 0h3m1 0h1m1 0h3m2 0h2m2 0h2m5 0h2m2 0h1m1 0h1m3 0h1m2 0h1m6 0h1m3 0h1m14 0h1m-102 1h1m4 0h1m1 0h1m3 0h8m1 0h3m1 0h2m1 0h3m1 0h1m1 0h6m2 0h4m1 0h1m1 0h3m2 0h2m5 0h2m-62 1h1m2 0h1m1 0h1m1 0h1m2 0h3m1 0h1m3 0h6m1 0h1m1 0h6m1 0h3m1 0h1m1 0h1m1 0h3m1 0h1m2 0h1m4 0h1m1 0h1m4 0h1m1 0h1m1 0h2m5 0h1m3 0h1m-73 1h3m3 0h2m1 0h2m1 0h3m2 0h1m1 0h2m2 0h6m2 0h3m1 0h4m2 0h1m1 0h1m2 0h1m1 0h2m2 0h1m2 0h1m1 0h2m4 0h1m1 0h1m6 0h1m11 0h1m1 0h1m-95 1h1m4 0h1m1 0h2m2 0h4m1 0h3m1 0h1m1 0h6m1 0h14m1 0h2m2 0h1m2 0h2m2 0h3m2 0h3m1 0h1m1 0h2m12 0h1m-77 1h2m2 0h1m1 0h5m2 0h2m2 0h11m2 0h2m1 0h1m1 0h2m1 0h2m1 0h2m1 0h4m1 0h3m2 0h2m2 0h1m2 0h1m8 0h1m10 0h1m7 0h1m-89 1h2m2 0h3m1 0h1m2 0h3m1 0h7m1 0h8m1 0h4m2 0h2m3 0h2m5 0h1m2 0h1m1 0h3m2 0h1m1 0h1m20 0h1m-84 1h1m7 0h11m1 0h8m1 0h4m1 0h7m2 0h6m2 0h2m2 0h1m2 0h2m1 0h2m1 0h1m10 0h1m6 0h1m4 0h1m14 0h1m-101 1h1m1 0h2m2 0h4m1 0h2m1 0h6m1 0h2m1 0h2m1 0h4m2 0h11m2 0h4m1 0h1m16 0h1m12 0h1m-81 1h2m1 0h2m2 0h5m1 0h1m1 0h6m1 0h2m1 0h7m3 0h1m1 0h4m2 0h1m1 0h2m2 0h3m3 0h2m2 0h2m2 0h2m4 0h1m43 0h1m-118 1h1m3 0h2m2 0h2m1 0h5m1 0h3m1 0h10m1 0h12m2 0h2m1 0h1m4 0h1m1 0h1m2 0h1m7 0h2m2 0h1m16 0h1m-93 1h1m3 0h1m5 0h1m1 0h2m1 0h1m1 0h8m2 0h1m2 0h1m1 0h6m2 0h6m1 0h3m1 0h1m1 0h2m4 0h1m1 0h1m8 0h1m-76 1h1m5 0h1m1 0h2m4 0h1m1 0h5m1 0h10m2 0h3m2 0h3m2 0h5m1 0h1m2 0h3m2 0h1m4 0h3m1 0h1m8 0h1m22 0h1m-99 1h1m4 0h5m1 0h1m1 0h1m1 0h1m1 0h1m2 0h1m1 0h1m1 0h3m1 0h2m1 0h3m1 0h3m1 0h6m1 0h4m1 0h1m8 0h3m4 0h1m6 0h1m1 0h2m2 0h1m17 0h1m1 0h1m-92 1h1m3 0h1m1 0h2m1 0h2m2 0h21m1 0h7m1 0h4m1 0h3m4 0h1m7 0h1m4 0h1m7 0h3m2 0h1m-82 1h1m2 0h1m1 0h4m1 0h4m2 0h16m1 0h12m1 0h2m1 0h5m2 0h1m1 0h2m8 0h1m6 0h1m6 0h1m6 0h1m17 0h1m4 0h1m-120 1h1m4 0h5m1 0h2m3 0h3m1 0h3m2 0h1m1 0h1m1 0h1m1 0h4m1 0h9m1 0h7m1 0h1m2 0h1m1 0h2m1 0h1m7 0h1m18 0h1m-89 1h1m4 0h5m3 0h1m2 0h3m1 0h1m2 0h1m1 0h1m1 0h6m1 0h2m2 0h4m2 0h1m2 0h1m1 0h2m1 0h1m1 0h3m6 0h2m17 0h1m-87 1h1m1 0h1m5 0h2m1 0h1m1 0h1m1 0h10m1 0h3m1 0h9m1 0h3m1 0h1m2 0h1m1 0h4m2 0h1m3 0h1m4 0h1m4 0h2m1 0h1m10 0h1m-80 1h6m1 0h2m1 0h4m1 0h11m1 0h5m1 0h3m1 0h3m1 0h7m1 0h1m1 0h2m1 0h1m3 0h3m2 0h1m2 0h2m2 0h2m3 0h1m1 0h1m3 0h1m2 0h1m-89 1h1m5 0h1m5 0h4m1 0h9m1 0h5m1 0h4m1 0h1m2 0h2m1 0h3m1 0h2m2 0h3m2 0h6m2 0h2m2 0h1m2 0h1m18 0h1m3 0h1m-92 1h1m2 0h3m1 0h2m1 0h1m1 0h1m1 0h2m2 0h4m3 0h1m1 0h3m1 0h10m1 0h5m1 0h1m2 0h4m7 0h1m1 0h1m1 0h2m6 0h1m-74 1h4m1 0h1m1 0h2m1 0h2m1 0h2m1 0h3m1 0h7m2 0h11m1 0h5m1 0h2m2 0h3m8 0h1m7 0h1m13 0h1m8 0h1m-98 1h1m1 0h1m2 0h1m1 0h3m1 0h1m1 0h3m3 0h6m1 0h1m1 0h1m1 0h9m1 0h5m2 0h3m1 0h1m5 0h2m2 0h1m3 0h1m14 0h1m2 0h1m-83 1h2m1 0h1m2 0h1m1 0h1m2 0h1m1 0h3m1 0h1m3 0h2m1 0h4m1 0h2m1 0h6m1 0h1m1 0h2m1 0h3m3 0h2m1 0h1m4 0h1m3 0h1m1 0h1m4 0h1m10 0h2m-81 1h1m3 0h3m3 0h1m1 0h10m1 0h4m1 0h7m1 0h2m2 0h2m2 0h1m1 0h1m3 0h1m1 0h1m1 0h1m2 0h3m1 0h1m1 0h1m8 0h1m-76 1h1m5 0h4m1 0h1m3 0h3m1 0h2m1 0h4m1 0h1m1 0h1m5 0h1m1 0h6m1 0h1m3 0h1m2 0h1m2 0h1m1 0h1m3 0h4m4 0h1m1 0h1m1 0h1m-71 1h1m3 0h4m1 0h9m1 0h8m1 0h5m1 0h1m2 0h2m1 0h2m1 0h7m1 0h2m2 0h1m3 0h1m1 0h1m27 0h2m-94 1h1m5 0h3m1 0h1m2 0h1m2 0h1m2 0h7m1 0h3m2 0h6m1 0h1m2 0h2m1 0h3m6 0h1m1 0h1m1 0h2m5 0h1m6 0h1m3 0h1m6 0h1m-88 1h1m7 0h1m4 0h1m3 0h3m1 0h5m2 0h1m1 0h5m1 0h3m1 0h3m2 0h1m1 0h5m2 0h3m1 0h3m1 0h1m1 0h1m2 0h1m1 0h1m3 0h1m4 0h1m10 0h1m-85 1h1m3 0h2m3 0h3m1 0h9m1 0h3m1 0h7m1 0h2m1 0h5m2 0h1m2 0h1m1 0h2m4 0h1m5 0h1m9 0h1m1 0h1m10 0h1m5 0h1m-89 1h1m2 0h2m1 0h2m1 0h2m2 0h11m1 0h2m1 0h15m2 0h1m2 0h2m2 0h3m38 0h1m-98 1h2m1 0h1m2 0h4m1 0h3m2 0h6m1 0h1m1 0h2m1 0h2m6 0h2m1 0h2m1 0h1m1 0h5m2 0h1m3 0h1m2 0h1m4 0h1m4 0h1m5 0h1m7 0h1m-83 1h1m3 0h3m2 0h1m1 0h6m3 0h9m3 0h9m2 0h5m2 0h2m1 0h6m7 0h2m12 0h1m4 0h1m18 0h1m-108 1h1m1 0h1m3 0h1m1 0h1m2 0h1m1 0h2m1 0h6m1 0h3m1 0h1m1 0h2m1 0h1m2 0h3m1 0h1m2 0h3m3 0h1m1 0h1m2 0h2m5 0h3m6 0h1m1 0h2m4 0h1m-75 1h1m3 0h4m1 0h5m1 0h2m1 0h3m1 0h2m1 0h5m1 0h2m1 0h4m1 0h2m1 0h3m1 0h3m1 0h1m1 0h3m4 0h1m6 0h1m48 0h1m-121 1h1m3 0h1m5 0h6m1 0h2m1 0h1m2 0h1m1 0h4m1 0h2m3 0h6m1 0h3m1 0h2m1 0h5m5 0h1m4 0h1m5 0h1m2 0h1m13 0h1m6 0h1m-89 1h4m1 0h1m2 0h3m1 0h3m1 0h2m3 0h1m2 0h2m1 0h4m1 0h1m3 0h2m1 0h2m2 0h8m5 0h1m9 0h1m1 0h1m14 0h1m2 0h1m-95 1h2m3 0h1m6 0h1m1 0h2m1 0h1m1 0h3m1 0h1m1 0h1m1 0h1m2 0h2m1 0h2m1 0h5m1 0h1m1 0h4m1 0h2m4 0h3m10 0h1m30 0h1m-89 1h3m2 0h2m1 0h5m1 0h3m1 0h5m2 0h4m1 0h3m1 0h1m2 0h1m2 0h3m2 0h1m2 0h1m3 0h1m11 0h1m17 0h1m38 0h1m-127 1h3m6 0h1m3 0h6m1 0h6m1 0h2m3 0h3m1 0h1m4 0h1m3 0h2m2 0h1m10 0h2m2 0h1m1 0h1m21 0h1m-85 1h1m1 0h1m3 0h1m1 0h12m1 0h5m1 0h1m1 0h1m2 0h2m1 0h2m1 0h2m2 0h1m3 0h2m2 0h1m1 0h1m6 0h1m3 0h1m-71 1h1m3 0h1m1 0h2m2 0h3m1 0h5m3 0h4m1 0h5m2 0h3m3 0h1m1 0h5m2 0h1m1 0h3m10 0h5m-65 1h2m1 0h2m1 0h1m3 0h2m1 0h2m1 0h1m1 0h4m1 0h1m2 0h4m1 0h3m2 0h2m2 0h8m5 0h1m1 0h1m5 0h1m12 0h1m9 0h1m-88 1h1m2 0h1m1 0h1m1 0h2m2 0h2m1 0h1m1 0h3m1 0h2m2 0h2m2 0h1m1 0h1m1 0h1m1 0h1m1 0h1m1 0h5m2 0h4m1 0h1m3 0h1m2 0h2m2 0h1m4 0h2m18 0h1m-85 1h1m2 0h1m2 0h1m1 0h2m4 0h1m1 0h4m1 0h3m2 0h1m1 0h1m2 0h1m1 0h3m1 0h3m1 0h1m1 0h1m1 0h1m1 0h7m3 0h1m3 0h1m9 0h1m27 0h1m12 0h1m-110 1h1m1 0h1m1 0h5m6 0h2m3 0h2m2 0h3m2 0h3m1 0h3m9 0h1m3 0h2m29 0h1m14 0h1m9 0h1m-119 1h1m8 0h1m3 0h2m2 0h4m1 0h1m1 0h4m2 0h2m3 0h1m1 0h2m1 0h3m1 0h1m1 0h1m6 0h1m1 0h1m1 0h2m1 0h1m1 0h1m1 0h1m8 0h1m8 0h1m8 0h1m1 0h1m-84 1h2m1 0h1m2 0h3m1 0h3m1 0h1m1 0h1m1 0h1m1 0h5m1 0h7m2 0h1m1 0h1m1 0h1m1 0h2m2 0h2m2 0h1m2 0h2m1 0h1m4 0h1m46 0h1m-107 1h1m1 0h6m1 0h4m2 0h1m3 0h1m2 0h4m2 0h3m2 0h4m2 0h1m4 0h1m6 0h1m6 0h1m13 0h1m3 0h1m-80 1h1m5 0h1m1 0h1m2 0h1m3 0h1m1 0h3m1 0h1m1 0h2m2 0h3m1 0h1m4 0h1m1 0h1m1 0h2m1 0h2m1 0h1m1 0h1m4 0h1m2 0h1m26 0h1m-82 1h1m1 0h1m4 0h1m1 0h1m1 0h2m1 0h7m1 0h1m1 0h3m1 0h2m5 0h1m1 0h1m2 0h1m5 0h1m6 0h1m1 0h1m2 0h2m2 0h1m-64 1h1m3 0h2m4 0h2m2 0h1m1 0h2m3 0h3m4 0h4m10 0h1m2 0h1m3 0h1m1 0h1m16 0h1m5 0h1m10 0h1m-80 1h1m2 0h1m2 0h1m1 0h3m2 0h1m2 0h1m1 0h1m1 0h2m2 0h2m2 0h1m7 0h1m1 0h1m9 0h2m1 0h1m-58 1h1m2 0h3m1 0h3m1 0h2m2 0h1m1 0h1m3 0h1m1 0h3m1 0h4m1 0h1m1 0h1m1 0h1m1 0h1m5 0h1m2 0h3m1 0h1m7 0h1m-68 1h1m3 0h1m1 0h2m2 0h2m2 0h1m2 0h1m2 0h5m1 0h1m2 0h2m3 0h1m3 0h3m2 0h2m4 0h3m-47 1h2m1 0h3m4 0h1m1 0h1m2 0h1m2 0h1m2 0h1m1 0h3m2 0h1m5 0h1m1 0h3m1 0h1m1 0h2m2 0h2m1 0h1m4 0h1m13 0h1m4 0h1m27 0h1m-91 1h2m2 0h3m1 0h1m3 0h1m1 0h2m4 0h2m1 0h1m2 0h2m2 0h2m1 0h1m1 0h1m2 0h1m2 0h1m4 0h1m61 0h1m-119 1h1m3 0h1m5 0h2m1 0h1m1 0h4m5 0h2m2 0h1m1 0h1m1 0h1m1 0h1m3 0h1m17 0h1m14 0h1m12 0h1m-81 1h1m4 0h3m2 0h1m4 0h1m1 0h1m1 0h1m1 0h3m1 0h2m2 0h2m2 0h1m1 0h1m2 0h2m4 0h1m29 0h1m-84 1h1m12 0h2m2 0h1m1 0h2m5 0h1m1 0h4m1 0h1m4 0h1m2 0h1m1 0h1m15 0h1m-61 1h1m3 0h1m1 0h1m2 0h1m2 0h5m3 0h1m1 0h1m4 0h2m1 0h1m5 0h2m2 0h1m3 0h1m2 0h1m3 0h2m4 0h2m2 0h1m14 0h1m43 0h1m-115 1h1m4 0h1m1 0h2m5 0h3m1 0h2m1 0h1m1 0h2m4 0h1m1 0h1m8 0h1m10 0h1m13 0h1m2 0h2m-71 1h1m10 0h1m2 0h2m5 0h1m1 0h4m1 0h2m3 0h1m4 0h3m1 0h1m14 0h1m4 0h1m4 0h1m2 0h1m22 0h1m26 0h1m-115 1h1m3 0h1m1 0h1m1 0h1m2 0h3m2 0h1m11 0h3m3 0h1m6 0h2m4 0h1m3 0h1m37 0h1m-85 1h1m1 0h1m1 0h2m7 0h1m2 0h1m3 0h1m2 0h1m9 0h1m2 0h1m8 0h1m1 0h1m3 0h1m-52 1h3m2 0h1m3 0h1m1 0h2m1 0h1m1 0h3m1 0h1m1 0h6m6 0h2m3 0h1m4 0h1m69 0h1m-124 1h1m3 0h1m2 0h2m2 0h2m2 0h1m1 0h2m7 0h1m6 0h1m7 0h1m-38 1h1m2 0h1m1 0h1m4 0h2m2 0h1m3 0h1m5 0h1m3 0h1m-31 1h1m4 0h1m9 0h2m4 0h1m5 0h1m1 0h3m8 0h1m4 0h1m-50 1h1m9 0h1m4 0h1m2 0h1m5 0h2m1 0h1m2 0h1m4 0h1m1 0h3m4 0h1m-44 1h1m5 0h1m11 0h3m21 0h2m-37 1h1m2 0h1m7 0h2m1 0h2m4 0h1m1 0h1m4 0h1m2 0h2m24 0h1m54 0h1m-135 1h1m11 0h1m2 0h1m14 0h3m9 0h1m50 0h1m-65 1h1m6 0h2m2 0h1m4 0h1m41 0h1m-58 1h1m2 0h1m1 0h1m2 0h1m9 0h1m-42 1h1m10 0h1m2 0h1m13 0h2m20 0h1m64 0h1m-100 1h2m5 0h1m4 0h1m5 0h1m9 0h1m3 0h1m23 0h1m-57 1h1m4 0h1m-8 1h1m3 0h1m7 0h1m5 0h1m1 0h2m7 0h1m1 0h1m51 0h1m-76 1h2m37 0h1m-62 1h1m20 0h1m6 0h1m5 0h1m-24 1h1m9 0h1m6 0h1m9 0h1m-32 1h1m27 0h1m7 0h1m14 0h1m-15 1h1m-6 1h2m12 0h1m-14 1h2m7 0h1m17 0h1m-56 1h1m10 0h1m38 0h1m-25 1h1m-15 1h1m10 0h1m2 1h1m-25 1h1m-11 1h1m61 1h1m-4 5h1m-66 7h1m41 3h1m52 3h1m-98 3h1" stroke="#000" stroke-width="1.1" fill="none" transform="translate(0.3 0.3)" opacity="0.9"/><path d="M1010 346h1m-5 8h1m-8 14h1m27 4h1m-29 5h1m29 3h1m-16 3h1m-13 4h1m-15 1h1m1 0h1m7 1h1m3 1h1m-10 1h1m6 0h1m-18 1h1m8 0h2m5 2h1m24 1h1m-43 1h2m12 0h1m-7 2h1m31 1h1m-35 2h1m16 0h1m22 0h1m-41 1h1m-2 1h1m8 0h1m-12 1h1m32 0h1m-54 1h1m7 0h1m28 2h1m6 0h1m-40 1h1m8 0h1m5 0h2m7 0h1m2 0h1m12 0h1m-12 1h1m1 0h1m-25 1h2m16 0h1m-26 1h1m7 0h2m-2 1h1m7 0h1m2 0h2m4 0h1m1 0h2m-32 1h1m1 0h1m15 0h1m3 0h1m9 0h1m-20 1h2m5 0h2m10 0h1m-29 1h1m10 0h1m3 0h1m1 0h1m10 0h1m-38 1h1m13 0h1m3 0h1m1 0h1m1 0h1m3 0h2m7 0h1m-40 1h1m8 0h1m6 0h1m6 0h1m6 0h1m24 0h1m-44 1h1m10 0h1m5 0h1m3 0h3m2 0h1m15 0h1m-54 1h1m12 0h2m3 0h1m4 0h2m3 0h1m30 0h1m-51 1h1m1 0h1m4 0h1m2 0h2m2 0h2m9 0h1m4 0h1m6 0h1m3 0h1m17 0h1m-65 1h1m4 0h2m1 0h3m3 0h1m1 0h1m8 0h1m2 0h1m3 0h1m4 0h1m1 0h1m4 0h1m-47 1h1m7 0h1m6 0h1m3 0h1m4 0h1m1 0h1m4 0h1m5 0h1m29 0h1m-64 1h2m5 0h1m4 0h1m4 0h1m4 0h1m1 0h1m1 0h1m1 0h1m-32 1h1m4 0h2m8 0h1m4 0h1m1 0h1m2 0h1m1 0h1m4 0h1m19 0h1m5 0h1m-53 1h3m3 0h1m1 0h1m1 0h2m4 0h1m1 0h1m2 0h1m4 0h1m1 0h3m-36 1h1m3 0h2m1 0h1m2 0h1m2 0h1m2 0h3m1 0h2m3 0h3m3 0h1m4 0h1m6 0h1m-46 1h1m1 0h1m1 0h1m1 0h1m3 0h1m1 0h1m1 0h1m2 0h1m3 0h1m1 0h4m1 0h1m1 0h1m3 0h2m17 0h1m-54 1h1m4 0h1m1 0h2m1 0h2m4 0h1m3 0h1m2 0h1m13 0h1m1 0h1m9 0h1m3 0h1m-52 1h3m1 0h3m1 0h1m1 0h1m8 0h1m2 0h1m1 0h2m6 0h1m4 0h1m21 0h1m-65 1h4m2 0h3m1 0h1m2 0h1m3 0h1m2 0h2m2 0h1m2 0h3m9 0h1m3 0h1m5 0h1m-48 1h1m9 0h1m1 0h1m1 0h3m2 0h1m1 0h2m2 0h1m3 0h2m3 0h1m2 0h2m19 0h1m-65 1h1m5 0h1m2 0h2m6 0h1m7 0h2m4 0h1m1 0h1m1 0h2m2 0h1m8 0h1m-56 1h1m9 0h2m2 0h5m1 0h2m1 0h2m1 0h2m2 0h1m4 0h1m1 0h1m3 0h3m3 0h1m6 0h1m-53 1h1m9 0h1m2 0h2m1 0h1m1 0h2m4 0h3m4 0h2m4 0h2m2 0h2m1 0h1m1 0h1m-40 1h1m2 0h1m1 0h5m1 0h1m5 0h1m2 0h1m3 0h1m2 0h1m2 0h3m6 0h1m-46 1h1m6 0h3m2 0h1m1 0h1m1 0h1m1 0h2m4 0h1m1 0h1m1 0h1m1 0h1m-32 1h1m2 0h1m2 0h3m3 0h1m1 0h1m1 0h2m2 0h2m1 0h1m1 0h1m1 0h1m2 0h5m1 0h3m2 0h1m3 0h1m5 0h1m1 0h2m12 0h1m-66 1h2m5 0h1m1 0h1m1 0h1m1 0h3m1 0h2m1 0h1m3 0h3m1 0h3m2 0h1m1 0h2m2 0h2m8 0h1m-46 1h2m8 0h1m1 0h1m2 0h1m2 0h1m1 0h2m3 0h1m3 0h2m4 0h1m4 0h1m3 0h1m1 0h1m-56 1h2m3 0h1m8 0h3m1 0h1m1 0h1m2 0h1m2 0h1m1 0h2m1 0h2m5 0h1m2 0h1m2 0h2m9 0h1m3 0h1m2 0h1m-58 1h1m3 0h1m1 0h2m1 0h1m1 0h1m3 0h4m2 0h3m1 0h1m5 0h1m2 0h2m1 0h2m5 0h1m6 0h1m-57 1h1m4 0h1m1 0h1m1 0h2m7 0h2m1 0h5m1 0h1m2 0h3m1 0h1m3 0h1m4 0h3m7 0h2m15 0h2m-70 1h1m9 0h2m1 0h1m1 0h4m1 0h3m1 0h1m1 0h1m6 0h1m1 0h2m4 0h2m1 0h1m2 0h1m10 0h1m-65 1h1m12 0h1m1 0h1m5 0h1m1 0h1m1 0h3m1 0h3m1 0h2m4 0h1m1 0h2m3 0h1m2 0h1m1 0h1m1 0h1m9 0h1m1 0h1m-63 1h1m7 0h1m7 0h1m3 0h2m5 0h1m3 0h1m2 0h2m2 0h1m2 0h3m1 0h1m1 0h1m3 0h1m1 0h1m-55 1h1m4 0h1m3 0h1m1 0h1m2 0h3m1 0h3m1 0h2m1 0h2m3 0h1m1 0h1m1 0h2m1 0h1m1 0h1m1 0h2m4 0h1m4 0h1m3 0h1m21 0h1m-84 1h1m10 0h1m1 0h5m5 0h2m2 0h1m1 0h5m1 0h3m2 0h2m7 0h2m7 0h1m-58 1h1m4 0h5m10 0h5m2 0h6m1 0h1m1 0h2m1 0h1m2 0h3m2 0h3m2 0h1m3 0h2m1 0h1m21 0h1m-81 1h2m4 0h1m2 0h1m1 0h4m2 0h1m2 0h5m1 0h1m2 0h5m2 0h1m2 0h1m2 0h1m1 0h5m3 0h2m6 0h1m-56 1h1m2 0h4m1 0h1m2 0h1m1 0h3m1 0h1m1 0h1m2 0h1m1 0h4m3 0h2m1 0h2m5 0h1m13 0h1m6 0h2m7 0h1m-78 1h1m3 0h1m1 0h2m1 0h2m3 0h1m1 0h2m1 0h1m1 0h1m1 0h1m1 0h2m1 0h1m4 0h2m1 0h1m2 0h1m1 0h1m10 0h1m3 0h1m1 0h1m4 0h1m19 0h1m-79 1h1m1 0h1m2 0h1m1 0h1m1 0h2m1 0h1m1 0h2m3 0h5m4 0h1m1 0h1m4 0h1m1 0h3m2 0h2m5 0h1m3 0h1m1 0h1m-53 1h3m2 0h2m4 0h1m1 0h1m2 0h4m1 0h1m2 0h1m1 0h1m1 0h1m2 0h1m2 0h1m4 0h1m4 0h1m15 0h1m-66 1h1m2 0h3m1 0h3m1 0h2m3 0h1m1 0h1m2 0h2m1 0h1m1 0h4m1 0h1m1 0h1m1 0h2m13 0h1m5 0h1m-55 1h1m1 0h2m1 0h4m2 0h6m1 0h1m1 0h3m1 0h2m2 0h1m2 0h1m2 0h3m2 0h1m5 0h1m4 0h1m11 0h1m21 0h1m-90 1h1m2 0h1m2 0h3m1 0h4m1 0h2m1 0h1m4 0h1m1 0h1m1 0h2m2 0h2m1 0h1m2 0h1m4 0h2m1 0h1m3 0h1m-54 1h1m5 0h1m1 0h6m3 0h1m2 0h1m2 0h1m2 0h2m2 0h2m2 0h1m1 0h3m3 0h2m3 0h2m3 0h1m3 0h1m9 0h1m-63 1h1m3 0h4m1 0h1m1 0h1m3 0h2m1 0h3m1 0h1m4 0h1m1 0h2m1 0h1m1 0h2m2 0h3m3 0h1m1 0h1m1 0h1m3 0h2m1 0h1m1 0h3m9 0h1m9 0h1m1 0h1m-79 1h5m1 0h4m1 0h1m2 0h3m2 0h1m1 0h4m1 0h1m4 0h3m2 0h3m3 0h1m1 0h1m4 0h2m1 0h1m1 0h1m19 0h1m-80 1h1m1 0h1m3 0h2m1 0h3m1 0h4m1 0h6m1 0h1m2 0h1m1 0h1m2 0h3m1 0h2m3 0h2m2 0h4m11 0h1m10 0h1m1 0h1m-78 1h1m4 0h1m1 0h2m2 0h13m2 0h1m1 0h4m1 0h1m4 0h1m1 0h1m1 0h2m1 0h1m1 0h1m8 0h2m5 0h1m11 0h1m-71 1h2m2 0h5m2 0h2m2 0h4m2 0h2m5 0h6m1 0h1m1 0h1m1 0h1m8 0h2m3 0h1m3 0h3m9 0h1m-74 1h1m1 0h1m2 0h2m1 0h1m1 0h5m1 0h2m1 0h1m1 0h7m2 0h3m1 0h2m1 0h2m1 0h1m1 0h1m2 0h2m2 0h1m2 0h1m11 0h1m16 0h1m-84 1h2m1 0h1m1 0h1m1 0h1m1 0h3m1 0h8m1 0h6m1 0h5m2 0h1m1 0h1m1 0h1m1 0h1m2 0h1m2 0h2m1 0h2m-48 1h3m1 0h1m1 0h2m1 0h2m1 0h1m1 0h5m1 0h2m2 0h1m2 0h3m3 0h5m2 0h1m3 0h2m9 0h2m-63 1h2m2 0h2m1 0h1m1 0h2m1 0h3m1 0h6m1 0h7m2 0h1m1 0h4m1 0h4m1 0h1m2 0h2m2 0h1m3 0h1m3 0h1m1 0h1m-70 1h1m8 0h1m1 0h1m3 0h2m2 0h3m5 0h4m1 0h3m1 0h3m2 0h1m4 0h1m7 0h1m4 0h1m4 0h2m7 0h1m-65 1h1m1 0h9m1 0h1m1 0h5m1 0h3m1 0h1m1 0h1m1 0h2m1 0h3m1 0h1m1 0h1m2 0h1m1 0h2m1 0h2m-52 1h1m3 0h1m2 0h2m1 0h1m1 0h11m2 0h1m1 0h4m1 0h3m1 0h1m2 0h1m2 0h1m2 0h1m3 0h3m1 0h1m5 0h1m24 0h1m-84 1h1m3 0h2m4 0h2m1 0h1m1 0h2m1 0h1m4 0h8m3 0h1m1 0h3m2 0h1m4 0h1m2 0h3m2 0h1m5 0h1m1 0h1m2 0h1m7 0h2m17 0h1m-98 1h1m3 0h1m1 0h2m1 0h3m1 0h5m1 0h3m1 0h4m1 0h1m1 0h2m1 0h4m3 0h3m2 0h1m1 0h1m1 0h2m1 0h1m1 0h2m1 0h1m3 0h1m4 0h2m12 0h1m17 0h1m-90 1h1m1 0h1m1 0h1m2 0h2m1 0h6m1 0h6m1 0h2m5 0h3m1 0h3m4 0h4m4 0h1m4 0h1m-70 1h1m11 0h2m2 0h5m1 0h3m1 0h2m2 0h3m2 0h3m4 0h2m1 0h1m2 0h4m8 0h1m1 0h1m2 0h1m9 0h1m5 0h1m-82 1h1m3 0h2m3 0h2m3 0h1m1 0h5m1 0h5m1 0h1m1 0h5m1 0h2m1 0h1m2 0h2m1 0h2m4 0h3m2 0h1m2 0h1m12 0h1m5 0h1m15 0h1m-92 1h1m3 0h1m3 0h2m2 0h2m1 0h4m1 0h4m1 0h4m1 0h3m2 0h2m1 0h3m1 0h1m2 0h1m2 0h1m1 0h1m1 0h2m3 0h1m1 0h1m3 0h1m32 0h1m-93 1h1m5 0h2m2 0h5m2 0h3m1 0h1m1 0h3m1 0h3m1 0h1m1 0h1m1 0h6m1 0h1m2 0h1m1 0h1m5 0h1m4 0h1m14 0h2m3 0h1m-80 1h1m3 0h1m2 0h1m1 0h18m1 0h1m1 0h1m1 0h2m2 0h1m1 0h1m3 0h1m2 0h1m8 0h1m3 0h1m-65 1h1m4 0h1m4 0h4m2 0h1m1 0h3m1 0h2m3 0h15m2 0h2m1 0h2m1 0h1m2 0h1m3 0h1m1 0h2m1 0h1m6 0h1m5 0h1m32 0h1m-108 1h1m5 0h1m2 0h2m1 0h2m2 0h3m2 0h4m1 0h1m1 0h2m1 0h4m1 0h1m4 0h2m2 0h6m3 0h1m3 0h3m-58 1h1m2 0h3m1 0h4m1 0h10m4 0h1m1 0h5m1 0h1m1 0h6m1 0h5m18 0h1m1 0h1m-69 1h1m5 0h3m2 0h1m1 0h3m1 0h3m2 0h1m1 0h1m1 0h4m2 0h1m1 0h1m2 0h1m1 0h2m1 0h3m1 0h2m6 0h1m17 0h1m-77 1h1m3 0h1m2 0h1m1 0h6m1 0h1m2 0h3m1 0h3m2 0h3m1 0h1m2 0h7m2 0h2m4 0h1m1 0h2m9 0h1m3 0h1m25 0h1m7 0h1m-98 1h2m7 0h4m2 0h5m1 0h3m1 0h4m1 0h1m1 0h1m1 0h2m3 0h1m1 0h1m1 0h1m1 0h1m1 0h2m4 0h1m8 0h1m7 0h1m21 0h1m-93 1h1m2 0h3m2 0h5m1 0h5m2 0h4m1 0h2m1 0h1m1 0h2m1 0h1m3 0h1m1 0h1m2 0h1m3 0h1m20 0h1m10 0h1m-86 1h1m4 0h1m2 0h2m1 0h3m1 0h1m1 0h5m1 0h2m1 0h5m1 0h2m1 0h3m1 0h4m2 0h1m2 0h4m4 0h3m2 0h1m4 0h1m-65 1h1m2 0h2m2 0h1m2 0h1m2 0h5m1 0h2m1 0h1m1 0h1m2 0h4m1 0h3m3 0h3m1 0h1m1 0h2m1 0h3m6 0h1m10 0h1m-66 1h2m3 0h2m1 0h4m1 0h2m1 0h1m2 0h1m1 0h4m1 0h1m1 0h2m2 0h1m1 0h4m3 0h1m1 0h1m1 0h1m1 0h1m12 0h2m-61 1h2m1 0h2m1 0h3m4 0h1m2 0h2m1 0h15m2 0h2m1 0h1m1 0h1m6 0h1m17 0h1m-74 1h1m1 0h1m5 0h3m1 0h4m1 0h5m1 0h1m1 0h6m1 0h2m1 0h1m1 0h2m1 0h1m3 0h2m2 0h1m1 0h2m1 0h1m3 0h1m1 0h1m21 0h1m5 0h1m-81 1h1m1 0h5m1 0h2m1 0h1m2 0h5m1 0h1m1 0h1m1 0h1m1 0h6m3 0h2m1 0h1m1 0h1m1 0h1m2 0h1m3 0h1m14 0h1m-75 1h2m6 0h1m4 0h2m1 0h4m1 0h3m1 0h2m2 0h1m1 0h4m1 0h3m5 0h2m1 0h1m8 0h1m1 0h2m1 0h2m7 0h1m17 0h1m-79 1h2m2 0h1m1 0h1m1 0h2m1 0h5m1 0h3m1 0h3m4 0h2m2 0h1m1 0h1m1 0h1m1 0h3m2 0h1m2 0h1m4 0h1m1 0h1m1 0h1m14 0h1m-76 1h1m2 0h2m1 0h1m1 0h1m2 0h5m1 0h2m1 0h1m1 0h3m1 0h1m2 0h2m2 0h3m3 0h2m6 0h1m1 0h1m6 0h1m1 0h1m5 0h1m13 0h1m10 0h1m16 0h1m-106 1h1m1 0h1m1 0h1m1 0h1m1 0h3m1 0h7m1 0h1m2 0h6m1 0h4m1 0h3m2 0h4m4 0h2m3 0h1m3 0h2m4 0h1m2 0h1m2 0h1m-67 1h1m1 0h1m3 0h2m1 0h1m1 0h1m1 0h2m1 0h3m1 0h6m2 0h1m1 0h3m1 0h4m1 0h1m9 0h1m4 0h1m37 0h1m-103 1h1m6 0h1m2 0h2m1 0h8m1 0h6m1 0h1m1 0h2m2 0h2m2 0h6m1 0h1m1 0h1m1 0h1m1 0h1m6 0h1m1 0h1m13 0h1m4 0h1m23 0h1m-101 1h1m1 0h1m4 0h1m1 0h2m2 0h1m1 0h2m1 0h7m1 0h3m2 0h4m1 0h1m1 0h2m2 0h1m1 0h1m2 0h3m2 0h1m4 0h1m2 0h1m26 0h1m10 0h1m-100 1h1m1 0h1m4 0h2m1 0h1m1 0h5m1 0h3m1 0h7m4 0h1m1 0h3m2 0h1m3 0h1m5 0h1m4 0h3m6 0h2m4 0h1m-65 1h1m2 0h1m1 0h1m1 0h2m2 0h3m1 0h5m1 0h2m1 0h3m1 0h2m4 0h2m4 0h1m2 0h2m1 0h1m54 0h1m-107 1h1m1 0h1m2 0h4m2 0h1m1 0h3m1 0h4m2 0h1m1 0h3m1 0h5m5 0h2m2 0h1m1 0h1m7 0h1m5 0h2m1 0h1m6 0h1m2 0h1m-74 1h4m1 0h1m1 0h1m1 0h5m1 0h3m2 0h2m1 0h1m1 0h3m1 0h1m1 0h3m2 0h4m1 0h1m1 0h1m3 0h1m8 0h1m-62 1h1m4 0h1m3 0h2m1 0h1m1 0h2m1 0h12m1 0h1m3 0h2m1 0h1m1 0h2m4 0h1m3 0h2m2 0h1m4 0h1m3 0h1m45 0h1m-108 1h1m4 0h2m2 0h2m1 0h9m1 0h2m2 0h4m2 0h1m2 0h1m1 0h5m2 0h2m1 0h1m3 0h2m1 0h1m2 0h1m2 0h1m1 0h1m33 0h1m18 0h1m-110 1h1m5 0h1m1 0h2m3 0h1m3 0h1m1 0h1m2 0h4m1 0h2m1 0h2m1 0h1m2 0h2m2 0h2m5 0h1m1 0h1m4 0h1m-63 1h1m6 0h2m5 0h3m1 0h4m1 0h1m2 0h4m2 0h3m1 0h1m1 0h1m3 0h1m4 0h1m1 0h2m1 0h1m5 0h1m-58 1h1m2 0h1m1 0h1m1 0h1m1 0h1m2 0h1m3 0h3m2 0h4m1 0h11m1 0h2m1 0h1m1 0h1m2 0h3m4 0h2m9 0h1m2 0h1m18 0h1m13 0h1m-103 1h2m5 0h4m1 0h4m1 0h2m1 0h6m1 0h1m1 0h1m1 0h1m1 0h3m4 0h4m2 0h4m2 0h2m5 0h1m7 0h1m-66 1h1m2 0h1m3 0h1m1 0h3m2 0h1m1 0h6m1 0h1m2 0h3m4 0h2m1 0h2m1 0h1m3 0h3m3 0h2m1 0h1m3 0h1m1 0h1m-63 1h1m1 0h1m4 0h1m3 0h3m1 0h1m2 0h1m1 0h1m2 0h1m2 0h9m1 0h1m1 0h2m1 0h1m1 0h3m4 0h1m54 0h1m-105 1h1m2 0h1m3 0h1m3 0h2m4 0h2m1 0h2m1 0h1m1 0h5m3 0h7m2 0h1m1 0h1m3 0h2m2 0h1m1 0h1m9 0h1m47 0h1m-111 1h1m5 0h2m1 0h1m1 0h3m1 0h1m2 0h3m1 0h1m7 0h4m1 0h5m3 0h1m3 0h1m3 0h2m22 0h1m19 0h1m-96 1h1m1 0h4m1 0h2m1 0h2m1 0h3m1 0h1m1 0h1m1 0h3m1 0h2m1 0h4m1 0h2m1 0h2m1 0h2m3 0h1m1 0h1m3 0h1m5 0h2m7 0h1m-63 1h1m1 0h8m2 0h2m2 0h1m1 0h1m1 0h1m1 0h1m1 0h3m1 0h1m1 0h1m4 0h2m1 0h1m7 0h1m2 0h1m7 0h1m1 0h1m29 0h1m18 0h1m-114 1h1m2 0h1m1 0h4m1 0h1m1 0h1m2 0h1m1 0h1m1 0h2m1 0h1m1 0h2m1 0h1m1 0h1m3 0h2m2 0h1m8 0h1m2 0h1m2 0h1m2 0h1m50 0h1m-103 1h1m2 0h3m3 0h2m2 0h1m1 0h3m1 0h1m1 0h1m2 0h4m1 0h1m4 0h2m6 0h1m14 0h1m6 0h1m9 0h1m-73 1h1m2 0h1m1 0h2m2 0h1m4 0h1m1 0h1m1 0h1m2 0h1m1 0h1m1 0h3m4 0h1m1 0h4m10 0h1m5 0h1m4 0h1m-65 1h1m2 0h1m1 0h1m1 0h1m1 0h1m1 0h3m2 0h3m1 0h2m5 0h2m2 0h1m1 0h1m2 0h2m1 0h1m5 0h2m33 0h1m-84 1h1m4 0h1m2 0h1m3 0h2m1 0h1m2 0h2m1 0h1m2 0h1m1 0h1m1 0h3m1 0h2m5 0h1m2 0h1m4 0h1m16 0h1m-73 1h1m10 0h1m4 0h2m3 0h1m1 0h4m1 0h1m1 0h3m3 0h1m1 0h4m1 0h3m7 0h1m1 0h1m4 0h1m1 0h1m-57 1h1m3 0h1m5 0h1m1 0h3m2 0h1m1 0h4m2 0h2m1 0h2m5 0h1m2 0h1m2 0h1m3 0h2m9 0h1m-54 1h1m3 0h1m7 0h2m1 0h1m2 0h1m1 0h1m3 0h1m3 0h1m2 0h1m1 0h1m2 0h2m2 0h1m4 0h2m8 0h1m17 0h1m-75 1h1m3 0h1m2 0h4m3 0h4m2 0h2m1 0h1m1 0h1m1 0h3m4 0h1m4 0h4m7 0h1m18 0h1m1 0h1m11 0h1m17 0h1m1 0h1m-108 1h1m9 0h1m5 0h1m2 0h1m2 0h2m1 0h6m2 0h1m5 0h1m2 0h1m3 0h1m2 0h1m2 0h1m-43 1h1m1 0h1m7 0h2m2 0h4m1 0h3m1 0h1m3 0h1m1 0h1m1 0h2m4 0h2m3 0h1m21 0h1m-73 1h1m1 0h2m2 0h1m5 0h2m1 0h1m3 0h1m3 0h1m1 0h1m1 0h1m1 0h2m4 0h1m16 0h1m18 0h1m-69 1h1m1 0h1m2 0h1m3 0h1m2 0h1m2 0h1m2 0h1m2 0h1m1 0h5m2 0h1m2 0h2m1 0h1m2 0h1m-47 1h1m14 0h2m3 0h3m4 0h1m4 0h1m7 0h1m33 0h1m43 0h1m-109 1h1m6 0h1m7 0h1m2 0h1m2 0h1m12 0h1m16 0h1m4 0h1m23 0h1m10 0h1m-98 1h1m7 0h1m7 0h2m2 0h1m4 0h2m10 0h1m2 0h2m3 0h1m5 0h1m1 0h1m9 0h1m-46 1h3m3 0h2m3 0h5m1 0h1m7 0h1m4 0h1m27 0h1m-81 1h1m7 0h1m8 0h1m1 0h2m6 0h2m1 0h1m1 0h1m2 0h1m3 0h1m3 0h2m1 0h1m41 0h1m-95 1h1m2 0h1m3 0h1m3 0h2m4 0h1m7 0h1m3 0h2m2 0h1m10 0h1m9 0h1m15 0h1m1 0h1m56 0h1m-122 1h1m8 0h1m2 0h1m14 0h1m15 0h1m4 0h1m6 0h1m4 0h1m-53 1h1m1 0h1m6 0h3m7 0h1m8 0h1m8 0h1m22 0h1m-63 1h3m13 0h2m2 0h1m4 0h2m1 0h1m2 0h1m3 0h1m27 0h1m10 0h2m-74 1h1m11 0h1m1 0h1m3 0h1m1 0h1m28 0h1m8 0h1m14 0h1m26 0h1m-101 1h1m7 0h1m7 0h2m4 0h1m5 0h1m28 0h1m7 0h1m3 0h1m-46 1h1m1 0h1m19 0h1m28 0h1m-93 1h1m11 0h2m7 0h1m3 0h1m9 0h1m8 0h2m19 0h1m68 0h1m-122 1h1m1 0h1m8 0h1m4 0h1m11 0h1m1 0h1m12 0h1m-37 1h1m3 0h1m1 0h1m1 0h1m8 0h1m9 0h1m22 0h1m16 0h1m-73 1h1m4 0h1m1 0h1m16 0h1m-34 1h2m1 0h1m79 0h1m-76 1h1m10 0h1m46 0h1m-56 1h1m6 0h1m11 0h1m78 0h1m11 0h1m-125 1h1m14 0h1m12 0h1m13 0h1m-20 1h1m10 0h1m-32 1h1m5 0h1m14 0h1m4 0h1m-27 1h1m-7 2h1m33 0h1m-2 1h1m60 0h1m-75 1h1m8 0h1m4 0h2m-2 1h1m28 0h1m-43 1h1m48 0h1m-61 1h1m4 0h1m41 0h1m-45 1h1m-7 1h1m6 1h1m-13 2h1m42 1h1m55 3h1m-92 1h1m8 0h1m-28 2h1m16 0h1m90 0h1m-80 2h1m-8 1h1m46 3h1m-77 20h1m96 5h1m-17 4h1" stroke="#000" stroke-width="1.1" fill="none" transform="translate(0.3 0.3)" opacity="0.9"/><g clip-path="url(#c0)" fill="none"><path d="M136.3 3.4L162 295.4" stroke="#22e0e6" stroke-width="3.2"/><path d="M212.3 3.4L187.8 295.4" stroke="#e61ee6" stroke-width="2.7" stroke-dasharray="3.2 5.61" stroke-dashoffset="0.2"/><path d="M280.9 3.4L208.6 295.4" stroke="#000000" stroke-width="2.7" stroke-dasharray="3.2 5.61" stroke-dashoffset="-0.2"/><path d="M329.3 3.4L224.3 295.4" stroke="#0a0ae0" stroke-width="2.7" stroke-dasharray="3.2 5.61" stroke-dashoffset="-0.2"/><path d="M389 3.4L220 295.4" stroke="#22e022" stroke-width="2.7" stroke-dasharray="3.2 5.61" stroke-dashoffset="0.75"/><path d="M438.6 3.4L221.3 295.4" stroke="#e01a1a" stroke-width="2.7" stroke-dasharray="3.2 5.61" stroke-dashoffset="-4.1"/></g><g clip-path="url(#c1)" fill="none"><path d="M453.1 3.4L478.8 295.4" stroke="#22e0e6" stroke-width="3.2" stroke-dasharray="14 13.4" stroke-dashoffset="-4"/><path d="M529.1 3.4L504.6 295.4" stroke="#e61ee6" stroke-width="3.2"/><path d="M597.7 3.4L525.4 295.4" stroke="#000000" stroke-width="2.7" stroke-dasharray="3.2 5.61" stroke-dashoffset="-0.2"/><path d="M646.1 3.4L541.1 295.4" stroke="#0a0ae0" stroke-width="2.7" stroke-dasharray="3.2 5.61" stroke-dashoffset="-0.2"/><path d="M705.8 3.4L536.8 295.4" stroke="#22e022" stroke-width="2.7" stroke-dasharray="3.2 5.61" stroke-dashoffset="0.75"/><path d="M755.4 3.4L538.1 295.4" stroke="#e01a1a" stroke-width="2.7" stroke-dasharray="3.2 5.61" stroke-dashoffset="-4.1"/></g><g clip-path="url(#c2)" fill="none"><path d="M769.3 3.4L795 295.4" stroke="#22e0e6" stroke-width="2.7" stroke-dasharray="3.2 5.61" stroke-dashoffset="0.4"/><path d="M845.3 3.4L820.8 295.4" stroke="#e61ee6" stroke-width="3.2" stroke-dasharray="14 13.4" stroke-dashoffset="-0.64"/><path d="M913.9 3.4L841.6 295.4" stroke="#000000" stroke-width="3.2"/><path d="M962.3 3.4L857.3 295.4" stroke="#0a0ae0" stroke-width="2.7" stroke-dasharray="3.2 5.61" stroke-dashoffset="-0.2"/><path d="M1022 3.4L853 295.4" stroke="#22e022" stroke-width="2.7" stroke-dasharray="3.2 5.61" stroke-dashoffset="0.75"/><path d="M1071.6 3.4L854.3 295.4" stroke="#e01a1a" stroke-width="2.7" stroke-dasharray="3.2 5.61" stroke-dashoffset="-4.1"/></g><g clip-path="url(#c3)" fill="none"><path d="M136.3 319.1L162 611.1" stroke="#22e0e6" stroke-width="2.7" stroke-dasharray="3.2 5.61" stroke-dashoffset="0.4"/><path d="M212.3 319.1L187.8 611.1" stroke="#e61ee6" stroke-width="2.7" stroke-dasharray="3.2 5.61" stroke-dashoffset="0.2"/><path d="M280.9 319.1L208.6 611.1" stroke="#000000" stroke-width="3.2" stroke-dasharray="14 13.4" stroke-dashoffset="-1.2"/><path d="M329.3 319.1L224.3 611.1" stroke="#0a0ae0" stroke-width="3.2"/><path d="M389 319.1L220 611.1" stroke="#22e022" stroke-width="2.7" stroke-dasharray="3.2 5.61" stroke-dashoffset="0.75"/><path d="M438.6 319.1L221.3 611.1" stroke="#e01a1a" stroke-width="2.7" stroke-dasharray="3.2 5.61" stroke-dashoffset="-4.1"/></g><g clip-path="url(#c4)" fill="none"><path d="M453.1 319.1L478.8 611.1" stroke="#22e0e6" stroke-width="2.7" stroke-dasharray="3.2 5.61" stroke-dashoffset="0.4"/><path d="M529.1 319.1L504.6 611.1" stroke="#e61ee6" stroke-width="2.7" stroke-dasharray="3.2 5.61" stroke-dashoffset="0.2"/><path d="M597.7 319.1L525.4 611.1" stroke="#000000" stroke-width="2.7" stroke-dasharray="3.2 5.61" stroke-dashoffset="-0.2"/><path d="M646.1 319.1L541.1 611.1" stroke="#0a0ae0" stroke-width="3.2" stroke-dasharray="14 13.4" stroke-dashoffset="-1.1"/><path d="M705.8 319.1L536.8 611.1" stroke="#22e022" stroke-width="3.2"/><path d="M755.4 319.1L538.1 611.1" stroke="#e01a1a" stroke-width="2.7" stroke-dasharray="3.2 5.61" stroke-dashoffset="-4.1"/></g><g clip-path="url(#c5)" fill="none"><path d="M769.3 319.1L795 611.1" stroke="#22e0e6" stroke-width="2.7" stroke-dasharray="3.2 5.61" stroke-dashoffset="0.4"/><path d="M845.3 319.1L820.8 611.1" stroke="#e61ee6" stroke-width="2.7" stroke-dasharray="3.2 5.61" stroke-dashoffset="0.2"/><path d="M913.9 319.1L841.6 611.1" stroke="#000000" stroke-width="2.7" stroke-dasharray="3.2 5.61" stroke-dashoffset="-0.2"/><path d="M962.3 319.1L857.3 611.1" stroke="#0a0ae0" stroke-width="2.7" stroke-dasharray="3.2 5.61" stroke-dashoffset="-0.2"/><path d="M1022 319.1L853 611.1" stroke="#22e022" stroke-width="3.2" stroke-dasharray="14 13.4" stroke-dashoffset="-1.1"/><path d="M1071.6 319.1L854.3 611.1" stroke="#e01a1a" stroke-width="3.2"/></g><text x="49.55" y="49.4" font-size="29.8" letter-spacing="-0.4" stroke="#000" stroke-width="0.7">1.5</text><text x="72.75" y="121.85" font-size="29.8" stroke="#000" stroke-width="0.7">1</text><text x="47.1" y="195.7" font-size="29.8" letter-spacing="0.8" stroke="#000" stroke-width="0.7">0.5</text><text x="72.95" y="269.3" font-size="29.8" stroke="#000" stroke-width="0.7">0</text><text x="49.55" y="365.1" font-size="29.8" letter-spacing="-0.4" stroke="#000" stroke-width="0.7">1.5</text><text x="72.75" y="437.55" font-size="29.8" stroke="#000" stroke-width="0.7">1</text><text x="47.1" y="511.4" font-size="29.8" letter-spacing="0.8" stroke="#000" stroke-width="0.7">0.5</text><text x="72.95" y="585" font-size="29.8" stroke="#000" stroke-width="0.7">0</text><text x="116.25" y="645.95" font-size="29.26" letter-spacing="2.7" stroke="#000" stroke-width="0.7"><tspan stroke-width="1.5" dy="1.8">&#8722;</tspan><tspan dy="-1.8">16</tspan></text><text x="188.6" y="645.95" font-size="29.26" letter-spacing="3" stroke="#000" stroke-width="0.7"><tspan stroke-width="1.5" dy="1.8">&#8722;</tspan><tspan dy="-1.8">18</tspan></text><text x="262.45" y="645.95" font-size="29.26" letter-spacing="2.5" stroke="#000" stroke-width="0.7"><tspan stroke-width="1.5" dy="1.8">&#8722;</tspan><tspan dy="-1.8">20</tspan></text><text x="335.55" y="645.95" font-size="29.26" letter-spacing="2.5" stroke="#000" stroke-width="0.7"><tspan stroke-width="1.5" dy="1.8">&#8722;</tspan><tspan dy="-1.8">22</tspan></text><text x="433.05" y="645.95" font-size="29.26" letter-spacing="2.7" stroke="#000" stroke-width="0.7"><tspan stroke-width="1.5" dy="1.8">&#8722;</tspan><tspan dy="-1.8">16</tspan></text><text x="505.4" y="645.95" font-size="29.26" letter-spacing="3" stroke="#000" stroke-width="0.7"><tspan stroke-width="1.5" dy="1.8">&#8722;</tspan><tspan dy="-1.8">18</tspan></text><text x="579.25" y="645.95" font-size="29.26" letter-spacing="2.5" stroke="#000" stroke-width="0.7"><tspan stroke-width="1.5" dy="1.8">&#8722;</tspan><tspan dy="-1.8">20</tspan></text><text x="652.35" y="645.95" font-size="29.26" letter-spacing="2.5" stroke="#000" stroke-width="0.7"><tspan stroke-width="1.5" dy="1.8">&#8722;</tspan><tspan dy="-1.8">22</tspan></text><text x="749.25" y="645.95" font-size="29.26" letter-spacing="2.7" stroke="#000" stroke-width="0.7"><tspan stroke-width="1.5" dy="1.8">&#8722;</tspan><tspan dy="-1.8">16</tspan></text><text x="821.6" y="645.95" font-size="29.26" letter-spacing="3" stroke="#000" stroke-width="0.7"><tspan stroke-width="1.5" dy="1.8">&#8722;</tspan><tspan dy="-1.8">18</tspan></text><text x="895.45" y="645.95" font-size="29.26" letter-spacing="2.5" stroke="#000" stroke-width="0.7"><tspan stroke-width="1.5" dy="1.8">&#8722;</tspan><tspan dy="-1.8">20</tspan></text><text x="968.55" y="645.95" font-size="29.26" letter-spacing="2.5" stroke="#000" stroke-width="0.7"><tspan stroke-width="1.5" dy="1.8">&#8722;</tspan><tspan dy="-1.8">22</tspan></text><text x="135.85" y="47" font-size="25.9" letter-spacing="1.6" stroke="#000" stroke-width="0.45">(<tspan font-size="83%">a</tspan>)</text><text x="180.1" y="46.85" font-size="21.37" letter-spacing="2.52" stroke="#000" stroke-width="0.35">0.2&lt;z&lt;0.4</text><text x="135.8" y="81.7" font-size="21.52" letter-spacing="2.68" stroke="#000" stroke-width="0.35">N=2047</text><text x="452.3" y="47" font-size="25.9" letter-spacing="1.4" stroke="#000" stroke-width="0.45">(<tspan font-size="83%">b</tspan>)</text><text x="496.5" y="46.85" font-size="21.37" letter-spacing="2.62" stroke="#000" stroke-width="0.35">0.4&lt;z&lt;0.6</text><text x="453.1" y="81.7" font-size="21.52" letter-spacing="2.28" stroke="#000" stroke-width="0.35">N=2424</text><text x="768.65" y="47" font-size="25.9" letter-spacing="2.2" stroke="#000" stroke-width="0.45">(<tspan font-size="83%">c</tspan>)</text><text x="811.55" y="46.85" font-size="21.37" letter-spacing="2.73" stroke="#000" stroke-width="0.35">0.6&lt;z&lt;0.8</text><text x="769.05" y="81.7" font-size="21.52" letter-spacing="2.48" stroke="#000" stroke-width="0.35">N=8105</text><text x="136.15" y="362.7" font-size="25.9" letter-spacing="1.2" stroke="#000" stroke-width="0.45">(<tspan font-size="83%">d</tspan>)</text><text x="180.1" y="362.55" font-size="21.37" letter-spacing="2.6" stroke="#000" stroke-width="0.35">0.8&lt;z&lt;1.0</text><text x="136.45" y="397.4" font-size="21.52" letter-spacing="2.5" stroke="#000" stroke-width="0.35">N=10620</text><text x="452.95" y="362.7" font-size="25.9" letter-spacing="1.2" stroke="#000" stroke-width="0.45">(<tspan font-size="83%">e</tspan>)</text><text x="498.45" y="362.55" font-size="21.37" letter-spacing="2.27" stroke="#000" stroke-width="0.35">1.0&lt;z&lt;1.2</text><text x="452.9" y="397.4" font-size="21.52" letter-spacing="2.52" stroke="#000" stroke-width="0.35">N=6595</text><text x="769.15" y="362.7" font-size="25.9" letter-spacing="1.7" stroke="#000" stroke-width="0.45">(<tspan font-size="83%">f</tspan>)</text><text x="809.7" y="362.55" font-size="21.37" letter-spacing="2.27" stroke="#000" stroke-width="0.35">1.2&lt;z&lt;1.4</text><text x="769.05" y="397.4" font-size="21.52" letter-spacing="2.48" stroke="#000" stroke-width="0.35">N=4516</text><text x="497.4" y="689.75" font-size="29.18" stroke="#000" stroke-width="0.2">M</text><text x="521.15" y="699.05" font-size="17.52" stroke="#000" stroke-width="0.9">B</text><text x="550.85" y="692.7" font-size="34" stroke="#000" stroke-width="0.1">&#8722;</text><text x="588.85" y="690.7" font-size="30.68" stroke="#000" stroke-width="0.2">5</text><text x="622.7" y="690.15" font-size="27.42" letter-spacing="2.7" stroke="#000" stroke-width="0.2">log</text><text x="680.9" y="689.75" font-size="27.72" stroke="#000" stroke-width="0.2">h</text><text x="24.55" y="345.6" font-size="32.74" letter-spacing="0.8" stroke="#000" stroke-width="0.2" transform="rotate(-90 24.55 345.6)">(U&#8722;B)</text><text x="35.35" y="254.9" font-size="21.53" stroke="#000" stroke-width="0.2" transform="rotate(-90 35.35 254.9)">0</text><path d="M142.62 295.4v-18M142.62 3.4v18M179.25 295.4v-9.25M179.25 3.4v9.25M215.88 295.4v-18M215.88 3.4v18M252.5 295.4v-9.25M252.5 3.4v9.25M289.12 295.4v-18M289.12 3.4v18M325.75 295.4v-9.25M325.75 3.4v9.25M362.38 295.4v-18M362.38 3.4v18M106 258.9h18M399 258.9h-18M106 222.4h9.25M399 222.4h-9.25M106 185.9h18M399 185.9h-18M106 149.4h9.25M399 149.4h-9.25M106 112.9h18M399 112.9h-18M106 76.4h9.25M399 76.4h-9.25M106 39.9h18M399 39.9h-18" stroke="#000" stroke-width="2.8" fill="none"/><rect x="106" y="3.4" width="293" height="292" fill="none" stroke="#000" stroke-width="3" stroke-linejoin="round"/><path d="M459.43 295.4v-18M459.43 3.4v18M496.05 295.4v-9.25M496.05 3.4v9.25M532.67 295.4v-18M532.67 3.4v18M569.3 295.4v-9.25M569.3 3.4v9.25M605.92 295.4v-18M605.92 3.4v18M642.55 295.4v-9.25M642.55 3.4v9.25M679.17 295.4v-18M679.17 3.4v18M422.8 258.9h18M715.8 258.9h-18M422.8 222.4h9.25M715.8 222.4h-9.25M422.8 185.9h18M715.8 185.9h-18M422.8 149.4h9.25M715.8 149.4h-9.25M422.8 112.9h18M715.8 112.9h-18M422.8 76.4h9.25M715.8 76.4h-9.25M422.8 39.9h18M715.8 39.9h-18" stroke="#000" stroke-width="2.8" fill="none"/><rect x="422.8" y="3.4" width="293" height="292" fill="none" stroke="#000" stroke-width="3" stroke-linejoin="round"/><path d="M775.62 295.4v-18M775.62 3.4v18M812.25 295.4v-9.25M812.25 3.4v9.25M848.88 295.4v-18M848.88 3.4v18M885.5 295.4v-9.25M885.5 3.4v9.25M922.12 295.4v-18M922.12 3.4v18M958.75 295.4v-9.25M958.75 3.4v9.25M995.38 295.4v-18M995.38 3.4v18M739 258.9h18M1032 258.9h-18M739 222.4h9.25M1032 222.4h-9.25M739 185.9h18M1032 185.9h-18M739 149.4h9.25M1032 149.4h-9.25M739 112.9h18M1032 112.9h-18M739 76.4h9.25M1032 76.4h-9.25M739 39.9h18M1032 39.9h-18" stroke="#000" stroke-width="2.8" fill="none"/><rect x="739" y="3.4" width="293" height="292" fill="none" stroke="#000" stroke-width="3" stroke-linejoin="round"/><path d="M142.62 611.1v-18M142.62 319.1v18M179.25 611.1v-9.25M179.25 319.1v9.25M215.88 611.1v-18M215.88 319.1v18M252.5 611.1v-9.25M252.5 319.1v9.25M289.12 611.1v-18M289.12 319.1v18M325.75 611.1v-9.25M325.75 319.1v9.25M362.38 611.1v-18M362.38 319.1v18M106 574.6h18M399 574.6h-18M106 538.1h9.25M399 538.1h-9.25M106 501.6h18M399 501.6h-18M106 465.1h9.25M399 465.1h-9.25M106 428.6h18M399 428.6h-18M106 392.1h9.25M399 392.1h-9.25M106 355.6h18M399 355.6h-18" stroke="#000" stroke-width="2.8" fill="none"/><rect x="106" y="319.1" width="293" height="292" fill="none" stroke="#000" stroke-width="3" stroke-linejoin="round"/><path d="M459.43 611.1v-18M459.43 319.1v18M496.05 611.1v-9.25M496.05 319.1v9.25M532.67 611.1v-18M532.67 319.1v18M569.3 611.1v-9.25M569.3 319.1v9.25M605.92 611.1v-18M605.92 319.1v18M642.55 611.1v-9.25M642.55 319.1v9.25M679.17 611.1v-18M679.17 319.1v18M422.8 574.6h18M715.8 574.6h-18M422.8 538.1h9.25M715.8 538.1h-9.25M422.8 501.6h18M715.8 501.6h-18M422.8 465.1h9.25M715.8 465.1h-9.25M422.8 428.6h18M715.8 428.6h-18M422.8 392.1h9.25M715.8 392.1h-9.25M422.8 355.6h18M715.8 355.6h-18" stroke="#000" stroke-width="2.8" fill="none"/><rect x="422.8" y="319.1" width="293" height="292" fill="none" stroke="#000" stroke-width="3" stroke-linejoin="round"/><path d="M775.62 611.1v-18M775.62 319.1v18M812.25 611.1v-9.25M812.25 319.1v9.25M848.88 611.1v-18M848.88 319.1v18M885.5 611.1v-9.25M885.5 319.1v9.25M922.12 611.1v-18M922.12 319.1v18M958.75 611.1v-9.25M958.75 319.1v9.25M995.38 611.1v-18M995.38 319.1v18M739 574.6h18M1032 574.6h-18M739 538.1h9.25M1032 538.1h-9.25M739 501.6h18M1032 501.6h-18M739 465.1h9.25M1032 465.1h-9.25M739 428.6h18M1032 428.6h-18M739 392.1h9.25M1032 392.1h-9.25M739 355.6h18M1032 355.6h-18" stroke="#000" stroke-width="2.8" fill="none"/><rect x="739" y="319.1" width="293" height="292" fill="none" stroke="#000" stroke-width="3" stroke-linejoin="round"/></svg></body></html>
